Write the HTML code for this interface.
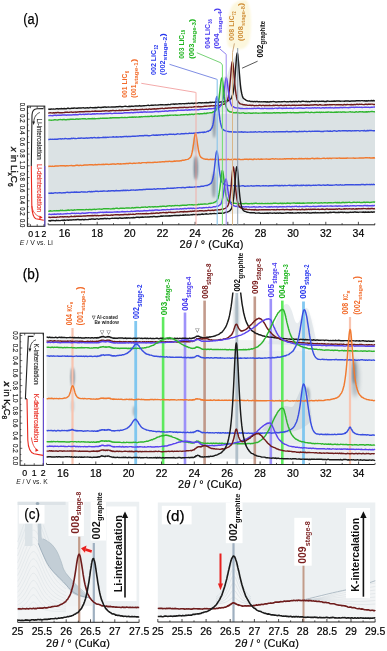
<!DOCTYPE html>
<html><head><meta charset="utf-8"><style>
html,body{margin:0;padding:0;background:#fff;width:387px;height:651px;overflow:hidden}
svg{display:block}
</style></head><body>
<svg width="387" height="651" viewBox="0 0 387 651">
<defs><filter id="bl1" x="-50%" y="-50%" width="200%" height="200%"><feGaussianBlur stdDeviation="1.2"/></filter><filter id="bl2" x="-50%" y="-50%" width="200%" height="200%"><feGaussianBlur stdDeviation="2"/></filter></defs>
<rect width="387" height="651" fill="#fff"/>
<text x="23.2" y="24.2" font-family="'Liberation Sans', Arial, sans-serif" font-size="15.5" fill="#000" stroke="#000" stroke-width="0.25" textLength="15.6" lengthAdjust="spacingAndGlyphs">(a)</text>
<polygon points="48.3,109.8 130.0,106.9 190.0,104.1 210.0,103.3 375.0,101.3 375.0,111.7 210.0,113.7 190.0,114.5 130.0,117.3 48.3,120.2" fill="#eef1f2"/>
<polygon points="48.3,120.2 130.0,117.3 190.0,114.5 210.0,113.7 375.0,111.7 375.0,202.2 210.0,204.2 190.0,205.1 130.0,208.0 48.3,211.0" fill="#dbe2e4"/>
<polygon points="48.3,211.0 130.0,208.0 190.0,205.1 210.0,204.2 375.0,202.2 375.0,212.0 210.0,214.0 190.0,214.9 130.0,217.8 48.3,220.8" fill="#eef1f2"/>
<ellipse cx="195.8" cy="168" rx="1.9" ry="12" fill="#56677a" opacity="0.85" filter="url(#bl1)"/>
<ellipse cx="195.0" cy="145" rx="1.6" ry="7" fill="#8a98a4" opacity="0.5" filter="url(#bl1)"/>
<ellipse cx="214.2" cy="124" rx="1.8" ry="14" fill="#6d7c8a" opacity="0.65" filter="url(#bl1)"/>
<ellipse cx="213.8" cy="185" rx="2.0" ry="13" fill="#6d7c8a" opacity="0.65" filter="url(#bl1)"/>
<ellipse cx="219.5" cy="188" rx="1.6" ry="9" fill="#ffffff" opacity="0.8" filter="url(#bl1)"/>
<path d="M213,112 C216,104 218,96 220,86 C222,78 224,76 227,76 C229,70 231,62 233,60 C235,56 237,53 238.5,56 C240,66 241,84 243,98 C244,104 246,106 248,108 L248,112 Z" fill="#e2e7e9" opacity="0.9"/>
<polyline points="48.3,109.0 49.3,109.3 50.3,109.3 51.3,109.0 52.3,109.1 53.3,109.0 54.3,109.1 55.3,109.1 56.3,108.7 57.3,108.6 58.3,109.0 59.3,108.8 60.3,108.9 61.3,108.5 62.3,108.7 63.3,108.8 64.3,108.5 65.3,108.8 66.3,108.8 67.3,108.3 68.3,108.2 69.3,108.5 70.3,108.6 71.3,108.3 72.3,108.2 73.3,108.3 74.3,108.0 75.3,108.1 76.3,108.2 77.3,108.2 78.3,108.0 79.3,108.0 80.3,107.9 81.3,108.0 82.3,107.9 83.3,107.7 84.3,108.1 85.3,107.9 86.3,107.9 87.3,107.7 88.3,108.0 89.3,107.9 90.3,107.5 91.3,107.6 92.3,107.7 93.3,107.7 94.3,107.8 95.3,107.5 96.3,107.7 97.3,107.5 98.3,107.3 99.3,107.4 100.3,107.5 101.3,107.5 102.3,107.3 103.3,107.3 104.3,107.0 105.3,107.0 106.3,107.3 107.3,107.1 108.3,106.9 109.3,107.1 110.3,107.1 111.3,107.0 112.3,106.9 113.3,106.9 114.3,106.9 115.3,107.0 116.3,106.8 117.3,106.7 118.3,106.7 119.3,106.4 120.3,106.4 121.3,106.7 122.3,106.8 123.3,106.6 124.3,106.4 125.3,106.3 126.3,106.4 127.3,106.6 128.3,106.5 129.3,106.3 130.3,106.5 131.3,106.1 132.3,106.2 133.3,106.4 134.3,106.1 135.3,106.0 136.3,105.9 137.3,106.0 138.3,106.1 139.3,105.6 140.3,106.0 141.3,105.9 142.3,105.9 143.3,105.8 144.3,105.8 145.3,105.6 146.3,105.6 147.3,105.4 148.3,105.2 149.3,105.6 150.3,105.4 151.3,105.1 152.3,105.2 153.3,105.2 154.3,105.1 155.3,105.0 156.3,105.1 157.3,105.1 158.3,105.0 159.3,104.9 160.3,104.6 161.3,104.7 162.3,104.6 163.3,104.8 164.3,104.9 165.3,104.8 166.3,104.7 167.3,104.7 168.3,104.4 169.3,104.6 170.3,104.5 171.3,104.1 172.3,104.1 173.3,104.0 174.3,104.3 175.3,104.0 176.3,103.9 177.3,104.1 178.3,103.9 179.3,103.7 180.3,103.7 181.3,103.9 182.3,103.6 183.3,103.6 184.3,103.8 185.3,103.6 186.3,103.5 187.3,103.6 188.3,103.3 189.3,103.4 190.3,103.4 191.3,103.2 192.3,103.1 193.3,103.5 194.3,103.2 195.3,103.0 196.3,103.2 197.3,103.2 198.3,102.8 199.3,102.8 200.3,102.8 201.3,103.0 202.3,102.7 203.3,102.9 204.3,102.8 205.3,102.7 206.3,102.5 207.3,102.8 208.3,102.7 209.3,102.5 210.3,102.3 211.3,102.5 212.3,102.3 213.3,102.4 214.3,102.2 215.3,102.3 216.3,102.0 217.3,102.0 218.3,102.3 219.3,102.2 220.3,101.9 221.3,102.1 222.3,101.7 223.3,101.9 224.3,101.6 225.3,101.3 226.3,101.0 227.3,100.6 228.3,100.7 229.3,99.8 230.3,99.4 231.3,98.3 231.8,97.2 232.3,95.7 232.8,94.3 233.3,91.9 233.8,88.5 234.3,84.2 234.8,78.9 235.3,72.7 235.8,66.0 236.3,59.9 236.8,55.0 237.3,53.0 237.8,54.8 238.3,59.9 238.8,66.0 239.3,72.8 239.8,78.8 240.3,84.3 240.8,88.6 241.3,91.4 241.8,93.9 242.3,95.7 242.8,97.3 243.3,98.1 244.3,99.0 245.3,99.7 246.3,100.4 247.3,100.8 248.3,101.1 249.3,101.0 250.3,101.4 251.3,101.4 252.3,101.4 253.3,101.7 254.3,101.4 255.3,101.7 256.3,101.4 257.3,101.5 258.3,101.9 259.3,101.6 260.3,101.9 261.3,101.8 262.3,101.9 263.3,101.7 264.3,101.7 265.3,101.7 266.3,102.0 267.3,101.8 268.3,102.0 269.3,102.0 270.3,101.6 271.3,101.8 272.3,101.6 273.3,101.5 274.3,101.6 275.3,101.9 276.3,101.9 277.3,101.9 278.3,101.7 279.3,101.8 280.3,101.9 281.3,101.7 282.3,101.8 283.3,101.6 284.3,101.5 285.3,101.6 286.3,101.9 287.3,101.7 288.3,101.9 289.3,101.6 290.3,101.5 291.3,101.8 292.3,101.8 293.3,101.4 294.3,101.7 295.3,101.4 296.3,101.4 297.3,101.8 298.3,101.3 299.3,101.4 300.3,101.8 301.3,101.5 302.3,101.3 303.3,101.3 304.3,101.4 305.3,101.6 306.3,101.3 307.3,101.7 308.3,101.4 309.3,101.7 310.3,101.6 311.3,101.3 312.3,101.3 313.3,101.4 314.3,101.2 315.3,101.5 316.3,101.1 317.3,101.1 318.3,101.6 319.3,101.2 320.3,101.4 321.3,101.3 322.3,101.2 323.3,101.1 324.3,101.5 325.3,101.5 326.3,101.5 327.3,101.0 328.3,101.1 329.3,101.3 330.3,101.4 331.3,101.2 332.3,101.3 333.3,101.3 334.3,101.0 335.3,101.2 336.3,101.0 337.3,101.0 338.3,100.9 339.3,101.0 340.3,101.3 341.3,101.1 342.3,101.1 343.3,101.1 344.3,101.3 345.3,101.0 346.3,100.9 347.3,100.9 348.3,100.9 349.3,101.2 350.3,101.2 351.3,100.9 352.3,100.9 353.3,101.0 354.3,101.0 355.3,101.0 356.3,100.8 357.3,100.7 358.3,100.8 359.3,100.7 360.3,100.9 361.3,100.6 362.3,100.6 363.3,100.9 364.3,100.7 365.3,101.0 366.3,100.8 367.3,101.0 368.3,100.6 369.3,100.8 370.3,100.9 371.3,100.5 372.3,100.9 373.3,100.5 374.3,100.8 375.0,100.9" fill="none" stroke="#1a1a1a" stroke-width="1.45" stroke-linejoin="round" />
<polyline points="48.3,113.2 49.3,112.9 50.3,112.7 51.3,112.9 52.3,113.1 53.3,112.7 54.3,113.0 55.3,112.6 56.3,112.9 57.3,112.4 58.3,112.5 59.3,112.8 60.3,112.7 61.3,112.7 62.3,112.7 63.3,112.6 64.3,112.5 65.3,112.2 66.3,112.3 67.3,112.1 68.3,112.4 69.3,112.3 70.3,112.1 71.3,111.9 72.3,112.4 73.3,112.2 74.3,112.1 75.3,112.0 76.3,112.2 77.3,111.9 78.3,111.9 79.3,111.8 80.3,111.7 81.3,111.6 82.3,111.8 83.3,111.7 84.3,111.7 85.3,111.4 86.3,111.5 87.3,111.4 88.3,111.4 89.3,111.4 90.3,111.6 91.3,111.4 92.3,111.3 93.3,111.4 94.3,111.2 95.3,111.0 96.3,111.3 97.3,111.2 98.3,111.3 99.3,111.1 100.3,111.2 101.3,111.2 102.3,110.9 103.3,111.0 104.3,111.0 105.3,110.8 106.3,110.8 107.3,110.9 108.3,111.0 109.3,111.0 110.3,110.6 111.3,110.8 112.3,110.4 113.3,110.4 114.3,110.6 115.3,110.8 116.3,110.4 117.3,110.6 118.3,110.6 119.3,110.3 120.3,110.5 121.3,110.5 122.3,110.2 123.3,110.4 124.3,110.4 125.3,110.2 126.3,110.3 127.3,110.3 128.3,110.3 129.3,110.1 130.3,109.9 131.3,109.8 132.3,109.8 133.3,109.9 134.3,109.9 135.3,109.5 136.3,109.8 137.3,109.8 138.3,109.6 139.3,109.6 140.3,109.4 141.3,109.6 142.3,109.2 143.3,109.6 144.3,109.5 145.3,109.4 146.3,109.1 147.3,109.4 148.3,109.4 149.3,108.9 150.3,109.2 151.3,109.2 152.3,109.0 153.3,109.0 154.3,108.8 155.3,109.0 156.3,109.0 157.3,108.6 158.3,108.8 159.3,108.6 160.3,108.4 161.3,108.4 162.3,108.3 163.3,108.6 164.3,108.6 165.3,108.1 166.3,108.3 167.3,108.2 168.3,108.0 169.3,108.0 170.3,107.9 171.3,108.1 172.3,107.7 173.3,107.8 174.3,107.8 175.3,107.6 176.3,107.8 177.3,107.8 178.3,107.8 179.3,107.5 180.3,107.5 181.3,107.5 182.3,107.4 183.3,107.5 184.3,107.3 185.3,107.4 186.3,107.4 187.3,107.4 188.3,107.4 189.3,107.1 190.3,107.1 191.3,107.2 192.3,107.1 193.3,107.0 194.3,106.8 195.3,106.7 196.3,106.6 197.3,106.9 198.3,106.5 199.3,106.8 200.3,106.6 201.3,106.8 202.3,106.6 203.3,106.6 204.3,106.2 205.3,106.3 206.3,106.3 207.3,106.1 208.3,106.1 209.3,106.0 210.3,106.0 211.3,105.7 212.3,105.9 213.3,105.8 214.3,105.7 215.3,105.7 216.3,105.8 217.3,105.6 218.3,105.4 219.3,105.4 220.3,105.1 221.3,104.8 222.3,104.5 223.3,104.3 224.3,104.0 225.3,103.5 226.3,102.5 226.4,102.2 226.9,101.6 227.3,100.5 227.4,100.4 227.9,98.6 228.3,97.0 228.4,96.7 228.9,93.4 229.3,90.3 229.4,89.7 229.9,84.9 230.3,80.4 230.4,79.1 230.9,73.3 231.3,68.6 231.4,67.5 231.9,63.4 232.3,61.7 232.4,61.7 232.9,63.4 233.3,66.7 233.4,67.5 233.9,73.4 234.3,78.2 234.4,79.4 234.9,84.9 235.3,88.7 235.4,89.6 235.9,93.5 236.3,96.0 236.4,96.5 236.9,98.7 237.3,100.0 237.4,100.3 237.9,101.3 238.3,101.8 238.4,101.9 239.3,103.1 240.3,103.9 241.3,104.1 242.3,104.3 243.3,104.8 244.3,104.8 245.3,105.0 246.3,104.9 247.3,105.2 248.3,105.4 249.3,105.3 250.3,105.3 251.3,105.5 252.3,105.2 253.3,105.4 254.3,105.7 255.3,105.6 256.3,105.4 257.3,105.6 258.3,105.5 259.3,105.3 260.3,105.3 261.3,105.7 262.3,105.4 263.3,105.3 264.3,105.7 265.3,105.5 266.3,105.4 267.3,105.5 268.3,105.6 269.3,105.3 270.3,105.5 271.3,105.6 272.3,105.6 273.3,105.3 274.3,105.5 275.3,105.3 276.3,105.4 277.3,105.2 278.3,105.5 279.3,105.6 280.3,105.3 281.3,105.2 282.3,105.6 283.3,105.5 284.3,105.5 285.3,105.1 286.3,105.5 287.3,105.4 288.3,105.2 289.3,105.3 290.3,105.4 291.3,105.4 292.3,105.1 293.3,105.3 294.3,105.1 295.3,105.5 296.3,105.2 297.3,105.4 298.3,105.3 299.3,105.2 300.3,105.1 301.3,105.2 302.3,105.0 303.3,105.0 304.3,105.2 305.3,105.0 306.3,105.2 307.3,105.0 308.3,105.2 309.3,105.2 310.3,105.0 311.3,104.9 312.3,105.0 313.3,105.0 314.3,104.8 315.3,104.8 316.3,104.8 317.3,105.0 318.3,105.2 319.3,104.8 320.3,104.7 321.3,105.0 322.3,105.1 323.3,105.1 324.3,105.0 325.3,104.8 326.3,105.0 327.3,104.7 328.3,104.9 329.3,104.6 330.3,104.8 331.3,104.8 332.3,104.7 333.3,104.6 334.3,104.6 335.3,104.9 336.3,104.7 337.3,104.8 338.3,104.6 339.3,104.8 340.3,104.6 341.3,104.7 342.3,104.9 343.3,104.9 344.3,104.4 345.3,104.8 346.3,104.8 347.3,104.5 348.3,104.6 349.3,104.6 350.3,104.8 351.3,104.5 352.3,104.8 353.3,104.7 354.3,104.4 355.3,104.7 356.3,104.3 357.3,104.3 358.3,104.6 359.3,104.3 360.3,104.4 361.3,104.3 362.3,104.4 363.3,104.6 364.3,104.6 365.3,104.2 366.3,104.2 367.3,104.6 368.3,104.1 369.3,104.2 370.3,104.2 371.3,104.1 372.3,104.1 373.3,104.4 374.3,104.4 375.0,104.4" fill="none" stroke="#6e1c1c" stroke-width="1.45" stroke-linejoin="round" />
<polyline points="48.3,115.8 49.3,115.6 50.3,115.5 51.3,115.6 52.3,115.7 53.3,115.5 54.3,115.3 55.3,115.1 56.3,115.5 57.3,115.3 58.3,115.2 59.3,115.3 60.3,115.2 61.3,115.2 62.3,114.9 63.3,115.0 64.3,115.0 65.3,114.9 66.3,115.2 67.3,114.9 68.3,115.0 69.3,115.0 70.3,114.9 71.3,114.9 72.3,114.9 73.3,114.6 74.3,114.9 75.3,114.5 76.3,114.8 77.3,114.8 78.3,114.7 79.3,114.3 80.3,114.3 81.3,114.6 82.3,114.4 83.3,114.3 84.3,114.6 85.3,114.1 86.3,114.3 87.3,114.2 88.3,114.0 89.3,114.1 90.3,114.2 91.3,114.3 92.3,113.8 93.3,114.0 94.3,113.8 95.3,114.1 96.3,113.7 97.3,113.6 98.3,113.8 99.3,113.9 100.3,113.7 101.3,113.6 102.3,113.9 103.3,113.8 104.3,113.8 105.3,113.5 106.3,113.5 107.3,113.4 108.3,113.5 109.3,113.4 110.3,113.3 111.3,113.5 112.3,113.6 113.3,113.4 114.3,113.1 115.3,113.3 116.3,113.2 117.3,113.4 118.3,113.3 119.3,113.3 120.3,113.2 121.3,113.1 122.3,113.2 123.3,113.1 124.3,112.8 125.3,112.7 126.3,112.8 127.3,112.8 128.3,112.6 129.3,112.7 130.3,112.8 131.3,112.4 132.3,112.8 133.3,112.7 134.3,112.4 135.3,112.4 136.3,112.4 137.3,112.3 138.3,112.5 139.3,112.3 140.3,112.3 141.3,112.0 142.3,112.4 143.3,112.0 144.3,112.0 145.3,111.8 146.3,112.2 147.3,111.9 148.3,112.1 149.3,112.0 150.3,112.0 151.3,111.9 152.3,111.9 153.3,111.9 154.3,111.8 155.3,111.4 156.3,111.5 157.3,111.5 158.3,111.7 159.3,111.5 160.3,111.4 161.3,111.4 162.3,111.2 163.3,111.4 164.3,111.2 165.3,111.0 166.3,111.0 167.3,111.2 168.3,111.0 169.3,110.7 170.3,110.7 171.3,110.9 172.3,110.8 173.3,110.9 174.3,110.5 175.3,110.6 176.3,110.7 177.3,110.3 178.3,110.3 179.3,110.4 180.3,110.3 181.3,110.1 182.3,110.2 183.3,110.3 184.3,110.2 185.3,109.9 186.3,109.9 187.3,110.2 188.3,110.0 189.3,109.8 190.3,110.1 191.3,109.6 192.3,109.7 193.3,109.9 194.3,109.8 195.3,109.5 196.3,109.8 197.3,109.6 198.3,109.7 199.3,109.6 200.3,109.3 201.3,109.4 202.3,109.3 203.3,109.4 204.3,109.3 205.3,109.2 206.3,109.2 207.3,109.2 208.3,108.8 209.3,108.6 210.3,108.8 211.3,108.8 212.3,108.6 213.3,108.5 214.3,108.3 215.3,108.4 216.3,108.2 217.3,107.8 218.3,107.3 219.3,107.2 220.3,106.2 220.8,105.5 221.3,104.8 221.8,103.9 222.3,102.0 222.8,100.0 223.3,97.4 223.8,94.3 224.3,90.4 224.8,86.3 225.3,82.0 225.8,79.0 226.3,77.8 226.8,79.0 227.3,82.0 227.8,86.1 228.3,90.4 228.8,94.0 229.3,97.5 229.8,100.0 230.3,102.0 230.8,103.7 231.3,104.8 231.8,105.6 232.3,106.4 233.3,106.7 234.3,107.4 235.3,107.8 236.3,107.9 237.3,108.0 238.3,108.0 239.3,108.1 240.3,108.5 241.3,108.5 242.3,108.4 243.3,108.6 244.3,108.6 245.3,108.6 246.3,108.4 247.3,108.4 248.3,108.6 249.3,108.4 250.3,108.6 251.3,108.5 252.3,108.4 253.3,108.5 254.3,108.3 255.3,108.4 256.3,108.4 257.3,108.2 258.3,108.3 259.3,108.3 260.3,108.6 261.3,108.5 262.3,108.3 263.3,108.7 264.3,108.3 265.3,108.4 266.3,108.5 267.3,108.5 268.3,108.4 269.3,108.5 270.3,108.4 271.3,108.5 272.3,108.3 273.3,108.6 274.3,108.4 275.3,108.1 276.3,108.1 277.3,108.5 278.3,108.2 279.3,108.0 280.3,108.1 281.3,108.3 282.3,108.5 283.3,108.2 284.3,108.3 285.3,108.4 286.3,108.0 287.3,108.3 288.3,108.4 289.3,108.2 290.3,108.2 291.3,108.1 292.3,108.4 293.3,108.4 294.3,107.9 295.3,108.1 296.3,108.1 297.3,108.2 298.3,107.9 299.3,107.9 300.3,107.9 301.3,108.0 302.3,108.2 303.3,108.2 304.3,108.2 305.3,108.1 306.3,107.8 307.3,107.9 308.3,108.0 309.3,107.9 310.3,107.9 311.3,108.1 312.3,107.7 313.3,108.1 314.3,107.7 315.3,107.8 316.3,108.1 317.3,107.7 318.3,107.9 319.3,107.8 320.3,108.0 321.3,108.1 322.3,107.7 323.3,107.8 324.3,108.0 325.3,107.8 326.3,107.6 327.3,107.9 328.3,107.7 329.3,107.7 330.3,107.5 331.3,107.9 332.3,107.8 333.3,107.9 334.3,107.9 335.3,107.5 336.3,107.7 337.3,107.6 338.3,107.8 339.3,107.8 340.3,107.5 341.3,107.5 342.3,107.7 343.3,107.5 344.3,107.4 345.3,107.4 346.3,107.6 347.3,107.6 348.3,107.7 349.3,107.5 350.3,107.5 351.3,107.3 352.3,107.4 353.3,107.3 354.3,107.5 355.3,107.3 356.3,107.3 357.3,107.3 358.3,107.4 359.3,107.3 360.3,107.4 361.3,107.2 362.3,107.5 363.3,107.4 364.3,107.3 365.3,107.1 366.3,107.2 367.3,107.4 368.3,107.3 369.3,107.4 370.3,107.4 371.3,107.1 372.3,107.2 373.3,107.1 374.3,107.0 375.0,107.0" fill="none" stroke="#5a44ee" stroke-width="1.45" stroke-linejoin="round" />
<polyline points="48.3,120.1 49.3,120.0 50.3,120.1 51.3,120.2 52.3,120.1 53.3,120.1 54.3,119.8 55.3,119.8 56.3,119.9 57.3,120.1 58.3,119.8 59.3,119.6 60.3,119.5 61.3,119.6 62.3,119.8 63.3,119.5 64.3,119.5 65.3,119.7 66.3,119.8 67.3,119.4 68.3,119.5 69.3,119.5 70.3,119.2 71.3,119.3 72.3,119.2 73.3,119.2 74.3,119.4 75.3,119.3 76.3,119.0 77.3,119.0 78.3,119.2 79.3,118.9 80.3,119.0 81.3,118.9 82.3,118.8 83.3,118.7 84.3,118.7 85.3,118.8 86.3,119.1 87.3,118.9 88.3,118.6 89.3,118.8 90.3,118.6 91.3,118.7 92.3,118.5 93.3,118.8 94.3,118.5 95.3,118.7 96.3,118.6 97.3,118.6 98.3,118.5 99.3,118.6 100.3,118.3 101.3,118.4 102.3,118.3 103.3,118.3 104.3,118.2 105.3,118.2 106.3,118.1 107.3,118.3 108.3,118.1 109.3,118.1 110.3,117.8 111.3,118.0 112.3,117.8 113.3,117.7 114.3,117.8 115.3,117.8 116.3,117.7 117.3,117.6 118.3,117.7 119.3,117.7 120.3,117.6 121.3,117.4 122.3,117.5 123.3,117.6 124.3,117.5 125.3,117.5 126.3,117.6 127.3,117.5 128.3,117.4 129.3,117.1 130.3,117.2 131.3,117.3 132.3,117.0 133.3,117.3 134.3,116.9 135.3,117.2 136.3,116.9 137.3,117.1 138.3,117.1 139.3,116.8 140.3,117.0 141.3,116.6 142.3,116.9 143.3,116.6 144.3,116.6 145.3,116.4 146.3,116.6 147.3,116.4 148.3,116.5 149.3,116.5 150.3,116.4 151.3,116.0 152.3,116.5 153.3,116.4 154.3,116.2 155.3,116.0 156.3,116.1 157.3,116.2 158.3,115.9 159.3,116.0 160.3,115.9 161.3,115.8 162.3,116.0 163.3,115.7 164.3,115.7 165.3,115.4 166.3,115.6 167.3,115.3 168.3,115.6 169.3,115.2 170.3,115.2 171.3,115.1 172.3,115.1 173.3,115.2 174.3,115.1 175.3,115.0 176.3,115.3 177.3,115.2 178.3,115.1 179.3,115.1 180.3,115.0 181.3,114.7 182.3,114.9 183.3,114.6 184.3,114.7 185.3,114.6 186.3,114.4 187.3,114.7 188.3,114.7 189.3,114.3 190.3,114.6 191.3,114.2 192.3,114.3 193.3,114.5 194.3,114.3 195.3,113.9 196.3,114.0 197.3,113.9 198.3,113.8 199.3,114.0 200.3,113.8 201.3,113.8 202.3,113.7 203.3,113.6 204.3,113.3 205.3,113.5 206.3,113.5 207.3,113.0 208.3,113.1 209.3,112.9 210.3,112.7 211.3,112.7 212.3,112.6 213.3,111.8 214.3,111.8 215.3,110.9 215.8,110.6 216.3,109.6 216.8,109.0 217.3,107.4 217.8,105.7 218.3,103.7 218.8,100.4 219.3,96.7 219.8,92.0 220.3,87.2 220.8,82.6 221.3,79.3 221.8,77.9 222.3,79.0 222.8,82.5 223.3,87.2 223.8,92.1 224.3,96.7 224.8,100.5 225.3,103.2 225.8,105.7 226.3,107.3 226.8,108.5 227.3,109.4 227.8,110.1 228.3,110.9 229.3,111.5 230.3,112.0 231.3,112.0 232.3,112.2 233.3,112.7 234.3,112.8 235.3,112.9 236.3,112.5 237.3,112.8 238.3,112.9 239.3,113.0 240.3,113.1 241.3,113.0 242.3,112.9 243.3,112.7 244.3,113.2 245.3,113.3 246.3,113.2 247.3,113.1 248.3,112.9 249.3,112.9 250.3,113.2 251.3,113.2 252.3,113.3 253.3,112.9 254.3,113.1 255.3,113.0 256.3,113.0 257.3,113.1 258.3,113.2 259.3,113.1 260.3,113.1 261.3,113.1 262.3,113.0 263.3,113.0 264.3,112.8 265.3,113.1 266.3,112.7 267.3,113.0 268.3,112.9 269.3,112.9 270.3,113.0 271.3,112.9 272.3,113.1 273.3,112.7 274.3,112.6 275.3,113.1 276.3,112.7 277.3,112.7 278.3,112.8 279.3,112.8 280.3,113.0 281.3,112.9 282.3,112.7 283.3,112.8 284.3,112.7 285.3,112.7 286.3,112.7 287.3,112.5 288.3,112.6 289.3,112.6 290.3,112.5 291.3,112.8 292.3,112.6 293.3,112.5 294.3,112.7 295.3,112.8 296.3,112.8 297.3,112.7 298.3,112.7 299.3,112.5 300.3,112.4 301.3,112.4 302.3,112.5 303.3,112.4 304.3,112.5 305.3,112.3 306.3,112.3 307.3,112.4 308.3,112.3 309.3,112.6 310.3,112.5 311.3,112.3 312.3,112.4 313.3,112.6 314.3,112.4 315.3,112.4 316.3,112.3 317.3,112.2 318.3,112.4 319.3,112.1 320.3,112.5 321.3,112.1 322.3,112.4 323.3,112.2 324.3,112.4 325.3,112.3 326.3,112.1 327.3,112.3 328.3,112.0 329.3,112.1 330.3,112.2 331.3,112.1 332.3,112.3 333.3,112.4 334.3,112.1 335.3,112.3 336.3,112.0 337.3,112.2 338.3,112.0 339.3,112.1 340.3,111.9 341.3,112.3 342.3,111.9 343.3,112.0 344.3,112.0 345.3,112.2 346.3,112.1 347.3,112.1 348.3,112.1 349.3,111.9 350.3,111.8 351.3,112.1 352.3,111.9 353.3,112.1 354.3,112.2 355.3,112.0 356.3,111.7 357.3,112.1 358.3,112.0 359.3,111.8 360.3,111.7 361.3,111.9 362.3,111.7 363.3,112.0 364.3,111.9 365.3,112.0 366.3,111.7 367.3,112.0 368.3,111.6 369.3,111.9 370.3,111.6 371.3,111.5 372.3,111.5 373.3,111.6 374.3,111.8 375.0,111.6" fill="none" stroke="#2fb52f" stroke-width="1.45" stroke-linejoin="round" />
<polyline points="48.3,139.4 49.3,139.4 50.3,139.2 51.3,139.4 52.3,139.3 53.3,139.4 54.3,139.2 55.3,139.3 56.3,139.3 57.3,139.2 58.3,139.0 59.3,138.9 60.3,138.8 61.3,139.1 62.3,138.7 63.3,138.9 64.3,138.8 65.3,138.5 66.3,138.6 67.3,138.9 68.3,138.7 69.3,138.8 70.3,138.8 71.3,138.3 72.3,138.6 73.3,138.2 74.3,138.4 75.3,138.4 76.3,138.6 77.3,138.4 78.3,138.1 79.3,138.3 80.3,138.2 81.3,138.0 82.3,138.1 83.3,138.3 84.3,138.3 85.3,138.2 86.3,137.8 87.3,138.2 88.3,137.9 89.3,138.1 90.3,137.7 91.3,137.6 92.3,138.0 93.3,137.6 94.3,137.5 95.3,137.7 96.3,137.9 97.3,137.8 98.3,137.5 99.3,137.8 100.3,137.6 101.3,137.6 102.3,137.5 103.3,137.3 104.3,137.5 105.3,137.3 106.3,137.5 107.3,137.3 108.3,137.4 109.3,137.1 110.3,137.1 111.3,137.1 112.3,137.0 113.3,136.8 114.3,137.0 115.3,137.1 116.3,136.8 117.3,137.0 118.3,137.0 119.3,136.9 120.3,136.7 121.3,137.0 122.3,136.8 123.3,136.7 124.3,136.4 125.3,136.6 126.3,136.3 127.3,136.7 128.3,136.4 129.3,136.4 130.3,136.4 131.3,136.4 132.3,136.3 133.3,136.2 134.3,136.2 135.3,136.3 136.3,136.1 137.3,136.0 138.3,136.1 139.3,135.7 140.3,135.7 141.3,135.8 142.3,135.6 143.3,135.9 144.3,135.5 145.3,135.4 146.3,135.5 147.3,135.5 148.3,135.7 149.3,135.7 150.3,135.6 151.3,135.4 152.3,135.1 153.3,135.0 154.3,135.3 155.3,135.3 156.3,135.0 157.3,135.3 158.3,135.0 159.3,135.0 160.3,135.0 161.3,134.6 162.3,134.6 163.3,135.0 164.3,134.6 165.3,134.4 166.3,134.5 167.3,134.7 168.3,134.4 169.3,134.3 170.3,134.3 171.3,134.3 172.3,134.4 173.3,134.1 174.3,134.4 175.3,134.4 176.3,134.3 177.3,133.8 178.3,133.9 179.3,134.1 180.3,134.1 181.3,133.6 182.3,133.7 183.3,133.7 184.3,133.8 185.3,133.4 186.3,133.5 187.3,133.6 188.3,133.6 189.3,133.1 190.3,133.4 191.3,133.3 192.3,133.4 193.3,133.1 194.3,133.3 195.3,132.9 196.3,132.7 197.3,132.7 198.3,132.8 199.3,132.5 200.3,132.5 201.3,132.4 202.3,132.2 203.3,132.5 204.3,132.0 205.3,132.2 206.3,131.8 207.3,131.3 208.3,131.4 209.3,130.4 210.3,130.3 210.9,129.2 211.3,128.8 211.4,128.8 211.9,127.6 212.3,127.0 212.4,126.3 212.9,124.9 213.3,122.7 213.4,122.4 213.9,119.1 214.3,116.1 214.4,115.4 214.9,110.8 215.3,106.9 215.4,106.1 215.9,101.2 216.3,98.2 216.4,97.9 216.9,96.4 217.3,97.6 217.4,97.8 217.9,101.3 218.3,104.8 218.4,105.7 218.9,110.6 219.3,114.6 219.4,115.4 219.9,119.4 220.3,121.7 220.4,122.4 220.9,124.6 221.3,125.9 221.4,126.4 221.9,127.8 222.3,128.6 222.4,128.9 222.9,129.5 223.3,129.7 224.3,130.4 225.3,130.8 226.3,131.1 227.3,131.4 228.3,131.5 229.3,131.8 230.3,131.7 231.3,131.8 232.3,132.0 233.3,132.0 234.3,131.9 235.3,132.0 236.3,132.1 237.3,132.0 238.3,131.9 239.3,131.9 240.3,132.1 241.3,131.8 242.3,132.0 243.3,132.2 244.3,131.9 245.3,132.0 246.3,132.1 247.3,132.2 248.3,132.1 249.3,132.1 250.3,132.0 251.3,132.0 252.3,132.1 253.3,131.9 254.3,132.1 255.3,131.7 256.3,132.1 257.3,132.1 258.3,131.9 259.3,131.7 260.3,131.9 261.3,132.0 262.3,132.1 263.3,132.1 264.3,131.8 265.3,131.7 266.3,131.7 267.3,132.1 268.3,131.9 269.3,131.7 270.3,131.9 271.3,132.1 272.3,131.9 273.3,131.7 274.3,132.0 275.3,131.9 276.3,131.6 277.3,131.9 278.3,131.8 279.3,131.8 280.3,131.7 281.3,131.6 282.3,131.7 283.3,131.7 284.3,131.7 285.3,131.9 286.3,131.4 287.3,131.5 288.3,131.9 289.3,131.7 290.3,131.7 291.3,131.7 292.3,131.5 293.3,131.5 294.3,131.4 295.3,131.4 296.3,131.8 297.3,131.7 298.3,131.7 299.3,131.3 300.3,131.6 301.3,131.4 302.3,131.5 303.3,131.6 304.3,131.2 305.3,131.4 306.3,131.5 307.3,131.6 308.3,131.4 309.3,131.3 310.3,131.4 311.3,131.4 312.3,131.3 313.3,131.4 314.3,131.2 315.3,131.1 316.3,131.2 317.3,131.1 318.3,131.3 319.3,131.3 320.3,131.4 321.3,131.4 322.3,131.4 323.3,131.5 324.3,131.1 325.3,131.1 326.3,131.1 327.3,131.0 328.3,131.2 329.3,131.2 330.3,131.0 331.3,131.3 332.3,131.4 333.3,130.9 334.3,130.8 335.3,130.9 336.3,131.2 337.3,131.2 338.3,130.8 339.3,130.8 340.3,131.0 341.3,130.9 342.3,130.8 343.3,130.7 344.3,130.8 345.3,130.8 346.3,130.8 347.3,131.0 348.3,130.8 349.3,130.8 350.3,130.8 351.3,131.1 352.3,130.7 353.3,130.9 354.3,130.8 355.3,130.8 356.3,130.8 357.3,130.6 358.3,130.6 359.3,130.9 360.3,130.9 361.3,130.6 362.3,130.6 363.3,130.9 364.3,130.5 365.3,130.9 366.3,130.9 367.3,130.5 368.3,130.8 369.3,130.5 370.3,130.4 371.3,130.5 372.3,130.6 373.3,130.7 374.3,130.6 375.0,130.7" fill="none" stroke="#3a4fe0" stroke-width="1.45" stroke-linejoin="round" />
<polyline points="48.3,166.5 49.3,166.2 50.3,166.2 51.3,166.4 52.3,166.1 53.3,166.4 54.3,166.3 55.3,166.0 56.3,166.0 57.3,165.9 58.3,166.0 59.3,165.9 60.3,165.7 61.3,165.8 62.3,165.7 63.3,165.8 64.3,165.8 65.3,166.0 66.3,165.8 67.3,165.8 68.3,165.9 69.3,165.6 70.3,165.6 71.3,165.4 72.3,165.7 73.3,165.7 74.3,165.7 75.3,165.5 76.3,165.2 77.3,165.1 78.3,165.5 79.3,165.5 80.3,165.3 81.3,165.4 82.3,165.4 83.3,165.3 84.3,165.0 85.3,165.0 86.3,165.0 87.3,164.9 88.3,164.9 89.3,164.7 90.3,164.7 91.3,164.7 92.3,164.8 93.3,165.0 94.3,164.9 95.3,164.5 96.3,164.7 97.3,164.7 98.3,164.4 99.3,164.4 100.3,164.6 101.3,164.4 102.3,164.5 103.3,164.3 104.3,164.6 105.3,164.3 106.3,164.3 107.3,164.3 108.3,164.4 109.3,164.4 110.3,164.3 111.3,164.2 112.3,163.9 113.3,163.9 114.3,164.0 115.3,164.2 116.3,164.1 117.3,163.8 118.3,163.8 119.3,164.1 120.3,163.8 121.3,164.0 122.3,163.9 123.3,163.8 124.3,163.7 125.3,163.7 126.3,163.5 127.3,163.4 128.3,163.7 129.3,163.2 130.3,163.3 131.3,163.4 132.3,163.6 133.3,163.2 134.3,163.1 135.3,163.4 136.3,163.1 137.3,163.1 138.3,163.0 139.3,162.8 140.3,163.2 141.3,163.0 142.3,162.6 143.3,162.6 144.3,162.6 145.3,162.6 146.3,162.9 147.3,162.4 148.3,162.4 149.3,162.4 150.3,162.5 151.3,162.6 152.3,162.4 153.3,162.5 154.3,162.3 155.3,162.2 156.3,162.4 157.3,162.2 158.3,162.1 159.3,162.0 160.3,161.9 161.3,161.9 162.3,161.7 163.3,161.7 164.3,161.9 165.3,161.5 166.3,161.5 167.3,161.4 168.3,161.5 169.3,161.3 170.3,161.4 171.3,161.4 172.3,161.4 173.3,161.4 174.3,161.0 175.3,161.2 176.3,160.9 177.3,160.9 178.3,160.9 179.3,161.0 180.3,160.8 181.3,160.8 182.3,160.2 183.3,160.3 184.3,160.2 185.3,159.8 186.3,159.6 187.3,159.4 188.3,159.1 189.3,158.3 189.5,158.1 190.0,157.7 190.3,157.5 190.5,157.1 191.0,156.3 191.3,155.4 191.5,154.9 192.0,152.9 192.3,151.5 192.5,150.5 193.0,147.4 193.3,145.4 193.5,144.3 194.0,140.8 194.3,138.2 194.5,136.9 195.0,134.3 195.3,133.5 195.5,133.6 196.0,134.2 196.3,135.7 196.5,137.0 197.0,140.7 197.3,142.5 197.5,144.1 198.0,147.2 198.3,149.2 198.5,150.5 199.0,152.5 199.3,153.6 199.5,154.4 200.0,155.7 200.3,156.3 200.5,156.7 201.0,157.4 201.3,157.5 201.5,157.7 202.3,158.2 203.3,158.7 204.3,158.9 205.3,159.3 206.3,159.1 207.3,159.2 208.3,159.5 209.3,159.6 210.3,159.2 211.3,159.5 212.3,159.3 213.3,159.6 214.3,159.2 215.3,159.5 216.3,159.5 217.3,159.6 218.3,159.7 219.3,159.7 220.3,159.5 221.3,159.5 222.3,159.3 223.3,159.5 224.3,159.5 225.3,159.6 226.3,159.3 227.3,159.5 228.3,159.2 229.3,159.6 230.3,159.6 231.3,159.4 232.3,159.5 233.3,159.5 234.3,159.3 235.3,159.2 236.3,159.5 237.3,159.3 238.3,159.2 239.3,159.3 240.3,159.5 241.3,159.6 242.3,159.4 243.3,159.6 244.3,159.2 245.3,159.3 246.3,159.1 247.3,159.2 248.3,159.5 249.3,159.1 250.3,159.3 251.3,159.3 252.3,159.5 253.3,159.5 254.3,159.0 255.3,159.1 256.3,159.4 257.3,159.1 258.3,159.0 259.3,159.4 260.3,159.2 261.3,159.0 262.3,159.2 263.3,159.1 264.3,159.1 265.3,159.1 266.3,158.9 267.3,159.1 268.3,159.3 269.3,159.1 270.3,159.2 271.3,158.9 272.3,158.8 273.3,158.8 274.3,159.2 275.3,158.8 276.3,158.9 277.3,159.0 278.3,159.1 279.3,159.0 280.3,158.9 281.3,159.1 282.3,158.9 283.3,159.1 284.3,158.7 285.3,159.0 286.3,158.7 287.3,158.8 288.3,158.8 289.3,158.7 290.3,158.8 291.3,159.0 292.3,158.5 293.3,158.6 294.3,159.0 295.3,158.7 296.3,158.7 297.3,158.9 298.3,158.8 299.3,158.5 300.3,158.7 301.3,158.5 302.3,158.8 303.3,158.7 304.3,158.8 305.3,158.4 306.3,158.8 307.3,158.5 308.3,158.8 309.3,158.6 310.3,158.8 311.3,158.4 312.3,158.3 313.3,158.5 314.3,158.7 315.3,158.5 316.3,158.5 317.3,158.3 318.3,158.5 319.3,158.4 320.3,158.6 321.3,158.6 322.3,158.4 323.3,158.2 324.3,158.2 325.3,158.6 326.3,158.4 327.3,158.2 328.3,158.5 329.3,158.2 330.3,158.3 331.3,158.5 332.3,158.1 333.3,158.1 334.3,158.1 335.3,158.1 336.3,158.2 337.3,158.2 338.3,158.1 339.3,158.0 340.3,158.2 341.3,158.2 342.3,158.3 343.3,158.1 344.3,158.2 345.3,158.1 346.3,158.3 347.3,158.0 348.3,158.1 349.3,158.1 350.3,158.1 351.3,158.1 352.3,158.1 353.3,158.0 354.3,158.2 355.3,158.3 356.3,158.1 357.3,158.1 358.3,158.1 359.3,157.9 360.3,158.0 361.3,157.9 362.3,157.9 363.3,157.9 364.3,157.9 365.3,157.8 366.3,157.8 367.3,157.7 368.3,157.9 369.3,157.7 370.3,158.0 371.3,158.0 372.3,158.0 373.3,157.7 374.3,158.0 375.0,157.7" fill="none" stroke="#f07a30" stroke-width="1.45" stroke-linejoin="round" />
<polyline points="48.3,193.1 49.3,193.2 50.3,193.2 51.3,193.0 52.3,193.2 53.3,193.2 54.3,192.9 55.3,192.8 56.3,192.9 57.3,193.0 58.3,192.9 59.3,192.6 60.3,192.7 61.3,192.9 62.3,192.9 63.3,192.7 64.3,192.8 65.3,192.7 66.3,192.4 67.3,192.3 68.3,192.5 69.3,192.4 70.3,192.5 71.3,192.3 72.3,192.3 73.3,192.4 74.3,192.0 75.3,192.2 76.3,192.0 77.3,192.2 78.3,192.2 79.3,192.3 80.3,192.2 81.3,191.8 82.3,191.9 83.3,191.9 84.3,192.0 85.3,192.0 86.3,192.1 87.3,192.0 88.3,191.6 89.3,191.5 90.3,191.9 91.3,191.5 92.3,191.8 93.3,191.4 94.3,191.6 95.3,191.3 96.3,191.3 97.3,191.3 98.3,191.5 99.3,191.4 100.3,191.2 101.3,191.1 102.3,191.2 103.3,191.0 104.3,191.0 105.3,191.1 106.3,191.1 107.3,191.3 108.3,190.8 109.3,191.0 110.3,191.0 111.3,190.7 112.3,190.8 113.3,190.7 114.3,191.0 115.3,190.7 116.3,190.5 117.3,190.7 118.3,190.7 119.3,190.8 120.3,190.7 121.3,190.4 122.3,190.7 123.3,190.2 124.3,190.5 125.3,190.2 126.3,190.5 127.3,190.2 128.3,190.4 129.3,190.4 130.3,190.3 131.3,190.0 132.3,190.1 133.3,189.9 134.3,190.1 135.3,190.2 136.3,189.9 137.3,189.9 138.3,189.9 139.3,189.6 140.3,189.7 141.3,189.6 142.3,189.8 143.3,189.5 144.3,189.5 145.3,189.5 146.3,189.3 147.3,189.2 148.3,189.2 149.3,189.1 150.3,189.3 151.3,189.2 152.3,189.2 153.3,189.1 154.3,188.8 155.3,189.2 156.3,189.1 157.3,188.7 158.3,188.8 159.3,188.9 160.3,188.7 161.3,188.9 162.3,188.8 163.3,188.7 164.3,188.8 165.3,188.6 166.3,188.5 167.3,188.2 168.3,188.3 169.3,188.4 170.3,188.3 171.3,188.2 172.3,188.1 173.3,188.3 174.3,187.9 175.3,188.1 176.3,187.9 177.3,187.7 178.3,187.6 179.3,187.6 180.3,187.6 181.3,187.7 182.3,187.4 183.3,187.4 184.3,187.7 185.3,187.7 186.3,187.4 187.3,187.3 188.3,187.4 189.3,187.0 190.3,187.2 191.3,187.2 192.3,187.3 193.3,187.1 194.3,187.0 195.3,186.8 196.3,187.0 197.3,186.7 198.3,186.6 199.3,186.7 200.3,186.5 201.3,186.2 202.3,186.3 203.3,186.3 204.3,185.9 205.3,185.6 206.3,185.4 207.3,185.5 208.3,184.8 209.3,184.6 210.3,183.7 210.8,183.4 211.3,182.9 211.8,181.7 212.3,180.4 212.8,178.8 213.3,176.5 213.8,173.4 214.3,169.5 214.8,164.9 215.3,160.4 215.8,155.7 216.3,152.4 216.8,151.0 217.3,152.2 217.8,156.0 218.3,160.2 218.8,165.3 219.3,169.5 219.8,173.3 220.3,176.2 220.8,178.5 221.3,180.5 221.8,181.7 222.3,182.6 222.8,183.1 223.3,183.7 224.3,184.4 225.3,184.9 226.3,185.1 227.3,185.2 228.3,185.5 229.3,185.6 230.3,185.6 231.3,185.7 232.3,185.6 233.3,185.6 234.3,185.6 235.3,186.1 236.3,186.1 237.3,186.0 238.3,185.8 239.3,186.1 240.3,186.1 241.3,185.9 242.3,185.8 243.3,185.7 244.3,186.2 245.3,186.2 246.3,186.1 247.3,185.9 248.3,186.0 249.3,186.1 250.3,185.9 251.3,185.7 252.3,186.1 253.3,185.9 254.3,186.0 255.3,185.9 256.3,185.6 257.3,185.8 258.3,185.6 259.3,185.7 260.3,186.1 261.3,185.9 262.3,185.8 263.3,185.6 264.3,185.9 265.3,185.8 266.3,185.8 267.3,185.9 268.3,186.0 269.3,185.7 270.3,185.8 271.3,185.7 272.3,185.8 273.3,185.8 274.3,185.5 275.3,185.5 276.3,185.5 277.3,185.4 278.3,185.7 279.3,185.5 280.3,185.8 281.3,185.4 282.3,185.4 283.3,185.8 284.3,185.4 285.3,185.5 286.3,185.6 287.3,185.6 288.3,185.4 289.3,185.3 290.3,185.5 291.3,185.4 292.3,185.7 293.3,185.4 294.3,185.7 295.3,185.2 296.3,185.5 297.3,185.3 298.3,185.4 299.3,185.4 300.3,185.5 301.3,185.2 302.3,185.5 303.3,185.1 304.3,185.4 305.3,185.5 306.3,185.3 307.3,185.5 308.3,185.2 309.3,185.2 310.3,185.5 311.3,185.5 312.3,185.4 313.3,185.1 314.3,185.4 315.3,185.1 316.3,185.4 317.3,185.1 318.3,185.0 319.3,185.0 320.3,185.2 321.3,185.4 322.3,185.1 323.3,184.9 324.3,185.2 325.3,185.3 326.3,185.2 327.3,184.8 328.3,185.0 329.3,185.2 330.3,185.1 331.3,185.3 332.3,185.2 333.3,185.1 334.3,185.1 335.3,184.9 336.3,184.7 337.3,185.1 338.3,184.9 339.3,185.1 340.3,184.7 341.3,185.1 342.3,185.0 343.3,185.1 344.3,185.0 345.3,184.8 346.3,184.8 347.3,184.6 348.3,184.7 349.3,184.8 350.3,184.6 351.3,184.7 352.3,184.8 353.3,184.8 354.3,184.9 355.3,184.7 356.3,184.7 357.3,184.7 358.3,184.8 359.3,184.7 360.3,184.9 361.3,184.5 362.3,184.5 363.3,184.5 364.3,184.7 365.3,184.7 366.3,184.5 367.3,184.5 368.3,184.6 369.3,184.4 370.3,184.7 371.3,184.3 372.3,184.7 373.3,184.3 374.3,184.6 375.0,184.6" fill="none" stroke="#3a4fe0" stroke-width="1.45" stroke-linejoin="round" />
<polyline points="48.3,211.2 49.3,211.2 50.3,210.7 51.3,211.0 52.3,211.1 53.3,210.9 54.3,210.8 55.3,210.9 56.3,210.6 57.3,210.8 58.3,210.6 59.3,210.8 60.3,210.3 61.3,210.6 62.3,210.3 63.3,210.6 64.3,210.6 65.3,210.4 66.3,210.5 67.3,210.2 68.3,210.0 69.3,210.4 70.3,210.1 71.3,209.9 72.3,210.2 73.3,210.3 74.3,209.8 75.3,210.1 76.3,209.9 77.3,209.7 78.3,209.7 79.3,209.6 80.3,209.7 81.3,209.7 82.3,209.8 83.3,209.8 84.3,209.9 85.3,209.8 86.3,209.4 87.3,209.6 88.3,209.7 89.3,209.4 90.3,209.5 91.3,209.7 92.3,209.4 93.3,209.4 94.3,209.2 95.3,209.5 96.3,209.4 97.3,209.1 98.3,209.1 99.3,208.9 100.3,209.1 101.3,209.2 102.3,209.2 103.3,208.8 104.3,208.8 105.3,208.7 106.3,208.7 107.3,208.7 108.3,208.6 109.3,208.8 110.3,208.9 111.3,208.9 112.3,208.7 113.3,208.5 114.3,208.8 115.3,208.4 116.3,208.3 117.3,208.3 118.3,208.6 119.3,208.5 120.3,208.3 121.3,208.2 122.3,208.3 123.3,208.2 124.3,208.4 125.3,208.1 126.3,207.9 127.3,207.9 128.3,207.9 129.3,208.0 130.3,208.1 131.3,208.0 132.3,207.6 133.3,208.1 134.3,207.8 135.3,207.8 136.3,207.5 137.3,207.5 138.3,207.4 139.3,207.6 140.3,207.7 141.3,207.3 142.3,207.3 143.3,207.2 144.3,207.1 145.3,207.0 146.3,207.3 147.3,207.4 148.3,206.9 149.3,206.8 150.3,207.0 151.3,206.9 152.3,206.8 153.3,207.0 154.3,206.7 155.3,206.6 156.3,206.9 157.3,206.7 158.3,206.7 159.3,206.6 160.3,206.3 161.3,206.7 162.3,206.2 163.3,206.2 164.3,206.3 165.3,206.4 166.3,206.4 167.3,205.9 168.3,205.9 169.3,205.8 170.3,205.8 171.3,206.2 172.3,205.7 173.3,205.9 174.3,205.7 175.3,205.5 176.3,205.6 177.3,205.5 178.3,205.6 179.3,205.7 180.3,205.5 181.3,205.5 182.3,205.3 183.3,205.2 184.3,205.3 185.3,205.2 186.3,205.4 187.3,205.0 188.3,204.9 189.3,204.8 190.3,204.9 191.3,204.8 192.3,204.8 193.3,205.0 194.3,204.9 195.3,204.8 196.3,204.8 197.3,204.8 198.3,204.3 199.3,204.6 200.3,204.2 201.3,204.3 202.3,204.2 203.3,204.1 204.3,203.9 205.3,203.9 206.3,204.1 207.3,204.1 208.3,203.9 209.3,203.4 210.3,203.5 211.3,203.2 212.3,203.1 213.3,202.9 214.3,202.4 215.3,201.9 216.3,201.3 216.4,201.0 216.9,200.7 217.3,200.1 217.4,199.5 217.9,198.7 218.3,197.4 218.4,196.6 218.9,194.7 219.3,192.4 219.4,191.6 219.9,188.3 220.3,184.9 220.4,184.1 220.9,179.7 221.3,176.1 221.4,175.2 221.9,172.0 222.3,170.4 222.4,170.5 222.9,171.8 223.3,174.3 223.4,175.0 223.9,179.6 224.3,183.1 224.4,184.1 224.9,188.1 225.3,191.2 225.4,191.6 225.9,194.8 226.3,196.4 226.4,196.7 226.9,198.5 227.3,199.2 227.4,199.7 227.9,200.5 228.3,201.1 228.4,200.8 229.3,201.7 230.3,202.3 231.3,202.4 232.3,203.0 233.3,203.2 234.3,203.2 235.3,203.4 236.3,203.5 237.3,203.4 238.3,203.4 239.3,203.7 240.3,203.6 241.3,203.4 242.3,203.6 243.3,203.7 244.3,203.7 245.3,203.4 246.3,203.4 247.3,203.7 248.3,203.7 249.3,203.7 250.3,203.6 251.3,203.5 252.3,203.8 253.3,203.4 254.3,203.5 255.3,203.3 256.3,203.3 257.3,203.6 258.3,203.6 259.3,203.4 260.3,203.6 261.3,203.4 262.3,203.4 263.3,203.6 264.3,203.6 265.3,203.5 266.3,203.6 267.3,203.4 268.3,203.5 269.3,203.6 270.3,203.5 271.3,203.5 272.3,203.6 273.3,203.2 274.3,203.2 275.3,203.1 276.3,203.3 277.3,203.4 278.3,203.4 279.3,203.4 280.3,203.1 281.3,203.5 282.3,203.2 283.3,203.5 284.3,203.2 285.3,203.4 286.3,203.4 287.3,203.0 288.3,203.2 289.3,203.2 290.3,203.5 291.3,203.1 292.3,203.1 293.3,203.0 294.3,202.9 295.3,203.2 296.3,203.2 297.3,203.0 298.3,203.3 299.3,203.0 300.3,203.3 301.3,203.2 302.3,203.3 303.3,203.0 304.3,203.2 305.3,203.1 306.3,203.1 307.3,203.0 308.3,203.0 309.3,202.9 310.3,202.9 311.3,203.2 312.3,202.7 313.3,203.1 314.3,203.1 315.3,202.7 316.3,202.9 317.3,203.1 318.3,202.9 319.3,202.9 320.3,202.9 321.3,202.7 322.3,203.1 323.3,202.9 324.3,202.7 325.3,202.7 326.3,202.9 327.3,203.0 328.3,202.8 329.3,202.6 330.3,202.7 331.3,202.7 332.3,202.9 333.3,202.8 334.3,202.6 335.3,202.4 336.3,202.7 337.3,202.5 338.3,202.8 339.3,202.5 340.3,202.9 341.3,202.8 342.3,202.5 343.3,202.3 344.3,202.7 345.3,202.4 346.3,202.4 347.3,202.5 348.3,202.4 349.3,202.3 350.3,202.5 351.3,202.6 352.3,202.6 353.3,202.2 354.3,202.2 355.3,202.4 356.3,202.5 357.3,202.3 358.3,202.4 359.3,202.2 360.3,202.6 361.3,202.5 362.3,202.6 363.3,202.3 364.3,202.1 365.3,202.5 366.3,202.3 367.3,202.2 368.3,202.2 369.3,202.4 370.3,202.4 371.3,202.2 372.3,202.1 373.3,202.0 374.3,202.0 375.0,202.4" fill="none" stroke="#2fb52f" stroke-width="1.45" stroke-linejoin="round" />
<polyline points="48.3,214.6 49.3,214.1 50.3,214.4 51.3,214.5 52.3,214.3 53.3,214.4 54.3,214.0 55.3,214.2 56.3,214.3 57.3,213.9 58.3,213.9 59.3,214.2 60.3,213.8 61.3,214.0 62.3,214.1 63.3,214.0 64.3,213.9 65.3,213.7 66.3,213.9 67.3,213.5 68.3,213.6 69.3,213.6 70.3,213.7 71.3,213.3 72.3,213.3 73.3,213.4 74.3,213.3 75.3,213.6 76.3,213.3 77.3,213.4 78.3,213.3 79.3,213.4 80.3,213.4 81.3,213.4 82.3,212.9 83.3,213.2 84.3,213.2 85.3,213.2 86.3,213.0 87.3,213.0 88.3,212.8 89.3,212.6 90.3,212.6 91.3,212.7 92.3,212.9 93.3,212.7 94.3,212.7 95.3,212.6 96.3,212.9 97.3,212.8 98.3,212.4 99.3,212.5 100.3,212.3 101.3,212.4 102.3,212.3 103.3,212.5 104.3,212.2 105.3,212.4 106.3,212.0 107.3,212.3 108.3,212.3 109.3,212.1 110.3,212.3 111.3,212.3 112.3,212.3 113.3,212.1 114.3,211.9 115.3,212.0 116.3,212.0 117.3,211.8 118.3,212.0 119.3,211.9 120.3,211.9 121.3,211.8 122.3,211.5 123.3,211.8 124.3,211.6 125.3,211.7 126.3,211.6 127.3,211.5 128.3,211.6 129.3,211.6 130.3,211.6 131.3,211.1 132.3,211.5 133.3,211.4 134.3,211.2 135.3,211.3 136.3,211.0 137.3,211.0 138.3,210.8 139.3,211.2 140.3,211.0 141.3,210.9 142.3,210.9 143.3,210.9 144.3,210.5 145.3,210.7 146.3,210.7 147.3,210.6 148.3,210.7 149.3,210.3 150.3,210.5 151.3,210.5 152.3,210.3 153.3,210.5 154.3,210.2 155.3,210.0 156.3,209.9 157.3,210.0 158.3,210.3 159.3,210.2 160.3,210.1 161.3,210.0 162.3,209.8 163.3,209.8 164.3,209.8 165.3,209.9 166.3,209.6 167.3,209.5 168.3,209.6 169.3,209.6 170.3,209.5 171.3,209.2 172.3,209.4 173.3,209.2 174.3,209.1 175.3,209.1 176.3,208.9 177.3,208.9 178.3,209.1 179.3,209.1 180.3,208.7 181.3,209.1 182.3,208.8 183.3,208.9 184.3,208.5 185.3,208.5 186.3,208.8 187.3,208.4 188.3,208.3 189.3,208.5 190.3,208.2 191.3,208.3 192.3,208.5 193.3,208.1 194.3,208.4 195.3,208.4 196.3,208.4 197.3,208.1 198.3,208.2 199.3,207.8 200.3,207.9 201.3,208.0 202.3,208.0 203.3,207.6 204.3,207.8 205.3,207.6 206.3,207.5 207.3,207.6 208.3,207.5 209.3,207.2 210.3,207.4 211.3,207.4 212.3,207.2 213.3,206.8 214.3,206.6 215.3,206.8 216.3,206.3 217.3,206.1 218.3,206.1 219.3,205.2 219.9,204.9 220.3,204.5 220.4,204.7 220.9,203.9 221.3,203.1 221.4,202.7 221.9,201.1 222.3,200.0 222.4,199.2 222.9,197.0 223.3,194.7 223.4,193.9 223.9,190.5 224.3,187.4 224.4,186.4 224.9,182.8 225.3,180.2 225.4,179.9 225.9,179.0 226.3,179.5 226.4,179.9 226.9,182.8 227.3,185.5 227.4,186.6 227.9,190.1 228.3,193.0 228.4,193.9 228.9,196.7 229.3,199.0 229.4,199.2 229.9,201.0 230.3,202.4 230.4,202.5 230.9,203.7 231.3,204.0 231.4,204.1 231.9,204.7 232.3,205.2 233.3,205.5 234.3,205.9 235.3,206.4 236.3,206.3 237.3,206.5 238.3,206.8 239.3,207.0 240.3,206.9 241.3,206.7 242.3,207.0 243.3,206.7 244.3,207.1 245.3,206.8 246.3,206.8 247.3,206.9 248.3,206.8 249.3,207.0 250.3,207.1 251.3,207.0 252.3,207.1 253.3,206.8 254.3,206.8 255.3,207.1 256.3,206.9 257.3,207.1 258.3,207.0 259.3,206.8 260.3,206.8 261.3,207.1 262.3,207.1 263.3,206.9 264.3,206.6 265.3,206.6 266.3,207.1 267.3,207.0 268.3,207.0 269.3,206.7 270.3,207.0 271.3,206.6 272.3,206.9 273.3,206.9 274.3,206.7 275.3,206.9 276.3,206.6 277.3,207.0 278.3,207.0 279.3,206.7 280.3,206.6 281.3,206.9 282.3,206.6 283.3,206.7 284.3,206.8 285.3,206.9 286.3,206.8 287.3,206.5 288.3,206.6 289.3,206.4 290.3,206.8 291.3,206.8 292.3,206.5 293.3,206.6 294.3,206.5 295.3,206.4 296.3,206.3 297.3,206.6 298.3,206.7 299.3,206.3 300.3,206.6 301.3,206.6 302.3,206.5 303.3,206.6 304.3,206.4 305.3,206.5 306.3,206.2 307.3,206.2 308.3,206.4 309.3,206.6 310.3,206.4 311.3,206.6 312.3,206.4 313.3,206.3 314.3,206.5 315.3,206.5 316.3,206.5 317.3,206.4 318.3,206.1 319.3,206.2 320.3,206.3 321.3,206.0 322.3,206.1 323.3,206.4 324.3,206.1 325.3,206.3 326.3,206.1 327.3,206.0 328.3,206.1 329.3,206.1 330.3,206.0 331.3,206.0 332.3,206.3 333.3,206.1 334.3,206.1 335.3,206.0 336.3,206.0 337.3,206.2 338.3,206.0 339.3,205.9 340.3,206.0 341.3,206.1 342.3,206.2 343.3,206.1 344.3,206.0 345.3,205.8 346.3,206.1 347.3,205.7 348.3,206.0 349.3,206.1 350.3,205.8 351.3,205.9 352.3,205.8 353.3,205.8 354.3,205.7 355.3,205.9 356.3,205.9 357.3,205.6 358.3,205.6 359.3,205.7 360.3,205.7 361.3,205.7 362.3,205.9 363.3,205.7 364.3,205.5 365.3,205.5 366.3,205.7 367.3,205.5 368.3,205.8 369.3,205.8 370.3,205.8 371.3,205.7 372.3,205.5 373.3,205.8 374.3,205.5 375.0,205.4" fill="none" stroke="#5a44ee" stroke-width="1.45" stroke-linejoin="round" />
<polyline points="48.3,217.2 49.3,217.3 50.3,217.5 51.3,217.4 52.3,217.3 53.3,217.2 54.3,217.1 55.3,217.3 56.3,217.4 57.3,217.0 58.3,217.1 59.3,217.0 60.3,216.8 61.3,216.9 62.3,216.7 63.3,217.0 64.3,216.8 65.3,216.8 66.3,216.9 67.3,216.6 68.3,216.9 69.3,216.9 70.3,216.6 71.3,216.3 72.3,216.6 73.3,216.6 74.3,216.3 75.3,216.5 76.3,216.3 77.3,216.2 78.3,216.1 79.3,216.3 80.3,216.3 81.3,216.3 82.3,216.1 83.3,216.0 84.3,215.9 85.3,215.9 86.3,215.9 87.3,215.8 88.3,215.7 89.3,215.8 90.3,215.6 91.3,215.8 92.3,215.5 93.3,215.7 94.3,215.5 95.3,215.5 96.3,215.7 97.3,215.4 98.3,215.7 99.3,215.6 100.3,215.6 101.3,215.5 102.3,215.5 103.3,215.2 104.3,215.3 105.3,215.1 106.3,215.0 107.3,215.2 108.3,215.3 109.3,215.4 110.3,215.3 111.3,214.9 112.3,215.3 113.3,215.0 114.3,214.9 115.3,214.8 116.3,214.7 117.3,214.8 118.3,214.8 119.3,215.0 120.3,214.8 121.3,214.6 122.3,214.7 123.3,214.8 124.3,214.5 125.3,214.5 126.3,214.4 127.3,214.7 128.3,214.3 129.3,214.5 130.3,214.3 131.3,214.4 132.3,214.3 133.3,214.1 134.3,214.4 135.3,214.2 136.3,213.8 137.3,213.9 138.3,213.8 139.3,213.9 140.3,213.7 141.3,213.9 142.3,213.8 143.3,213.7 144.3,213.6 145.3,213.7 146.3,213.5 147.3,213.7 148.3,213.7 149.3,213.6 150.3,213.6 151.3,213.3 152.3,213.5 153.3,213.2 154.3,213.4 155.3,213.2 156.3,213.0 157.3,213.0 158.3,213.2 159.3,213.0 160.3,212.7 161.3,212.9 162.3,212.6 163.3,212.5 164.3,212.6 165.3,212.8 166.3,212.5 167.3,212.8 168.3,212.3 169.3,212.4 170.3,212.2 171.3,212.5 172.3,212.4 173.3,212.4 174.3,212.4 175.3,212.4 176.3,212.1 177.3,212.0 178.3,212.1 179.3,212.0 180.3,211.8 181.3,211.8 182.3,211.8 183.3,212.0 184.3,211.5 185.3,211.8 186.3,211.7 187.3,211.8 188.3,211.5 189.3,211.6 190.3,211.2 191.3,211.5 192.3,211.1 193.3,211.3 194.3,211.0 195.3,211.0 196.3,211.2 197.3,211.0 198.3,211.1 199.3,210.8 200.3,210.7 201.3,210.8 202.3,210.8 203.3,210.9 204.3,210.9 205.3,210.6 206.3,210.8 207.3,210.6 208.3,210.3 209.3,210.4 210.3,210.4 211.3,210.4 212.3,210.1 213.3,210.5 214.3,210.2 215.3,209.9 216.3,209.9 217.3,210.1 218.3,209.7 219.3,209.7 220.3,209.7 221.3,209.3 222.3,209.4 223.3,209.1 224.3,208.6 225.3,208.4 226.3,207.4 227.3,206.5 227.8,205.9 228.3,204.7 228.8,203.0 229.3,200.9 229.8,198.3 230.3,194.2 230.8,189.6 231.3,184.4 231.8,178.4 232.3,173.0 232.8,168.6 233.3,166.9 233.8,168.7 234.3,173.1 234.8,178.5 235.3,184.5 235.8,190.0 236.3,194.4 236.8,198.1 237.3,200.8 237.8,202.8 238.3,204.6 238.8,205.5 239.3,206.5 240.3,207.4 241.3,208.1 242.3,208.5 243.3,208.8 244.3,209.2 245.3,209.2 246.3,209.1 247.3,209.6 248.3,209.6 249.3,209.5 250.3,209.6 251.3,209.7 252.3,209.6 253.3,209.8 254.3,210.0 255.3,209.5 256.3,210.0 257.3,210.0 258.3,210.0 259.3,209.8 260.3,209.9 261.3,209.8 262.3,209.7 263.3,209.6 264.3,209.7 265.3,209.8 266.3,209.7 267.3,209.6 268.3,209.8 269.3,209.7 270.3,209.9 271.3,209.6 272.3,209.6 273.3,209.7 274.3,209.6 275.3,209.9 276.3,209.7 277.3,209.5 278.3,209.6 279.3,209.8 280.3,209.6 281.3,209.6 282.3,209.5 283.3,209.4 284.3,209.8 285.3,209.6 286.3,209.5 287.3,209.4 288.3,209.6 289.3,209.7 290.3,209.8 291.3,209.8 292.3,209.3 293.3,209.6 294.3,209.5 295.3,209.6 296.3,209.5 297.3,209.7 298.3,209.6 299.3,209.5 300.3,209.7 301.3,209.5 302.3,209.2 303.3,209.5 304.3,209.7 305.3,209.5 306.3,209.3 307.3,209.6 308.3,209.2 309.3,209.6 310.3,209.2 311.3,209.5 312.3,209.2 313.3,209.2 314.3,209.2 315.3,209.3 316.3,209.4 317.3,209.3 318.3,209.1 319.3,209.5 320.3,209.4 321.3,209.2 322.3,209.0 323.3,209.2 324.3,209.4 325.3,209.4 326.3,209.0 327.3,209.0 328.3,209.4 329.3,209.1 330.3,209.2 331.3,209.3 332.3,209.3 333.3,209.2 334.3,209.1 335.3,209.2 336.3,208.9 337.3,209.3 338.3,208.9 339.3,208.8 340.3,209.1 341.3,209.2 342.3,209.1 343.3,209.0 344.3,208.8 345.3,209.0 346.3,208.8 347.3,208.9 348.3,208.9 349.3,208.7 350.3,208.9 351.3,209.0 352.3,209.0 353.3,208.7 354.3,209.1 355.3,209.0 356.3,208.7 357.3,209.0 358.3,208.6 359.3,208.7 360.3,208.9 361.3,208.6 362.3,208.7 363.3,208.5 364.3,208.6 365.3,208.6 366.3,208.9 367.3,208.7 368.3,208.5 369.3,208.8 370.3,208.8 371.3,208.5 372.3,208.5 373.3,208.7 374.3,208.8 375.0,208.5" fill="none" stroke="#6e1c1c" stroke-width="1.45" stroke-linejoin="round" />
<polyline points="48.3,220.7 49.3,220.7 50.3,221.0 51.3,220.5 52.3,220.4 53.3,220.5 54.3,220.6 55.3,220.8 56.3,220.3 57.3,220.6 58.3,220.4 59.3,220.6 60.3,220.6 61.3,220.4 62.3,220.2 63.3,220.5 64.3,220.0 65.3,220.4 66.3,220.1 67.3,220.0 68.3,220.3 69.3,220.0 70.3,219.9 71.3,219.9 72.3,219.9 73.3,219.8 74.3,219.9 75.3,219.8 76.3,219.7 77.3,219.5 78.3,219.5 79.3,219.8 80.3,219.7 81.3,219.8 82.3,219.4 83.3,219.7 84.3,219.7 85.3,219.4 86.3,219.6 87.3,219.6 88.3,219.5 89.3,219.3 90.3,219.4 91.3,219.0 92.3,219.0 93.3,219.0 94.3,219.2 95.3,219.3 96.3,218.9 97.3,218.8 98.3,219.2 99.3,219.1 100.3,218.7 101.3,218.6 102.3,218.7 103.3,218.7 104.3,218.5 105.3,218.5 106.3,218.8 107.3,218.4 108.3,218.6 109.3,218.7 110.3,218.6 111.3,218.4 112.3,218.3 113.3,218.4 114.3,218.3 115.3,218.3 116.3,218.2 117.3,218.2 118.3,218.5 119.3,217.9 120.3,218.0 121.3,218.3 122.3,218.1 123.3,218.2 124.3,217.8 125.3,218.2 126.3,217.7 127.3,218.0 128.3,217.7 129.3,217.9 130.3,217.9 131.3,217.8 132.3,217.9 133.3,217.5 134.3,217.8 135.3,217.6 136.3,217.3 137.3,217.3 138.3,217.2 139.3,217.5 140.3,217.2 141.3,217.2 142.3,217.0 143.3,217.3 144.3,217.1 145.3,216.9 146.3,217.1 147.3,217.0 148.3,217.0 149.3,217.0 150.3,216.8 151.3,216.7 152.3,216.9 153.3,216.5 154.3,216.4 155.3,216.7 156.3,216.6 157.3,216.7 158.3,216.5 159.3,216.6 160.3,216.3 161.3,216.0 162.3,216.3 163.3,216.0 164.3,216.1 165.3,216.0 166.3,215.9 167.3,216.0 168.3,216.0 169.3,215.7 170.3,216.0 171.3,215.7 172.3,215.8 173.3,215.6 174.3,215.4 175.3,215.5 176.3,215.4 177.3,215.4 178.3,215.5 179.3,215.5 180.3,215.2 181.3,215.4 182.3,215.3 183.3,215.0 184.3,215.2 185.3,214.8 186.3,215.1 187.3,214.9 188.3,215.0 189.3,215.1 190.3,214.9 191.3,214.8 192.3,214.8 193.3,214.5 194.3,214.6 195.3,214.4 196.3,214.5 197.3,214.7 198.3,214.4 199.3,214.5 200.3,214.5 201.3,214.3 202.3,214.0 203.3,214.4 204.3,214.1 205.3,214.0 206.3,213.8 207.3,214.1 208.3,214.1 209.3,213.9 210.3,213.6 211.3,213.9 212.3,213.6 213.3,213.6 214.3,213.5 215.3,213.6 216.3,213.6 217.3,213.5 218.3,213.3 219.3,213.3 220.3,213.2 221.3,213.2 222.3,213.3 223.3,213.1 224.3,213.0 225.3,212.4 226.3,212.2 227.3,212.1 228.3,211.6 229.3,211.1 230.3,210.4 230.8,209.4 231.3,208.9 231.8,207.5 232.3,205.9 232.8,203.3 233.3,200.1 233.8,196.4 234.3,191.0 234.8,185.4 235.3,178.9 235.8,172.7 236.3,168.5 236.8,166.7 237.3,168.1 237.8,172.8 238.3,178.8 238.8,185.1 239.3,191.4 239.8,196.3 240.3,200.4 240.8,203.4 241.3,205.6 241.8,207.5 242.3,208.5 242.8,209.7 243.3,210.3 244.3,211.2 245.3,211.4 246.3,211.8 247.3,212.3 248.3,212.4 249.3,212.6 250.3,212.8 251.3,212.6 252.3,212.8 253.3,212.7 254.3,212.7 255.3,213.2 256.3,213.1 257.3,213.1 258.3,212.9 259.3,213.0 260.3,213.3 261.3,213.4 262.3,213.2 263.3,213.4 264.3,213.1 265.3,213.3 266.3,213.3 267.3,213.0 268.3,213.4 269.3,212.9 270.3,213.0 271.3,213.1 272.3,213.3 273.3,213.1 274.3,212.9 275.3,213.2 276.3,213.2 277.3,212.9 278.3,213.2 279.3,213.0 280.3,213.0 281.3,213.3 282.3,213.2 283.3,213.3 284.3,213.1 285.3,213.0 286.3,213.0 287.3,212.8 288.3,212.8 289.3,213.0 290.3,212.8 291.3,213.0 292.3,212.8 293.3,213.0 294.3,213.1 295.3,212.9 296.3,213.1 297.3,212.8 298.3,212.7 299.3,213.0 300.3,212.8 301.3,212.9 302.3,212.9 303.3,212.8 304.3,212.8 305.3,212.7 306.3,213.1 307.3,212.6 308.3,212.8 309.3,213.0 310.3,212.9 311.3,213.0 312.3,212.8 313.3,212.6 314.3,212.9 315.3,212.5 316.3,212.9 317.3,212.7 318.3,212.8 319.3,212.9 320.3,212.7 321.3,212.8 322.3,212.8 323.3,212.6 324.3,212.8 325.3,212.5 326.3,212.4 327.3,212.7 328.3,212.7 329.3,212.5 330.3,212.3 331.3,212.5 332.3,212.4 333.3,212.3 334.3,212.3 335.3,212.5 336.3,212.4 337.3,212.6 338.3,212.3 339.3,212.5 340.3,212.3 341.3,212.3 342.3,212.2 343.3,212.5 344.3,212.3 345.3,212.4 346.3,212.4 347.3,212.4 348.3,212.4 349.3,212.4 350.3,212.1 351.3,212.4 352.3,212.3 353.3,212.4 354.3,212.0 355.3,212.0 356.3,212.3 357.3,212.1 358.3,212.4 359.3,212.1 360.3,212.1 361.3,212.1 362.3,212.2 363.3,212.0 364.3,212.4 365.3,212.0 366.3,212.3 367.3,212.3 368.3,212.0 369.3,212.2 370.3,212.2 371.3,211.8 372.3,212.3 373.3,212.0 374.3,211.9 375.0,212.1" fill="none" stroke="#1a1a1a" stroke-width="1.45" stroke-linejoin="round" />
<line x1="48.3" y1="224.8" x2="375" y2="224.8" stroke="#222" stroke-width="1" />
<line x1="48.2" y1="224.8" x2="48.2" y2="223.20000000000002" stroke="#222" stroke-width="0.8" />
<line x1="64.5" y1="224.8" x2="64.5" y2="221.8" stroke="#222" stroke-width="0.8" />
<text x="64.5" y="236.5" font-family="'Liberation Sans', Arial, sans-serif" font-size="10.5" fill="#000" stroke="#000" stroke-width="0.18" font-weight="normal" text-anchor="middle" style="">16</text>
<line x1="80.8" y1="224.8" x2="80.8" y2="223.20000000000002" stroke="#222" stroke-width="0.8" />
<line x1="97.2" y1="224.8" x2="97.2" y2="221.8" stroke="#222" stroke-width="0.8" />
<text x="97.2" y="236.5" font-family="'Liberation Sans', Arial, sans-serif" font-size="10.5" fill="#000" stroke="#000" stroke-width="0.18" font-weight="normal" text-anchor="middle" style="">18</text>
<line x1="113.5" y1="224.8" x2="113.5" y2="223.20000000000002" stroke="#222" stroke-width="0.8" />
<line x1="129.8" y1="224.8" x2="129.8" y2="221.8" stroke="#222" stroke-width="0.8" />
<text x="129.8" y="236.5" font-family="'Liberation Sans', Arial, sans-serif" font-size="10.5" fill="#000" stroke="#000" stroke-width="0.18" font-weight="normal" text-anchor="middle" style="">20</text>
<line x1="146.1" y1="224.8" x2="146.1" y2="223.20000000000002" stroke="#222" stroke-width="0.8" />
<line x1="162.5" y1="224.8" x2="162.5" y2="221.8" stroke="#222" stroke-width="0.8" />
<text x="162.5" y="236.5" font-family="'Liberation Sans', Arial, sans-serif" font-size="10.5" fill="#000" stroke="#000" stroke-width="0.18" font-weight="normal" text-anchor="middle" style="">22</text>
<line x1="178.8" y1="224.8" x2="178.8" y2="223.20000000000002" stroke="#222" stroke-width="0.8" />
<line x1="195.1" y1="224.8" x2="195.1" y2="221.8" stroke="#222" stroke-width="0.8" />
<text x="195.1" y="236.5" font-family="'Liberation Sans', Arial, sans-serif" font-size="10.5" fill="#000" stroke="#000" stroke-width="0.18" font-weight="normal" text-anchor="middle" style="">24</text>
<line x1="211.5" y1="224.8" x2="211.5" y2="223.20000000000002" stroke="#222" stroke-width="0.8" />
<line x1="227.8" y1="224.8" x2="227.8" y2="221.8" stroke="#222" stroke-width="0.8" />
<text x="227.8" y="236.5" font-family="'Liberation Sans', Arial, sans-serif" font-size="10.5" fill="#000" stroke="#000" stroke-width="0.18" font-weight="normal" text-anchor="middle" style="">26</text>
<line x1="244.1" y1="224.8" x2="244.1" y2="223.20000000000002" stroke="#222" stroke-width="0.8" />
<line x1="260.5" y1="224.8" x2="260.5" y2="221.8" stroke="#222" stroke-width="0.8" />
<text x="260.5" y="236.5" font-family="'Liberation Sans', Arial, sans-serif" font-size="10.5" fill="#000" stroke="#000" stroke-width="0.18" font-weight="normal" text-anchor="middle" style="">28</text>
<line x1="276.8" y1="224.8" x2="276.8" y2="223.20000000000002" stroke="#222" stroke-width="0.8" />
<line x1="293.1" y1="224.8" x2="293.1" y2="221.8" stroke="#222" stroke-width="0.8" />
<text x="293.1" y="236.5" font-family="'Liberation Sans', Arial, sans-serif" font-size="10.5" fill="#000" stroke="#000" stroke-width="0.18" font-weight="normal" text-anchor="middle" style="">30</text>
<line x1="309.4" y1="224.8" x2="309.4" y2="223.20000000000002" stroke="#222" stroke-width="0.8" />
<line x1="325.8" y1="224.8" x2="325.8" y2="221.8" stroke="#222" stroke-width="0.8" />
<text x="325.8" y="236.5" font-family="'Liberation Sans', Arial, sans-serif" font-size="10.5" fill="#000" stroke="#000" stroke-width="0.18" font-weight="normal" text-anchor="middle" style="">32</text>
<line x1="342.1" y1="224.8" x2="342.1" y2="223.20000000000002" stroke="#222" stroke-width="0.8" />
<line x1="358.4" y1="224.8" x2="358.4" y2="221.8" stroke="#222" stroke-width="0.8" />
<text x="358.4" y="236.5" font-family="'Liberation Sans', Arial, sans-serif" font-size="10.5" fill="#000" stroke="#000" stroke-width="0.18" font-weight="normal" text-anchor="middle" style="">34</text>
<line x1="374.8" y1="224.8" x2="374.8" y2="223.20000000000002" stroke="#222" stroke-width="0.8" />
<text x="211.5" y="248" font-family="'Liberation Sans', Arial, sans-serif" font-size="11" stroke="#000" stroke-width="0.15" text-anchor="middle">2<tspan font-style="italic">θ</tspan> / ° (CuKα)</text>
<path d="M228,46 C226,34 227,14 232,6 C236,1 240,0 246,0 C251,4 252,24 250,38 C249,46 244,50 238,49 C234,48 230,48 228,46 Z" fill="#fcf7dd" filter="url(#bl1)"/>
<polyline points="141.3,83.3 195.8,92.4" fill="none" stroke="#f2a0a0" stroke-width="0.9" />
<polyline points="169.5,64.3 216.9,79.3" fill="none" stroke="#7080e0" stroke-width="0.9" />
<polyline points="196.8,52.7 220.8,62.8 222.4,65" fill="none" stroke="#66cc66" stroke-width="0.9" />
<polyline points="219.7,48.8 226.2,54.3" fill="none" stroke="#8070ee" stroke-width="0.9" />
<polyline points="234.4,43.4 232.5,52.7" fill="none" stroke="#c8a070" stroke-width="0.9" />
<polyline points="257.6,61.2 242.1,68.2" fill="none" stroke="#444" stroke-width="0.9" />
<line x1="196.0" y1="92.4" x2="196.0" y2="224.8" stroke="#f4a8a0" stroke-width="0.9" />
<line x1="217.2" y1="79.3" x2="217.2" y2="224.8" stroke="#88c4ea" stroke-width="1.1" />
<line x1="222.4" y1="65" x2="222.4" y2="224.8" stroke="#70dd70" stroke-width="1.0" />
<line x1="226.2" y1="54.3" x2="226.2" y2="224.8" stroke="#9f8cf0" stroke-width="1.0" />
<line x1="232.5" y1="52.7" x2="232.5" y2="224.8" stroke="#d8b688" stroke-width="1.0" />
<line x1="237.7" y1="48" x2="237.7" y2="224.8" stroke="#8c9aaa" stroke-width="1.0" />
<text transform="translate(127.0 97.7) rotate(-90)" font-family="'Liberation Sans', Arial, sans-serif" font-size="7.6" fill="#f26b2a" font-weight="bold" textLength="24.0" lengthAdjust="spacingAndGlyphs" style="">001 LiC</text>
<text transform="translate(128.8 73.3) rotate(-90)" font-family="'Liberation Sans', Arial, sans-serif" font-size="5" fill="#f26b2a" font-weight="bold" textLength="2.5" lengthAdjust="spacingAndGlyphs" style="">6</text>
<text transform="translate(136.0 97.7) rotate(-90)" font-family="'Liberation Sans', Arial, sans-serif" font-size="7.6" fill="#f26b2a" font-weight="bold" textLength="13.1" lengthAdjust="spacingAndGlyphs" style="">(001</text>
<text transform="translate(138.4 84.4) rotate(-90)" font-family="'Liberation Sans', Arial, sans-serif" font-size="6.2" fill="#f26b2a" font-weight="bold" textLength="22.3" lengthAdjust="spacingAndGlyphs" style="">stage-1</text>
<text transform="translate(136.0 62.0) rotate(-90)" font-family="'Liberation Sans', Arial, sans-serif" font-size="7.6" fill="#f26b2a" font-weight="bold" textLength="3.2" lengthAdjust="spacingAndGlyphs" style="">)</text>
<text transform="translate(156.0 75.0) rotate(-90)" font-family="'Liberation Sans', Arial, sans-serif" font-size="7.6" fill="#2838ee" font-weight="bold" textLength="25.2" lengthAdjust="spacingAndGlyphs" style="">002 LiC</text>
<text transform="translate(158.0 49.6) rotate(-90)" font-family="'Liberation Sans', Arial, sans-serif" font-size="5" fill="#2838ee" font-weight="bold" textLength="4.9" lengthAdjust="spacingAndGlyphs" style="">12</text>
<text transform="translate(164.5 75.0) rotate(-90)" font-family="'Liberation Sans', Arial, sans-serif" font-size="7.6" fill="#2838ee" font-weight="bold" textLength="14.4" lengthAdjust="spacingAndGlyphs" style="">(002</text>
<text transform="translate(167.2 60.4) rotate(-90)" font-family="'Liberation Sans', Arial, sans-serif" font-size="6.2" fill="#2838ee" font-weight="bold" textLength="23.8" lengthAdjust="spacingAndGlyphs" style="">stage-2</text>
<text transform="translate(164.5 36.6) rotate(-90)" font-family="'Liberation Sans', Arial, sans-serif" font-size="7.6" fill="#2838ee" font-weight="bold" textLength="3.2" lengthAdjust="spacingAndGlyphs" style="">)</text>
<text transform="translate(183.6 58.7) rotate(-90)" font-family="'Liberation Sans', Arial, sans-serif" font-size="7.6" fill="#1fb51f" font-weight="bold" textLength="23.9" lengthAdjust="spacingAndGlyphs" style="">003 LiC</text>
<text transform="translate(185.4 34.6) rotate(-90)" font-family="'Liberation Sans', Arial, sans-serif" font-size="5" fill="#1fb51f" font-weight="bold" textLength="4.6" lengthAdjust="spacingAndGlyphs" style="">18</text>
<text transform="translate(193.6 58.7) rotate(-90)" font-family="'Liberation Sans', Arial, sans-serif" font-size="7.6" fill="#1fb51f" font-weight="bold" textLength="15.2" lengthAdjust="spacingAndGlyphs" style="">(003</text>
<text transform="translate(196.0 43.3) rotate(-90)" font-family="'Liberation Sans', Arial, sans-serif" font-size="6.2" fill="#1fb51f" font-weight="bold" textLength="21.3" lengthAdjust="spacingAndGlyphs" style="">stage-3</text>
<text transform="translate(193.6 22.0) rotate(-90)" font-family="'Liberation Sans', Arial, sans-serif" font-size="7.6" fill="#1fb51f" font-weight="bold" textLength="3.2" lengthAdjust="spacingAndGlyphs" style="">)</text>
<text transform="translate(210.0 48.7) rotate(-90)" font-family="'Liberation Sans', Arial, sans-serif" font-size="7.6" fill="#4a3cf0" font-weight="bold" textLength="24.7" lengthAdjust="spacingAndGlyphs" style="">004 LiC</text>
<text transform="translate(212.0 23.8) rotate(-90)" font-family="'Liberation Sans', Arial, sans-serif" font-size="5" fill="#4a3cf0" font-weight="bold" textLength="4.6" lengthAdjust="spacingAndGlyphs" style="">36</text>
<text transform="translate(219.2 48.7) rotate(-90)" font-family="'Liberation Sans', Arial, sans-serif" font-size="7.6" fill="#4a3cf0" font-weight="bold" textLength="15.2" lengthAdjust="spacingAndGlyphs" style="">(004</text>
<text transform="translate(221.6 33.3) rotate(-90)" font-family="'Liberation Sans', Arial, sans-serif" font-size="6.2" fill="#4a3cf0" font-weight="bold" textLength="22.1" lengthAdjust="spacingAndGlyphs" style="">stage-4</text>
<text transform="translate(219.2 11.2) rotate(-90)" font-family="'Liberation Sans', Arial, sans-serif" font-size="7.6" fill="#4a3cf0" font-weight="bold" textLength="3.2" lengthAdjust="spacingAndGlyphs" style="">)</text>
<text transform="translate(234.0 40.7) rotate(-90)" font-family="'Liberation Sans', Arial, sans-serif" font-size="7.6" fill="#d0903a" font-weight="bold" textLength="25.3" lengthAdjust="spacingAndGlyphs" style="">008 LiC</text>
<text transform="translate(235.6 15.2) rotate(-90)" font-family="'Liberation Sans', Arial, sans-serif" font-size="5" fill="#d0903a" font-weight="bold" textLength="3.7" lengthAdjust="spacingAndGlyphs" style="">72</text>
<text transform="translate(243.0 41.1) rotate(-90)" font-family="'Liberation Sans', Arial, sans-serif" font-size="7.6" fill="#d0903a" font-weight="bold" textLength="15.0" lengthAdjust="spacingAndGlyphs" style="">(008</text>
<text transform="translate(245.4 25.9) rotate(-90)" font-family="'Liberation Sans', Arial, sans-serif" font-size="6.2" fill="#d0903a" font-weight="bold" textLength="19.8" lengthAdjust="spacingAndGlyphs" style="">stage-8</text>
<text transform="translate(243.0 6.1) rotate(-90)" font-family="'Liberation Sans', Arial, sans-serif" font-size="7.6" fill="#d0903a" font-weight="bold" textLength="3.2" lengthAdjust="spacingAndGlyphs" style="">)</text>
<text transform="translate(262.7 57.6) rotate(-90)" font-family="'Liberation Sans', Arial, sans-serif" font-size="9.0" fill="#111" font-weight="bold" textLength="13.0" lengthAdjust="spacingAndGlyphs" style="">002</text>
<text transform="translate(264.6 44.4) rotate(-90)" font-family="'Liberation Sans', Arial, sans-serif" font-size="6.8" fill="#111" font-weight="bold" textLength="23.6" lengthAdjust="spacingAndGlyphs" style="">graphite</text>
<rect x="27.4" y="106.1" width="17.4" height="120.2" fill="#fff" stroke="#222" stroke-width="1"/>
<line x1="44.8" y1="166" x2="44.8" y2="226.3" stroke="#6a50e0" stroke-width="1" />
<line x1="27.4" y1="107.5" x2="29.599999999999998" y2="107.5" stroke="#222" stroke-width="0.7" />
<line x1="27.4" y1="113.3" x2="28.599999999999998" y2="113.3" stroke="#222" stroke-width="0.7" />
<line x1="27.4" y1="119.2" x2="29.599999999999998" y2="119.2" stroke="#222" stroke-width="0.7" />
<line x1="27.4" y1="125.0" x2="28.599999999999998" y2="125.0" stroke="#222" stroke-width="0.7" />
<line x1="27.4" y1="130.8" x2="29.599999999999998" y2="130.8" stroke="#222" stroke-width="0.7" />
<line x1="27.4" y1="136.7" x2="28.599999999999998" y2="136.7" stroke="#222" stroke-width="0.7" />
<line x1="27.4" y1="142.5" x2="29.599999999999998" y2="142.5" stroke="#222" stroke-width="0.7" />
<line x1="27.4" y1="148.3" x2="28.599999999999998" y2="148.3" stroke="#222" stroke-width="0.7" />
<line x1="27.4" y1="154.1" x2="29.599999999999998" y2="154.1" stroke="#222" stroke-width="0.7" />
<line x1="27.4" y1="160.0" x2="28.599999999999998" y2="160.0" stroke="#222" stroke-width="0.7" />
<line x1="27.4" y1="165.8" x2="29.599999999999998" y2="165.8" stroke="#222" stroke-width="0.7" />
<line x1="27.4" y1="171.6" x2="28.599999999999998" y2="171.6" stroke="#222" stroke-width="0.7" />
<line x1="27.4" y1="177.5" x2="29.599999999999998" y2="177.5" stroke="#222" stroke-width="0.7" />
<line x1="27.4" y1="183.3" x2="28.599999999999998" y2="183.3" stroke="#222" stroke-width="0.7" />
<line x1="27.4" y1="189.1" x2="29.599999999999998" y2="189.1" stroke="#222" stroke-width="0.7" />
<line x1="27.4" y1="194.9" x2="28.599999999999998" y2="194.9" stroke="#222" stroke-width="0.7" />
<line x1="27.4" y1="200.8" x2="29.599999999999998" y2="200.8" stroke="#222" stroke-width="0.7" />
<line x1="27.4" y1="206.6" x2="28.599999999999998" y2="206.6" stroke="#222" stroke-width="0.7" />
<line x1="27.4" y1="212.4" x2="29.599999999999998" y2="212.4" stroke="#222" stroke-width="0.7" />
<line x1="27.4" y1="218.3" x2="28.599999999999998" y2="218.3" stroke="#222" stroke-width="0.7" />
<line x1="27.4" y1="224.1" x2="29.599999999999998" y2="224.1" stroke="#222" stroke-width="0.7" />
<line x1="30.5" y1="106.1" x2="30.5" y2="108.2" stroke="#222" stroke-width="0.7" />
<line x1="30.5" y1="226.3" x2="30.5" y2="224.2" stroke="#222" stroke-width="0.7" />
<line x1="37.2" y1="106.1" x2="37.2" y2="108.2" stroke="#222" stroke-width="0.7" />
<line x1="37.2" y1="226.3" x2="37.2" y2="224.2" stroke="#222" stroke-width="0.7" />
<line x1="43.9" y1="106.1" x2="43.9" y2="108.2" stroke="#222" stroke-width="0.7" />
<line x1="43.9" y1="226.3" x2="43.9" y2="224.2" stroke="#222" stroke-width="0.7" />
<text transform="translate(19.9 102.7) rotate(90)" font-family="'Liberation Sans', Arial, sans-serif" font-size="6.4" fill="#222" stroke="#222" stroke-width="0.15" font-weight="normal" textLength="8.4" lengthAdjust="spacingAndGlyphs" style="">0.0</text>
<text transform="translate(19.9 114.3) rotate(90)" font-family="'Liberation Sans', Arial, sans-serif" font-size="6.4" fill="#222" stroke="#222" stroke-width="0.15" font-weight="normal" textLength="8.4" lengthAdjust="spacingAndGlyphs" style="">0.2</text>
<text transform="translate(19.9 125.9) rotate(90)" font-family="'Liberation Sans', Arial, sans-serif" font-size="6.4" fill="#222" stroke="#222" stroke-width="0.15" font-weight="normal" textLength="8.4" lengthAdjust="spacingAndGlyphs" style="">0.4</text>
<text transform="translate(19.9 137.6) rotate(90)" font-family="'Liberation Sans', Arial, sans-serif" font-size="6.4" fill="#222" stroke="#222" stroke-width="0.15" font-weight="normal" textLength="8.4" lengthAdjust="spacingAndGlyphs" style="">0.6</text>
<text transform="translate(19.9 149.2) rotate(90)" font-family="'Liberation Sans', Arial, sans-serif" font-size="6.4" fill="#222" stroke="#222" stroke-width="0.15" font-weight="normal" textLength="8.4" lengthAdjust="spacingAndGlyphs" style="">0.8</text>
<text transform="translate(19.9 160.8) rotate(90)" font-family="'Liberation Sans', Arial, sans-serif" font-size="6.4" fill="#222" stroke="#222" stroke-width="0.15" font-weight="normal" textLength="8.4" lengthAdjust="spacingAndGlyphs" style="">1.0</text>
<text transform="translate(19.9 172.4) rotate(90)" font-family="'Liberation Sans', Arial, sans-serif" font-size="6.4" fill="#222" stroke="#222" stroke-width="0.15" font-weight="normal" textLength="8.4" lengthAdjust="spacingAndGlyphs" style="">0.8</text>
<text transform="translate(19.9 184.0) rotate(90)" font-family="'Liberation Sans', Arial, sans-serif" font-size="6.4" fill="#222" stroke="#222" stroke-width="0.15" font-weight="normal" textLength="8.4" lengthAdjust="spacingAndGlyphs" style="">0.6</text>
<text transform="translate(19.9 195.7) rotate(90)" font-family="'Liberation Sans', Arial, sans-serif" font-size="6.4" fill="#222" stroke="#222" stroke-width="0.15" font-weight="normal" textLength="8.4" lengthAdjust="spacingAndGlyphs" style="">0.4</text>
<text transform="translate(19.9 207.3) rotate(90)" font-family="'Liberation Sans', Arial, sans-serif" font-size="6.4" fill="#222" stroke="#222" stroke-width="0.15" font-weight="normal" textLength="8.4" lengthAdjust="spacingAndGlyphs" style="">0.2</text>
<text transform="translate(19.9 218.9) rotate(90)" font-family="'Liberation Sans', Arial, sans-serif" font-size="6.4" fill="#222" stroke="#222" stroke-width="0.15" font-weight="normal" textLength="8.4" lengthAdjust="spacingAndGlyphs" style="">0.0</text>
<path d="M43.5,108.6 L37,108.8 C33.5,109 32.2,111 32,115 L31.3,166" fill="none" stroke="#222" stroke-width="1.1"/>
<path d="M39.8,112.5 C36,114 34,117 33.6,123" fill="none" stroke="#222" stroke-width="0.8"/>
<path d="M32.2,121.5 L33.6,125 L35,121.5 Z" fill="#222"/>
<path d="M31.3,166 L31.8,205 C32,214 33,217.5 36,218.8 L43.8,220.2" fill="none" stroke="#e8281e" stroke-width="1.1"/>
<path d="M31.8,206 C32.5,212 36,216 41.5,217.4" fill="none" stroke="#e8281e" stroke-width="0.8"/>
<path d="M39.5,215.5 L42.6,217.6 L39.3,219.2 Z" fill="#e8281e"/>
<text transform="translate(37.0 118.6) rotate(90)" font-family="'Liberation Sans', Arial, sans-serif" font-size="6.8" fill="#222" stroke="#222" stroke-width="0.15" font-weight="normal" textLength="41.3" lengthAdjust="spacingAndGlyphs" style="">Li-intercalation</text>
<text transform="translate(37.0 163.9) rotate(90)" font-family="'Liberation Sans', Arial, sans-serif" font-size="6.8" fill="#e8281e" stroke="#e8281e" stroke-width="0.15" font-weight="normal" textLength="48.1" lengthAdjust="spacingAndGlyphs" style="">Li-deintercalation</text>
<text x="30.6" y="236.5" font-family="'Liberation Sans', Arial, sans-serif" font-size="8.8" fill="#000" stroke="#000" stroke-width="0.18" font-weight="normal" text-anchor="middle" style="">0</text>
<text x="37.2" y="236.5" font-family="'Liberation Sans', Arial, sans-serif" font-size="8.8" fill="#000" stroke="#000" stroke-width="0.18" font-weight="normal" text-anchor="middle" style="">1</text>
<text x="43.9" y="236.5" font-family="'Liberation Sans', Arial, sans-serif" font-size="8.8" fill="#000" stroke="#000" stroke-width="0.18" font-weight="normal" text-anchor="middle" style="">2</text>
<text x="19.8" y="244.8" font-family="'Liberation Sans', Arial, sans-serif" font-size="7.8" fill="#222" textLength="33" lengthAdjust="spacingAndGlyphs"><tspan font-style="italic">E</tspan> / V vs. Li</text>
<text transform="translate(10.6 147) rotate(90)" font-family="'Liberation Sans', Arial, sans-serif" font-size="9.8" fill="#111" stroke="#111" stroke-width="0.3"><tspan font-style="italic">x</tspan> in Li<tspan font-size="6.5" dy="2.2">x</tspan><tspan dy="-2.2">C</tspan><tspan font-size="6.5" dy="2.2">6</tspan></text>
<text x="22.7" y="278.6" font-family="'Liberation Sans', Arial, sans-serif" font-size="15.5" fill="#000" stroke="#000" stroke-width="0.25" textLength="16.6" lengthAdjust="spacingAndGlyphs">(b)</text>
<polygon points="46.6,337.8 374.8,341.8 374.8,351.4 46.6,347.3" fill="#eff2f2"/>
<polygon points="46.6,347.3 374.8,351.4 374.8,445.2 46.6,441.5" fill="#e9eded"/>
<polygon points="46.6,441.5 374.8,445.2 374.8,460.2 46.6,456.8" fill="#eceff0"/>
<ellipse cx="72.6" cy="377" rx="1.8" ry="9.5" fill="#4d5a68" opacity="0.8" filter="url(#bl1)"/>
<ellipse cx="72.6" cy="406" rx="1.6" ry="6" fill="#8a98a4" opacity="0.4" filter="url(#bl1)"/>
<ellipse cx="134.5" cy="411" rx="1.8" ry="5" fill="#6d7c8a" opacity="0.5" filter="url(#bl1)"/>
<ellipse cx="307.5" cy="396" rx="2.5" ry="9" fill="#6d7c8a" opacity="0.55" filter="url(#bl1)"/>
<ellipse cx="306" cy="330" rx="5" ry="14" fill="#b9c3ca" opacity="0.6" filter="url(#bl2)"/>
<ellipse cx="355" cy="378" rx="4" ry="19" fill="#7d8b98" opacity="0.55" filter="url(#bl2)"/>
<ellipse cx="354" cy="372" rx="2" ry="12" fill="#5d6b78" opacity="0.6" filter="url(#bl1)"/>
<ellipse cx="236.5" cy="315" rx="3" ry="18" fill="#c3ccd2" opacity="0.8" filter="url(#bl1)"/>
<path d="M268,344 C273,330 278,312 284,305 C288,302 291,306 294,318 C297,328 300,322 303,312 C305,306 308,306 310,314 C313,326 315,336 318,346 Z" fill="#d9e0e4" opacity="0.6"/>
<path d="M262,430 C268,422 276,414 282,407 C287,404 291,410 294,405 C297,398 300,390 303.5,384 C307,388 310,398 312,420 C306,428 296,432 280,434 Z" fill="#cfd7dc" opacity="0.85"/>
<rect x="71.4" y="328" width="2.2" height="136.5" fill="#f8c4b0" opacity="1"/>
<rect x="134.3" y="321" width="2.8" height="143.5" fill="#74c2ee" opacity="0.9"/>
<rect x="161.8" y="317" width="2.6" height="147.5" fill="#4ee84e" opacity="0.9"/>
<rect x="183.7" y="312.5" width="2.6" height="152.0" fill="#9486fa" opacity="0.9"/>
<rect x="203.3" y="300.6" width="2.6" height="163.9" fill="#b88a78" opacity="0.85"/>
<rect x="235.4" y="293" width="2.8" height="171.5" fill="#a6b6c2" opacity="0.85"/>
<rect x="253.5" y="296.5" width="2.6" height="168.0" fill="#b88a78" opacity="0.85"/>
<rect x="269.5" y="298.8" width="2.6" height="165.7" fill="#9486fa" opacity="0.9"/>
<rect x="281.0" y="300.6" width="2.6" height="163.9" fill="#4ee84e" opacity="0.9"/>
<rect x="302.1" y="301.5" width="2.8" height="163.0" fill="#74c2ee" opacity="0.9"/>
<rect x="348.9" y="317" width="2.2" height="147.5" fill="#f8c4b0" opacity="1"/>
<clipPath id="cpb"><rect x="0" y="292.5" width="387" height="200"/></clipPath>
<g clip-path="url(#cpb)">
<polyline points="46.6,337.2 47.6,337.1 48.6,337.6 49.6,337.1 50.6,337.5 51.6,337.4 52.6,337.4 53.6,337.6 54.6,337.6 55.6,337.2 56.6,337.5 57.6,337.7 58.6,337.4 59.6,337.3 60.6,337.5 61.6,337.3 62.6,337.5 63.6,337.5 64.6,337.4 65.6,337.6 66.6,337.7 67.6,337.6 68.6,337.6 69.6,337.5 70.6,337.4 71.6,337.6 72.6,337.5 73.6,337.7 74.6,337.5 75.6,337.7 76.6,337.7 77.6,337.8 78.6,337.5 79.6,337.9 80.6,337.6 81.6,338.0 82.6,337.9 83.6,338.0 84.6,338.0 85.6,337.6 86.6,337.7 87.6,337.9 88.6,337.7 89.6,337.9 90.6,338.0 91.6,337.7 92.6,337.8 93.6,338.1 94.6,337.8 95.6,337.7 96.5,338.0 96.6,337.8 97.0,337.9 97.5,337.6 97.6,337.9 98.0,338.0 98.5,337.7 98.6,337.6 99.0,337.7 99.5,337.5 99.6,337.4 100.0,337.1 100.5,337.2 100.6,337.3 101.0,336.7 101.5,336.7 101.6,336.9 102.0,336.5 102.5,336.8 102.6,336.5 103.0,336.5 103.5,336.7 103.6,336.6 104.0,337.0 104.5,336.9 104.6,336.9 105.0,337.1 105.5,337.2 105.6,337.1 106.0,337.1 106.5,337.1 106.6,336.9 107.0,336.8 107.5,336.6 107.6,336.9 108.0,336.7 108.5,336.9 108.6,336.6 109.0,336.9 109.5,336.9 109.6,336.7 110.0,337.0 110.5,337.3 110.6,337.4 111.0,337.3 111.5,337.5 111.6,337.5 112.0,337.8 112.5,338.0 112.6,338.1 113.0,337.9 113.5,337.9 113.6,338.2 114.0,338.1 114.5,338.2 114.6,337.9 115.6,338.3 116.6,338.1 117.6,338.2 118.6,337.9 119.6,337.9 120.6,337.9 121.6,338.0 122.6,338.0 123.6,338.4 124.6,338.2 125.6,338.0 126.6,338.5 127.6,338.2 128.6,338.3 129.6,338.3 130.6,338.2 131.6,338.4 132.6,338.5 133.6,338.2 134.6,338.2 135.6,338.3 136.6,338.5 137.6,338.3 138.6,338.1 139.6,338.1 140.6,338.4 141.6,338.2 142.6,338.5 143.6,338.4 144.6,338.2 145.6,338.2 146.6,338.5 147.6,338.2 148.6,338.6 149.6,338.4 150.6,338.3 151.6,338.6 152.6,338.5 153.6,338.5 154.6,338.6 155.6,338.4 156.6,338.2 157.6,338.3 158.6,338.7 159.6,338.5 160.6,338.2 161.6,338.3 162.6,338.3 163.6,338.4 164.6,338.6 165.6,338.7 166.6,338.5 167.6,338.5 168.6,338.7 169.6,338.3 170.6,338.7 171.6,338.6 172.6,338.4 173.6,338.6 174.6,338.3 175.6,338.5 176.6,338.5 177.6,338.3 178.6,338.7 179.6,338.3 180.6,338.4 181.6,338.5 182.6,338.3 183.6,338.2 184.6,338.3 185.6,338.3 186.6,338.5 187.6,338.4 188.6,338.6 189.6,338.1 190.6,338.5 191.5,338.5 191.6,338.5 192.0,338.1 192.5,338.0 192.6,338.3 193.0,338.1 193.5,338.1 193.6,337.8 194.0,338.1 194.5,337.6 194.6,337.8 195.0,337.1 195.5,336.9 195.6,336.9 196.0,336.6 196.5,336.2 196.6,336.6 197.0,336.2 197.5,336.3 197.6,336.1 198.0,336.2 198.5,336.3 198.6,336.1 199.0,336.5 199.5,336.8 199.6,336.8 200.0,336.9 200.5,336.9 200.6,337.4 201.0,337.6 201.5,337.3 201.6,337.3 202.0,337.6 202.5,337.8 202.6,337.6 203.0,337.8 203.5,337.8 203.6,337.7 204.6,337.6 205.6,337.6 206.6,337.3 207.6,337.1 208.6,337.3 209.6,336.8 210.6,337.0 211.6,336.6 212.6,336.5 213.6,336.3 214.6,336.0 215.6,335.7 216.6,335.1 217.6,334.9 218.6,334.4 219.6,333.8 220.6,332.9 221.6,332.5 222.6,331.4 223.6,330.1 224.6,328.7 225.6,327.2 226.6,325.0 227.6,322.3 228.6,319.3 229.6,315.2 230.6,309.7 231.1,306.7 231.6,303.1 232.1,299.1 232.6,295.1 233.1,290.6 233.6,285.9 234.1,280.8 234.6,276.4 235.1,271.9 235.6,268.1 236.1,265.2 236.6,263.7 237.1,264.6 237.6,266.7 238.1,270.0 238.6,273.9 239.1,278.1 239.6,283.0 240.1,287.7 240.6,292.1 241.1,296.4 241.6,300.4 242.1,304.1 242.6,306.8 243.6,312.5 244.6,316.5 245.6,320.0 246.6,322.7 247.6,324.6 248.6,326.6 249.6,328.1 250.6,329.1 251.6,330.4 252.6,331.3 253.6,331.6 254.6,332.7 255.6,333.0 256.6,333.8 257.6,333.8 258.6,334.6 259.6,334.8 260.6,335.0 261.6,335.4 262.6,335.9 263.6,335.9 264.6,336.2 265.6,336.6 266.6,336.8 267.6,336.7 268.6,337.0 269.6,337.1 270.6,337.1 271.6,337.3 272.6,337.3 273.6,337.5 274.6,337.7 275.6,337.8 276.6,338.1 277.6,337.9 278.6,338.1 279.6,338.5 280.6,338.4 281.6,338.3 282.6,338.7 283.6,338.4 284.6,338.6 285.6,338.6 286.6,338.8 287.6,338.9 288.6,339.1 289.6,339.0 290.6,339.2 291.6,339.3 292.6,338.9 293.6,339.0 294.6,339.4 295.6,339.2 296.6,339.3 297.6,339.5 298.6,339.4 299.6,339.7 300.6,339.3 301.6,339.4 302.6,339.4 303.6,339.5 304.6,339.9 305.6,339.5 306.6,339.8 307.6,339.6 308.6,339.9 309.6,339.7 310.6,340.0 311.6,339.9 312.6,340.2 313.6,339.7 314.6,340.0 315.6,340.2 316.6,340.0 317.6,340.0 318.6,340.3 319.6,340.3 320.6,340.3 321.6,340.1 322.6,340.1 323.6,340.1 324.6,340.5 325.6,340.1 326.6,340.1 327.6,340.4 328.6,340.5 329.6,340.6 330.6,340.4 331.6,340.6 332.6,340.4 333.6,340.5 334.6,340.6 335.6,340.3 336.6,340.6 337.6,340.5 338.6,340.3 339.6,340.5 340.6,340.7 341.6,340.8 342.6,340.7 343.6,340.8 344.6,340.6 345.6,340.6 346.6,340.6 347.6,340.7 348.6,340.6 349.6,340.9 350.6,340.9 351.6,340.6 352.6,340.6 353.6,340.8 354.6,340.9 355.6,341.0 356.6,340.8 357.6,340.9 358.6,341.0 359.6,340.8 360.6,341.1 361.6,340.9 362.6,340.8 363.6,340.8 364.6,341.1 365.6,341.0 366.6,341.2 367.6,341.2 368.6,340.9 369.6,341.2 370.6,341.2 371.6,341.2 372.6,341.4 373.6,341.0 374.6,341.1 374.8,341.1" fill="none" stroke="#1a1a1a" stroke-width="1.45" stroke-linejoin="round" />
<polyline points="46.6,340.9 47.6,341.1 48.6,341.2 49.6,341.0 50.6,340.8 51.6,340.9 52.6,341.2 53.6,341.0 54.6,340.8 55.6,341.0 56.6,341.1 57.6,341.0 58.6,341.0 59.6,341.1 60.6,340.9 61.6,341.3 62.6,341.1 63.6,341.2 64.6,341.2 65.6,341.2 66.6,341.4 67.6,341.0 68.6,341.2 69.6,341.1 70.6,341.0 71.6,341.4 72.6,341.2 73.6,341.4 74.6,341.3 75.6,341.1 76.6,341.1 77.6,341.1 78.6,341.4 79.6,341.3 80.6,341.2 81.6,341.3 82.6,341.3 83.6,341.6 84.6,341.6 85.6,341.6 86.6,341.5 87.6,341.2 88.6,341.4 89.6,341.6 90.6,341.3 91.6,341.6 92.6,341.3 93.6,341.6 94.6,341.4 95.6,341.4 96.5,341.7 96.6,341.3 97.0,341.7 97.5,341.3 97.6,341.3 98.0,341.2 98.5,341.1 98.6,341.2 99.0,341.2 99.5,341.0 99.6,340.8 100.0,341.1 100.5,340.9 100.6,340.7 101.0,340.4 101.5,340.2 101.6,340.4 102.0,340.1 102.5,340.1 102.6,340.1 103.0,340.4 103.5,340.4 103.6,340.2 104.0,340.7 104.5,340.6 104.6,340.7 105.0,340.7 105.5,340.6 105.6,340.6 106.0,340.6 106.5,340.3 106.6,340.8 107.0,340.4 107.5,340.2 107.6,340.2 108.0,340.3 108.5,340.4 108.6,340.3 109.0,340.3 109.5,340.7 109.6,340.3 110.0,340.5 110.5,341.0 110.6,340.8 111.0,341.0 111.5,341.0 111.6,341.3 112.0,341.4 112.5,341.6 112.6,341.3 113.0,341.6 113.5,341.7 113.6,341.8 114.0,341.4 114.5,341.5 114.6,341.9 115.6,341.6 116.6,341.7 117.6,341.8 118.6,341.6 119.6,341.5 120.6,341.8 121.6,341.8 122.6,342.0 123.6,341.6 124.6,341.8 125.6,341.6 126.6,341.8 127.6,341.9 128.6,341.8 129.6,341.7 130.6,341.8 131.6,342.0 132.6,342.0 133.6,341.8 134.6,342.0 135.6,341.8 136.6,341.8 137.6,341.9 138.6,341.9 139.6,341.8 140.6,341.9 141.6,342.1 142.6,341.8 143.6,342.0 144.6,341.7 145.6,342.1 146.6,341.7 147.6,342.0 148.6,341.7 149.6,342.0 150.6,341.7 151.6,341.8 152.6,341.7 153.6,341.9 154.6,342.0 155.6,341.7 156.6,342.0 157.6,341.9 158.6,342.1 159.6,341.9 160.6,341.7 161.6,341.8 162.6,342.1 163.6,341.9 164.6,341.9 165.6,341.8 166.6,341.8 167.6,341.7 168.6,342.0 169.6,341.7 170.6,341.7 171.6,341.7 172.6,341.8 173.6,342.1 174.6,341.7 175.6,341.6 176.6,342.1 177.6,341.8 178.6,342.1 179.6,342.0 180.6,341.8 181.6,341.8 182.6,341.5 183.6,341.7 184.6,341.6 185.6,341.6 186.6,341.8 187.6,341.7 188.6,341.8 189.6,341.7 190.6,341.6 191.5,341.2 191.6,341.4 192.0,341.5 192.5,341.4 192.6,341.4 193.0,341.1 193.5,340.9 193.6,341.0 194.0,340.9 194.5,340.7 194.6,340.5 195.0,340.5 195.5,340.1 195.6,339.9 196.0,339.6 196.5,339.4 196.6,338.8 197.0,338.8 197.5,338.6 197.6,338.6 198.0,338.7 198.5,338.6 198.6,338.6 199.0,338.5 199.1,338.5 199.5,338.8 199.6,338.8 200.0,338.8 200.1,338.7 200.5,338.8 200.6,338.9 201.0,339.0 201.1,338.9 201.5,339.0 201.6,339.1 202.0,338.7 202.1,339.0 202.5,338.9 202.6,339.0 203.0,338.9 203.1,338.5 203.5,338.3 203.6,338.6 204.1,338.4 204.6,338.6 205.1,338.4 205.6,338.6 206.1,338.3 206.6,338.7 207.1,338.7 207.6,338.9 208.1,339.0 208.6,339.6 209.1,339.4 209.6,339.8 210.1,339.9 210.6,340.0 211.6,339.8 212.6,340.2 213.6,340.1 214.6,340.3 215.6,340.2 216.6,340.2 217.6,340.2 218.6,339.8 219.6,339.7 220.6,339.4 221.6,339.7 222.6,339.4 223.6,338.9 224.6,338.9 225.6,338.8 226.6,338.4 227.6,338.0 228.6,337.2 229.6,336.5 230.2,335.8 230.6,335.5 230.7,335.5 231.2,335.1 231.6,334.2 231.7,334.6 232.2,333.6 232.6,333.0 232.7,332.5 233.2,331.5 233.6,330.7 233.7,330.0 234.2,328.6 234.6,327.4 234.7,327.1 235.2,325.7 235.6,324.7 235.7,324.6 236.2,324.2 236.6,324.2 236.7,324.3 237.2,325.0 237.6,325.9 237.7,326.1 238.2,327.4 238.6,328.2 238.7,328.4 239.2,329.1 239.6,329.5 239.7,329.7 240.2,330.3 240.6,330.6 240.7,330.9 241.2,331.0 241.6,331.2 241.7,330.8 242.2,331.1 242.6,330.9 243.6,330.5 244.6,330.1 245.6,329.7 246.6,328.9 247.6,328.1 248.6,327.0 249.6,326.0 250.6,325.1 251.6,324.3 252.6,323.1 253.5,322.2 253.6,322.2 254.0,321.6 254.5,321.1 254.6,320.9 255.0,320.6 255.5,320.3 255.6,320.3 256.0,319.6 256.5,319.3 256.6,319.4 257.0,319.1 257.5,319.0 257.6,319.0 258.0,318.6 258.5,318.4 258.6,318.3 259.0,318.4 259.5,318.4 259.6,318.3 260.0,318.7 260.5,318.7 260.6,318.7 261.0,319.0 261.5,319.7 261.6,319.6 262.0,320.2 262.5,320.4 262.6,320.6 263.0,321.2 263.5,322.0 263.6,322.0 264.0,322.6 264.5,323.4 264.6,323.5 265.0,324.2 265.5,325.1 265.6,325.3 266.6,327.1 267.6,328.8 268.6,330.0 269.6,331.3 270.6,332.5 271.6,333.4 272.6,334.6 273.6,335.4 274.6,336.2 275.6,336.8 276.6,337.3 277.6,337.9 278.6,338.3 279.6,338.8 280.6,339.5 281.6,339.5 282.6,340.0 283.6,340.5 284.6,340.5 285.6,340.7 286.6,340.8 287.6,341.0 288.6,341.6 289.6,341.5 290.6,341.6 291.6,341.6 292.6,342.1 293.6,341.9 294.6,342.2 295.6,342.4 296.6,342.6 297.6,342.7 298.6,342.5 299.6,342.5 300.6,342.6 301.6,342.7 302.6,342.8 303.6,342.8 304.6,342.9 305.6,343.1 306.6,343.1 307.6,343.0 308.6,343.4 309.6,343.1 310.6,343.3 311.6,343.4 312.6,343.4 313.6,343.6 314.6,343.6 315.6,343.6 316.6,343.7 317.6,343.5 318.6,343.9 319.6,343.7 320.6,343.9 321.6,343.6 322.6,343.8 323.6,344.0 324.6,343.8 325.6,344.0 326.6,344.1 327.6,344.0 328.6,344.0 329.6,344.1 330.6,344.3 331.6,344.0 332.6,344.3 333.6,344.3 334.6,344.1 335.6,344.0 336.6,344.1 337.6,344.2 338.6,344.4 339.6,344.2 340.6,344.1 341.6,344.1 342.6,344.6 343.6,344.1 344.6,344.6 345.6,344.6 346.6,344.5 347.6,344.5 348.6,344.6 349.6,344.6 350.6,344.6 351.6,344.6 352.6,344.7 353.6,344.4 354.6,344.5 355.6,344.7 356.6,344.7 357.6,344.6 358.6,344.9 359.6,344.4 360.6,344.5 361.6,344.5 362.6,344.6 363.6,344.9 364.6,345.0 365.6,344.9 366.6,344.7 367.6,345.0 368.6,344.7 369.6,344.8 370.6,344.9 371.6,344.8 372.6,345.0 373.6,345.1 374.6,344.8 374.8,345.0" fill="none" stroke="#6e1c1c" stroke-width="1.45" stroke-linejoin="round" />
<polyline points="46.6,342.1 47.6,342.6 48.6,342.3 49.6,342.3 50.6,342.6 51.6,342.2 52.6,342.4 53.6,342.6 54.6,342.3 55.6,342.3 56.6,342.4 57.6,342.5 58.6,342.3 59.6,342.7 60.6,342.7 61.6,342.6 62.6,342.5 63.6,342.5 64.6,342.4 65.6,342.4 66.6,342.5 67.6,342.4 68.6,342.5 69.6,342.3 70.6,342.7 71.6,342.7 72.6,342.7 73.6,342.4 74.6,342.5 75.6,342.4 76.6,342.6 77.6,342.8 78.6,342.5 79.6,342.8 80.6,342.4 81.6,342.7 82.6,342.6 83.6,342.6 84.6,342.7 85.6,342.8 86.6,342.9 87.6,342.6 88.6,342.7 89.6,342.7 90.6,342.5 91.6,342.7 92.6,342.8 93.6,342.9 94.6,342.6 95.6,342.8 96.5,342.9 96.6,342.6 97.0,342.6 97.5,342.6 97.6,342.7 98.0,342.8 98.5,342.4 98.6,342.6 99.0,342.7 99.5,342.5 99.6,342.4 100.0,342.1 100.5,342.0 100.6,341.9 101.0,341.8 101.5,341.5 101.6,341.8 102.0,341.6 102.5,341.5 102.6,341.2 103.0,341.4 103.5,341.7 103.6,341.3 104.0,341.8 104.5,341.7 104.6,341.5 105.0,341.8 105.5,342.0 105.6,341.6 106.0,341.8 106.5,341.8 106.6,341.7 107.0,341.5 107.5,341.6 107.6,341.6 108.0,341.3 108.5,341.7 108.6,341.7 109.0,341.5 109.5,341.9 109.6,341.7 110.0,341.6 110.5,342.2 110.6,342.1 111.0,342.0 111.5,342.1 111.6,342.5 112.0,342.4 112.5,342.4 112.6,342.7 113.0,342.7 113.5,342.9 113.6,342.8 114.0,342.8 114.5,342.7 114.6,343.1 115.6,343.1 116.6,342.6 117.6,343.1 118.6,343.0 119.6,342.7 120.6,343.0 121.6,342.9 122.6,342.9 123.6,343.0 124.6,342.8 125.6,343.0 126.6,342.9 127.6,342.8 128.6,343.1 129.6,342.7 130.6,342.9 131.6,343.0 132.6,342.7 133.6,343.1 134.6,342.9 135.6,342.9 136.6,342.8 137.6,343.0 138.6,342.7 139.6,342.9 140.6,342.8 141.6,342.9 142.6,342.7 143.6,342.9 144.6,342.6 145.6,342.9 146.6,342.9 147.6,342.6 148.6,342.7 149.6,342.8 150.6,343.0 151.6,343.0 152.6,342.8 153.6,342.9 154.6,342.7 155.6,342.9 156.6,342.9 157.6,343.0 158.6,342.7 159.6,342.5 160.6,342.5 161.6,342.5 162.6,342.6 163.6,342.5 164.6,342.5 165.6,342.6 166.6,342.2 167.6,342.2 168.6,342.2 169.6,342.3 170.6,342.1 171.6,342.3 172.6,342.0 173.6,341.9 174.6,341.8 175.6,341.5 176.6,341.6 177.6,341.4 178.6,341.2 179.0,341.0 179.5,341.1 179.6,340.9 180.0,341.0 180.5,340.5 180.6,340.7 181.0,340.8 181.5,340.3 181.6,340.2 182.0,340.2 182.5,340.2 182.6,340.5 183.0,340.1 183.5,340.2 183.6,340.3 184.0,340.0 184.5,340.2 184.6,340.1 185.0,340.0 185.5,340.0 185.6,339.9 186.0,340.2 186.5,340.2 186.6,339.9 187.0,339.9 187.5,340.0 187.6,340.1 188.0,340.2 188.5,340.5 188.6,340.5 189.0,340.2 189.5,340.7 189.6,340.7 190.0,340.8 190.5,340.7 190.6,340.8 191.0,340.9 191.5,340.7 191.6,341.1 192.0,340.8 192.5,340.8 192.6,340.8 193.0,341.0 193.5,341.0 193.6,340.7 194.0,340.6 194.5,340.9 194.6,340.7 195.0,340.3 195.5,340.3 195.6,340.2 196.0,339.8 196.5,339.8 196.6,339.7 197.0,339.3 197.5,339.6 197.6,339.3 198.0,339.6 198.5,339.6 198.6,339.6 199.0,339.7 199.5,340.1 199.6,340.2 200.0,340.3 200.5,340.5 200.6,340.7 201.0,340.9 201.5,341.1 201.6,341.2 202.0,341.4 202.5,341.3 202.6,341.3 203.0,341.1 203.5,341.2 203.6,341.3 204.6,341.4 205.6,341.2 206.6,341.3 207.6,341.3 208.6,341.3 209.6,341.3 210.6,341.1 211.6,341.1 212.6,341.0 213.6,340.6 214.6,340.8 215.6,340.7 216.6,340.4 217.6,340.6 218.6,340.2 219.6,340.3 220.6,340.2 221.6,339.9 222.6,339.9 223.6,339.5 224.6,339.3 225.6,339.4 226.6,338.9 227.6,339.0 228.6,338.8 229.6,338.5 230.6,338.1 231.6,337.8 232.6,337.7 233.6,337.4 234.6,337.2 235.6,336.7 236.6,336.4 237.6,336.1 238.6,335.7 239.6,335.4 240.6,335.2 241.6,334.8 242.6,334.2 243.6,333.8 244.6,333.3 245.6,332.7 246.6,332.1 247.6,331.6 248.6,330.9 249.6,330.2 250.6,329.5 251.6,328.9 252.6,328.4 253.6,327.3 254.6,326.9 255.6,326.2 256.6,325.4 257.6,324.6 258.6,323.6 259.6,322.9 260.6,322.1 261.6,321.6 262.6,321.0 263.3,320.6 263.6,320.7 263.8,320.3 264.3,320.3 264.6,319.9 264.8,319.7 265.3,319.6 265.6,319.5 265.8,319.5 266.3,319.1 266.6,319.3 266.8,319.4 267.3,318.9 267.6,319.1 267.8,318.9 268.3,318.7 268.6,319.0 268.8,319.1 269.3,319.0 269.6,319.1 269.8,319.2 270.3,319.6 270.6,319.7 270.8,320.0 271.3,320.7 271.6,321.6 271.8,322.1 272.3,323.2 272.6,323.9 272.8,324.1 273.3,325.5 273.6,326.1 273.8,326.8 274.3,327.6 274.6,328.3 274.8,328.8 275.3,330.0 275.6,330.5 276.6,332.6 277.6,334.4 278.6,335.8 279.6,337.2 280.6,337.8 281.6,338.6 282.6,339.5 283.6,340.3 284.6,340.6 285.6,341.0 286.6,341.6 287.6,342.2 288.6,342.2 289.6,342.4 290.6,342.7 291.6,343.1 292.6,343.4 293.6,343.5 294.6,343.8 295.6,343.7 296.6,343.7 297.6,343.8 298.6,343.9 299.6,344.2 300.6,344.2 301.6,344.3 302.6,344.4 303.6,344.3 304.6,344.5 305.6,344.5 306.6,344.5 307.6,345.0 308.6,344.7 309.6,345.0 310.6,344.9 311.6,344.9 312.6,345.2 313.6,345.0 314.6,345.3 315.6,345.0 316.6,345.2 317.6,345.1 318.6,345.4 319.6,345.0 320.6,345.2 321.6,345.5 322.6,345.4 323.6,345.4 324.6,345.3 325.6,345.7 326.6,345.7 327.6,345.5 328.6,345.5 329.6,345.3 330.6,345.5 331.6,345.4 332.6,345.6 333.6,345.5 334.6,345.8 335.6,345.7 336.6,345.8 337.6,345.8 338.6,345.6 339.6,345.7 340.6,345.7 341.6,345.7 342.6,345.6 343.6,346.0 344.6,346.1 345.6,346.1 346.6,345.7 347.6,345.6 348.6,345.9 349.6,346.1 350.6,346.0 351.6,346.0 352.6,345.7 353.6,345.7 354.6,346.2 355.6,346.0 356.6,346.0 357.6,346.0 358.6,346.0 359.6,346.0 360.6,345.9 361.6,346.0 362.6,346.0 363.6,345.9 364.6,346.1 365.6,346.2 366.6,346.4 367.6,346.3 368.6,346.3 369.6,346.1 370.6,346.3 371.6,346.1 372.6,346.2 373.6,346.2 374.6,346.3 374.8,346.5" fill="none" stroke="#5a44ee" stroke-width="1.45" stroke-linejoin="round" />
<polyline points="46.6,347.1 47.6,347.2 48.6,347.3 49.6,347.4 50.6,347.5 51.6,347.2 52.6,347.1 53.6,347.6 54.6,347.2 55.6,347.4 56.6,347.3 57.6,347.3 58.6,347.5 59.6,347.5 60.6,347.4 61.6,347.4 62.6,347.7 63.6,347.7 64.6,347.3 65.6,347.7 66.6,347.4 67.6,347.4 68.6,347.6 69.6,347.6 70.6,347.6 71.6,347.4 72.6,347.9 73.6,347.8 74.6,347.7 75.6,347.9 76.6,347.9 77.6,347.7 78.6,347.7 79.6,347.8 80.6,347.8 81.6,347.5 82.6,347.8 83.6,347.8 84.6,347.8 85.6,347.6 86.6,347.6 87.6,347.8 88.6,347.7 89.6,348.0 90.6,348.1 91.6,347.9 92.6,348.1 93.6,347.8 94.6,347.8 95.6,347.8 96.5,347.8 96.6,347.7 97.0,347.8 97.5,347.9 97.6,348.1 98.0,347.7 98.5,347.6 98.6,347.9 99.0,347.7 99.5,347.3 99.6,347.3 100.0,347.2 100.5,347.3 100.6,347.0 101.0,347.2 101.5,346.9 101.6,347.0 102.0,346.9 102.5,346.8 102.6,346.7 103.0,346.9 103.5,346.6 103.6,346.8 104.0,346.9 104.5,346.9 104.6,347.0 105.0,346.9 105.5,347.2 105.6,346.9 106.0,347.2 106.5,347.1 106.6,347.2 107.0,347.0 107.5,346.9 107.6,346.9 108.0,346.9 108.5,346.8 108.6,347.0 109.0,347.0 109.5,347.0 109.6,346.7 110.0,346.9 110.5,347.4 110.6,347.5 111.0,347.3 111.5,347.8 111.6,347.4 112.0,347.7 112.5,347.8 112.6,348.1 113.0,347.8 113.5,348.0 113.6,348.2 114.0,348.1 114.5,348.3 114.6,348.1 115.6,348.0 116.6,348.1 117.6,348.3 118.6,348.2 119.6,348.5 120.6,348.3 121.6,348.2 122.6,348.3 123.6,348.2 124.6,348.2 125.6,348.2 126.6,348.2 127.6,348.5 128.6,348.3 129.6,348.5 130.6,348.3 131.6,348.3 132.6,348.6 133.6,348.5 134.6,348.3 135.6,348.2 136.6,348.6 137.6,348.2 138.6,348.4 139.6,348.5 140.6,348.2 141.6,348.1 142.6,347.9 143.6,348.1 144.6,347.7 145.6,347.8 146.6,347.3 147.6,347.1 148.6,347.1 149.6,346.6 150.6,346.1 151.6,345.8 152.6,345.4 153.6,345.3 154.6,344.3 155.6,343.7 156.6,343.2 157.6,342.6 158.6,341.9 159.6,341.4 160.6,340.7 161.6,340.2 162.6,339.7 162.8,339.6 163.3,339.0 163.6,338.9 163.8,339.1 164.3,338.8 164.6,338.5 164.8,338.8 165.3,338.5 165.6,338.3 165.8,338.3 166.3,338.3 166.6,338.2 166.8,338.1 167.3,338.0 167.6,337.9 167.8,337.8 168.3,337.9 168.6,338.0 168.8,337.9 169.3,337.6 169.6,337.8 169.8,338.0 170.3,337.8 170.6,337.9 170.8,337.9 171.3,338.3 171.6,338.4 171.8,338.5 172.3,338.6 172.6,338.8 172.8,338.6 173.3,339.0 173.6,339.0 173.8,339.2 174.3,339.6 174.6,339.4 174.8,339.9 175.6,340.2 176.6,340.5 177.6,341.3 178.6,342.1 179.6,342.9 180.6,343.5 181.6,344.1 182.6,344.7 183.6,345.1 184.6,345.9 185.6,346.0 186.6,346.7 187.6,346.8 188.6,347.6 189.6,347.5 190.6,348.1 191.5,348.3 191.6,348.2 192.0,348.2 192.5,348.4 192.6,348.4 193.0,348.4 193.5,348.3 193.6,348.2 194.0,348.3 194.5,348.2 194.6,347.9 195.0,348.1 195.5,347.7 195.6,347.4 196.0,347.2 196.5,347.2 196.6,347.3 197.0,346.8 197.5,347.2 197.6,347.1 198.0,347.1 198.5,347.2 198.6,347.3 199.0,347.7 199.5,347.6 199.6,347.8 200.0,347.9 200.5,348.2 200.6,348.3 201.0,348.7 201.5,348.9 201.6,348.7 202.0,349.1 202.5,349.3 202.6,349.1 203.0,349.1 203.5,349.4 203.6,349.4 204.6,349.2 205.6,349.1 206.6,349.5 207.6,349.3 208.6,349.2 209.6,349.5 210.6,349.1 211.6,349.3 212.6,349.6 213.6,349.4 214.6,349.4 215.6,349.4 216.6,349.5 217.6,349.5 218.6,349.4 219.6,349.6 220.6,349.4 221.6,349.6 222.6,349.5 223.6,349.6 224.6,349.4 225.6,349.4 226.6,349.7 227.6,349.7 228.6,349.8 229.6,349.4 230.6,349.8 231.6,349.7 232.6,349.6 233.6,349.9 234.6,349.8 235.6,349.8 236.6,349.8 237.6,349.8 238.6,349.9 239.6,349.7 240.6,349.7 241.6,349.6 242.6,349.7 243.6,349.5 244.6,349.7 245.6,349.5 246.6,349.7 247.6,349.6 248.6,349.3 249.6,349.5 250.6,349.1 251.6,348.8 252.6,349.0 253.6,348.4 254.6,348.1 255.6,347.5 256.6,347.3 257.6,346.9 258.6,345.9 259.6,345.1 260.6,344.2 261.6,343.2 262.6,342.0 263.6,340.7 264.6,338.9 265.6,337.6 266.6,335.9 267.6,333.6 268.6,331.9 269.6,329.5 270.6,327.6 271.6,325.4 272.6,323.4 273.6,321.0 274.6,319.2 275.6,317.2 276.6,315.6 276.9,314.9 277.4,314.1 277.6,313.6 277.9,313.1 278.4,312.5 278.6,312.5 278.9,312.1 279.4,311.3 279.6,311.0 279.9,311.0 280.4,310.6 280.6,310.4 280.9,309.9 281.4,309.9 281.6,309.8 281.9,309.7 282.4,309.5 282.6,309.6 282.9,309.5 283.4,309.9 283.6,309.9 283.9,310.9 284.4,311.9 284.6,312.7 284.9,313.6 285.4,315.5 285.6,316.2 285.9,317.7 286.4,319.7 286.6,320.9 286.9,322.4 287.4,324.1 287.6,325.1 287.9,326.2 288.4,328.0 288.6,329.0 288.9,330.1 289.6,332.2 290.6,334.9 291.6,337.2 292.6,339.1 293.6,340.6 294.6,341.8 295.6,343.1 296.6,344.0 297.6,344.7 298.6,345.0 299.6,345.6 300.6,346.2 301.6,346.5 302.6,346.9 303.6,347.5 304.6,347.4 305.6,347.8 306.6,348.0 307.6,348.4 308.6,348.7 309.6,348.8 310.6,348.8 311.6,349.0 312.6,349.0 313.6,349.0 314.6,349.3 315.6,349.3 316.6,349.2 317.6,349.6 318.6,349.6 319.6,349.4 320.6,349.7 321.6,349.6 322.6,350.0 323.6,350.1 324.6,350.2 325.6,350.0 326.6,350.0 327.6,350.0 328.6,349.9 329.6,350.1 330.6,350.4 331.6,350.2 332.6,350.2 333.6,350.5 334.6,350.2 335.6,350.2 336.6,350.4 337.6,350.3 338.6,350.7 339.6,350.7 340.6,350.6 341.6,350.5 342.6,350.4 343.6,350.9 344.6,350.5 345.6,350.7 346.6,350.7 347.6,350.5 348.6,350.7 349.6,350.7 350.6,350.8 351.6,351.0 352.6,350.9 353.6,351.0 354.6,351.0 355.6,350.8 356.6,351.0 357.6,350.9 358.6,351.1 359.6,351.1 360.6,350.9 361.6,350.9 362.6,351.2 363.6,351.0 364.6,351.0 365.6,350.9 366.6,351.3 367.6,351.3 368.6,350.9 369.6,351.0 370.6,351.1 371.6,351.2 372.6,351.4 373.6,351.2 374.6,351.2 374.8,351.2" fill="none" stroke="#2fb52f" stroke-width="1.45" stroke-linejoin="round" />
<polyline points="46.6,355.8 47.6,355.9 48.6,356.0 49.6,356.2 50.6,355.9 51.6,355.9 52.6,356.2 53.6,355.8 54.6,356.2 55.6,356.1 56.6,356.1 57.6,356.0 58.6,356.2 59.6,356.3 60.6,356.3 61.6,356.2 62.6,356.0 63.6,356.1 64.6,356.0 65.6,356.2 66.6,356.2 67.6,356.0 68.6,356.4 69.6,356.2 70.6,356.3 71.6,356.2 72.6,356.4 73.6,356.4 74.6,356.3 75.6,356.1 76.6,356.0 77.6,356.4 78.6,356.2 79.6,356.3 80.6,356.3 81.6,356.1 82.6,356.4 83.6,356.1 84.6,356.5 85.6,356.1 86.6,356.2 87.6,356.5 88.6,356.4 89.6,356.2 90.6,356.1 91.6,356.3 92.6,356.6 93.6,356.4 94.6,356.2 95.6,356.3 96.5,356.5 96.6,356.4 97.0,356.3 97.5,356.4 97.6,356.1 98.0,356.0 98.5,356.2 98.6,356.1 99.0,356.1 99.5,356.0 99.6,355.9 100.0,355.6 100.5,355.3 100.6,355.7 101.0,355.2 101.5,355.4 101.6,355.0 102.0,355.1 102.5,354.9 102.6,355.1 103.0,355.1 103.5,355.1 103.6,354.8 104.0,355.2 104.5,355.4 104.6,355.2 105.0,355.2 105.5,355.1 105.6,355.0 106.0,355.0 106.5,355.0 106.6,355.0 107.0,355.0 107.5,355.0 107.6,354.9 108.0,354.9 108.5,354.9 108.6,354.9 109.0,354.8 109.5,355.0 109.6,354.9 110.0,355.2 110.5,355.5 110.6,355.4 111.0,355.2 111.5,355.8 111.6,355.5 112.0,355.6 112.5,355.7 112.6,356.0 113.0,356.1 113.5,355.7 113.6,356.0 114.0,355.7 114.5,356.0 114.6,355.7 115.6,356.1 116.6,355.7 117.6,355.5 118.6,355.5 119.6,355.3 120.6,355.2 121.6,355.2 122.6,354.7 123.6,354.8 124.6,354.4 125.6,353.9 126.6,353.5 127.6,353.0 128.6,352.1 129.6,351.4 130.5,350.5 130.6,350.6 131.0,349.8 131.5,349.2 131.6,349.3 132.0,348.6 132.5,347.9 132.6,347.8 133.0,347.5 133.5,346.6 133.6,346.5 134.0,346.0 134.5,345.2 134.6,345.0 135.0,344.7 135.5,344.4 135.6,344.6 136.0,344.3 136.5,344.1 136.6,344.0 137.0,344.0 137.5,344.3 137.6,344.7 138.0,345.0 138.5,345.4 138.6,345.6 139.0,345.9 139.5,346.9 139.6,347.1 140.0,347.6 140.5,348.2 140.6,348.2 141.0,348.7 141.5,349.5 141.6,349.5 142.0,350.1 142.5,350.8 142.6,350.7 143.6,351.8 144.6,352.6 145.6,353.5 146.6,354.0 147.6,354.3 148.6,354.5 149.6,355.0 150.6,355.1 151.6,355.3 152.6,355.7 153.6,356.0 154.6,356.3 155.6,356.2 156.6,356.3 157.6,356.5 158.6,356.5 159.6,356.7 160.6,356.5 161.6,356.8 162.6,356.8 163.6,356.9 164.6,356.9 165.6,357.1 166.6,356.7 167.6,357.2 168.6,357.1 169.6,357.0 170.6,357.3 171.6,357.2 172.6,357.1 173.6,357.3 174.6,357.4 175.6,357.3 176.6,357.3 177.6,357.3 178.6,357.3 179.6,357.2 180.6,357.2 181.6,357.3 182.6,357.6 183.6,357.4 184.6,357.5 185.6,357.3 186.6,357.8 187.6,357.4 188.6,357.5 189.6,357.8 190.6,357.5 191.5,357.8 191.6,357.7 192.0,357.5 192.5,357.7 192.6,357.4 193.0,357.7 193.5,357.5 193.6,357.5 194.0,357.5 194.5,357.0 194.6,356.9 195.0,356.9 195.5,356.5 195.6,356.4 196.0,356.4 196.5,355.8 196.6,355.7 197.0,355.8 197.5,355.8 197.6,355.7 198.0,355.6 198.5,355.9 198.6,356.1 199.0,356.3 199.5,356.3 199.6,356.6 200.0,356.8 200.5,357.2 200.6,357.0 201.0,357.3 201.5,357.4 201.6,357.6 202.0,357.6 202.5,357.5 202.6,357.6 203.0,357.8 203.5,357.6 203.6,357.6 204.6,358.0 205.6,358.0 206.6,357.7 207.6,357.8 208.6,357.7 209.6,358.1 210.6,357.8 211.6,357.7 212.6,358.1 213.6,358.0 214.6,357.7 215.6,357.8 216.6,357.8 217.6,358.0 218.6,358.0 219.6,358.0 220.6,357.8 221.6,358.1 222.6,357.9 223.6,358.1 224.6,358.2 225.6,358.1 226.6,358.1 227.6,357.9 228.6,358.1 229.6,357.9 230.6,358.3 231.6,358.3 232.6,357.9 233.6,358.1 234.6,358.3 235.6,358.0 236.6,357.9 237.6,358.2 238.6,358.2 239.6,358.3 240.6,358.0 241.6,358.2 242.6,358.1 243.6,358.1 244.6,358.0 245.6,358.3 246.6,358.2 247.6,358.0 248.6,358.1 249.6,358.1 250.6,357.9 251.6,358.1 252.6,358.0 253.6,358.0 254.6,358.4 255.6,358.3 256.6,358.3 257.6,358.2 258.6,358.0 259.6,358.0 260.6,358.2 261.6,358.1 262.6,358.2 263.6,358.1 264.6,358.0 265.6,358.0 266.6,358.1 267.6,357.9 268.6,357.7 269.6,357.8 270.6,358.0 271.6,357.8 272.6,357.5 273.6,357.7 274.6,357.7 275.6,357.5 276.6,357.5 277.6,357.0 278.6,357.3 279.6,357.2 280.6,357.0 281.6,356.8 282.6,356.3 283.6,356.3 284.6,355.8 285.6,355.9 286.6,355.1 287.6,354.9 288.6,354.6 289.6,353.7 290.6,353.0 291.6,352.2 292.6,351.5 293.6,350.2 294.6,348.4 295.6,346.7 296.6,344.3 297.6,341.2 298.2,339.1 298.6,337.3 298.7,336.8 299.2,334.5 299.6,332.4 299.7,331.7 300.2,329.3 300.6,326.5 300.7,325.8 301.2,322.8 301.6,320.1 301.7,319.8 302.2,316.6 302.6,314.3 302.7,313.8 303.2,311.9 303.6,310.4 303.7,310.2 304.2,309.8 304.6,310.1 304.7,309.9 305.2,310.8 305.6,312.2 305.7,312.4 306.2,314.5 306.6,316.1 306.7,316.7 307.2,319.5 307.6,322.3 307.7,322.8 308.2,326.0 308.6,328.5 308.7,329.1 309.2,332.7 309.6,335.1 309.7,335.9 310.2,339.0 310.6,341.5 311.6,346.3 312.6,350.5 313.6,353.9 314.6,355.8 315.6,357.5 316.6,358.3 317.6,359.1 318.6,359.3 319.6,359.4 320.6,359.6 321.6,359.4 322.6,359.3 323.6,359.5 324.6,359.5 325.6,359.6 326.6,359.4 327.6,359.8 328.6,359.8 329.6,359.7 330.6,359.7 331.6,359.7 332.6,359.6 333.6,359.6 334.6,359.7 335.6,359.5 336.6,359.5 337.6,359.9 338.6,359.8 339.6,359.8 340.6,359.8 341.6,359.8 342.6,359.7 343.6,359.9 344.6,360.0 345.6,359.6 346.6,359.8 347.6,359.9 348.6,359.9 349.6,359.8 350.6,360.0 351.6,360.0 352.6,360.1 353.6,360.0 354.6,359.8 355.6,360.2 356.6,360.1 357.6,360.2 358.6,359.9 359.6,360.2 360.6,359.8 361.6,359.8 362.6,359.8 363.6,360.1 364.6,360.0 365.6,360.3 366.6,359.9 367.6,360.3 368.6,359.9 369.6,360.0 370.6,360.1 371.6,360.3 372.6,360.1 373.6,360.0 374.6,360.2 374.8,360.0" fill="none" stroke="#3a4fe0" stroke-width="1.45" stroke-linejoin="round" />
<polyline points="46.6,398.6 47.6,398.8 48.6,398.3 49.6,398.5 50.6,398.5 51.6,398.3 52.6,398.5 53.6,398.8 54.6,398.4 55.6,398.6 56.6,398.5 57.6,398.6 58.6,398.7 59.6,398.5 60.6,398.6 61.6,398.6 62.6,398.5 63.6,398.3 64.6,398.0 65.6,398.1 66.6,397.6 67.1,397.3 67.6,397.1 68.1,396.5 68.6,396.2 69.1,395.3 69.6,394.3 70.1,392.7 70.6,391.4 71.1,389.2 71.6,387.3 72.1,386.3 72.6,385.7 73.1,386.3 73.6,387.4 74.1,389.2 74.6,391.1 75.1,392.9 75.6,394.2 76.1,395.6 76.6,396.1 77.1,396.9 77.6,397.5 78.1,397.5 78.6,398.0 79.6,398.3 80.6,398.5 81.6,398.6 82.6,398.4 83.6,398.7 84.6,398.5 85.6,398.6 86.6,398.9 87.6,398.8 88.6,398.6 89.6,398.6 90.6,399.0 91.6,399.0 92.6,399.1 93.6,398.9 94.6,399.1 95.6,399.2 96.5,398.8 96.6,398.9 97.0,399.2 97.5,399.1 97.6,399.0 98.0,399.1 98.5,399.1 98.6,398.9 99.0,398.7 99.5,398.7 99.6,398.6 100.0,398.5 100.5,398.5 100.6,398.2 101.0,398.1 101.5,398.2 101.6,398.1 102.0,398.2 102.5,398.1 102.6,398.3 103.0,398.0 103.5,398.5 103.6,398.2 104.0,398.2 104.5,398.5 104.6,398.6 105.0,398.4 105.5,398.6 105.6,398.2 106.0,398.4 106.5,398.4 106.6,398.6 107.0,398.3 107.5,398.3 107.6,398.3 108.0,398.3 108.5,398.0 108.6,398.3 109.0,398.2 109.5,398.2 109.6,398.4 110.0,398.2 110.5,398.4 110.6,398.9 111.0,398.7 111.5,399.0 111.6,399.1 112.0,399.1 112.5,399.2 112.6,398.9 113.0,399.3 113.5,399.0 113.6,399.4 114.0,398.9 114.5,399.3 114.6,399.2 115.6,399.1 116.6,399.2 117.6,399.4 118.6,399.1 119.6,399.4 120.6,399.2 121.6,399.3 122.6,399.5 123.6,399.6 124.6,399.5 125.6,399.5 126.6,399.3 127.6,399.4 128.6,399.5 129.6,399.3 130.6,399.5 131.6,399.2 132.6,399.5 133.6,399.7 134.6,399.7 135.6,399.6 136.6,399.3 137.6,399.5 138.6,399.3 139.6,399.4 140.6,399.6 141.6,399.3 142.6,399.6 143.6,399.5 144.6,399.7 145.6,399.6 146.6,399.7 147.6,399.8 148.6,399.7 149.6,399.7 150.6,399.4 151.6,399.4 152.6,399.4 153.6,399.7 154.6,399.5 155.6,399.5 156.6,399.6 157.6,399.5 158.6,399.6 159.6,399.6 160.6,399.9 161.6,399.6 162.6,399.5 163.6,399.9 164.6,399.5 165.6,399.9 166.6,399.7 167.6,399.8 168.6,399.8 169.6,400.0 170.6,399.8 171.6,399.6 172.6,399.8 173.6,399.7 174.6,399.8 175.6,399.9 176.6,400.1 177.6,399.9 178.6,399.8 179.6,399.9 180.6,399.8 181.6,399.7 182.6,399.7 183.6,400.0 184.6,399.7 185.6,399.8 186.6,399.8 187.6,399.9 188.6,400.2 189.6,399.8 190.6,400.0 191.5,400.0 191.6,400.2 192.0,400.0 192.5,400.2 192.6,399.9 193.0,399.7 193.5,399.9 193.6,399.6 194.0,400.0 194.5,399.6 194.6,399.6 195.0,399.6 195.5,399.1 195.6,399.2 196.0,399.0 196.5,399.1 196.6,398.7 197.0,398.9 197.5,398.8 197.6,398.9 198.0,398.9 198.5,398.9 198.6,399.1 199.0,399.1 199.5,399.1 199.6,399.0 200.0,399.2 200.5,399.6 200.6,399.7 201.0,399.5 201.5,399.6 201.6,400.0 202.0,399.7 202.5,399.8 202.6,400.1 203.0,400.3 203.5,400.1 203.6,400.3 204.6,400.0 205.6,400.2 206.6,400.2 207.6,400.1 208.6,400.2 209.6,400.2 210.6,400.0 211.6,400.3 212.6,400.4 213.6,400.0 214.6,400.0 215.6,400.4 216.6,400.3 217.6,400.2 218.6,400.0 219.6,400.3 220.6,400.4 221.6,400.2 222.6,400.3 223.6,400.4 224.6,400.1 225.6,400.3 226.6,400.1 227.6,400.4 228.6,400.2 229.6,400.1 230.6,400.4 231.6,400.2 232.6,400.4 233.6,400.4 234.6,400.5 235.6,400.3 236.6,400.6 237.6,400.4 238.6,400.6 239.6,400.5 240.6,400.2 241.6,400.3 242.6,400.4 243.6,400.4 244.6,400.4 245.6,400.6 246.6,400.6 247.6,400.2 248.6,400.7 249.6,400.6 250.6,400.6 251.6,400.7 252.6,400.3 253.6,400.6 254.6,400.7 255.6,400.8 256.6,400.5 257.6,400.8 258.6,400.6 259.6,400.8 260.6,400.6 261.6,400.8 262.6,400.7 263.6,400.6 264.6,400.8 265.6,400.7 266.6,400.7 267.6,400.6 268.6,400.6 269.6,400.6 270.6,400.6 271.6,400.8 272.6,400.5 273.6,400.9 274.6,400.9 275.6,400.6 276.6,400.8 277.6,400.8 278.6,400.8 279.6,400.5 280.6,401.0 281.6,400.6 282.6,400.9 283.6,401.0 284.6,400.9 285.6,400.7 286.6,400.5 287.6,400.5 288.6,400.9 289.6,401.0 290.6,401.0 291.6,400.9 292.6,400.7 293.6,401.0 294.6,400.8 295.6,400.9 296.6,400.6 297.6,401.0 298.6,400.7 299.6,400.8 300.6,400.9 301.6,400.7 302.6,400.9 303.6,401.0 304.6,401.0 305.6,400.5 306.6,400.9 307.6,401.0 308.6,400.9 309.6,400.8 310.6,400.6 311.6,400.5 312.6,400.7 313.6,400.8 314.6,400.7 315.6,400.4 316.6,400.5 317.6,400.8 318.6,400.3 319.6,400.5 320.6,400.4 321.6,400.4 322.6,400.6 323.6,400.5 324.6,400.2 325.6,400.0 326.6,399.9 327.6,399.7 328.6,399.8 329.6,399.9 330.6,399.5 331.6,399.2 332.6,399.0 333.6,398.7 334.6,398.7 335.6,398.2 336.6,398.0 337.6,397.3 338.6,396.6 339.6,395.7 340.6,394.2 341.6,392.8 342.6,390.5 343.6,387.0 344.1,385.2 344.6,382.3 345.1,379.0 345.6,375.3 346.1,370.9 346.6,365.5 347.1,359.8 347.6,353.4 348.1,346.4 348.6,340.3 349.1,334.8 349.6,331.1 350.1,329.4 350.6,330.8 351.1,334.7 351.6,340.3 352.1,346.8 352.6,353.1 353.1,359.5 353.6,365.5 354.1,371.0 354.6,375.5 355.1,379.1 355.6,382.2 356.1,385.0 356.6,387.3 357.6,390.6 358.6,393.1 359.6,394.7 360.6,395.7 361.6,397.0 362.6,397.4 363.6,398.1 364.6,398.6 365.6,398.9 366.6,399.5 367.6,399.6 368.6,399.7 369.6,400.0 370.6,400.1 371.6,400.2 372.6,400.3 373.6,400.7 374.6,400.5 374.8,400.7" fill="none" stroke="#f07a30" stroke-width="1.45" stroke-linejoin="round" />
<polyline points="46.6,430.4 47.6,430.7 48.6,430.4 49.6,430.6 50.6,430.5 51.6,430.5 52.6,430.8 53.6,430.7 54.6,430.4 55.6,430.9 56.6,430.9 57.6,430.4 58.6,430.5 59.6,430.7 60.6,430.9 61.6,430.5 62.6,430.5 63.6,430.6 64.6,430.5 65.6,430.6 66.2,430.6 66.6,430.7 66.7,430.5 67.2,430.6 67.6,430.8 67.7,430.5 68.2,430.7 68.6,430.5 68.7,430.6 69.2,430.2 69.6,430.5 69.7,430.5 70.2,430.1 70.6,430.2 70.7,430.0 71.2,430.1 71.6,429.6 71.7,429.9 72.2,429.4 72.6,429.9 72.7,429.5 73.2,430.0 73.6,429.9 73.7,430.2 74.2,430.3 74.6,430.4 74.7,430.5 75.2,430.4 75.6,430.7 75.7,430.6 76.2,430.4 76.6,430.9 76.7,430.9 77.2,430.5 77.6,430.8 77.7,430.9 78.2,430.7 78.6,430.9 79.6,430.7 80.6,430.7 81.6,430.7 82.6,431.0 83.6,431.2 84.6,430.9 85.6,430.9 86.6,430.9 87.6,430.8 88.6,430.9 89.6,431.1 90.6,431.1 91.6,430.9 92.6,431.0 93.6,431.2 94.6,430.9 95.6,431.3 96.5,431.2 96.6,431.0 97.0,431.2 97.5,431.2 97.6,430.8 98.0,431.0 98.5,430.8 98.6,431.0 99.0,430.5 99.5,430.6 99.6,430.3 100.0,430.6 100.5,430.1 100.6,430.2 101.0,430.2 101.5,430.1 101.6,429.8 102.0,429.7 102.5,430.0 102.6,430.0 103.0,429.7 103.5,430.0 103.6,430.0 104.0,429.8 104.5,430.2 104.6,429.8 105.0,430.1 105.5,429.9 105.6,430.1 106.0,430.2 106.5,430.1 106.6,430.0 107.0,429.7 107.5,429.6 107.6,430.0 108.0,429.8 108.5,429.7 108.6,429.5 109.0,429.8 109.5,430.0 109.6,429.7 110.0,430.0 110.5,430.2 110.6,430.3 111.0,430.4 111.5,430.6 111.6,430.7 112.0,430.7 112.5,430.8 112.6,430.7 113.0,430.7 113.5,430.9 113.6,430.7 114.0,430.7 114.5,430.9 114.6,431.0 115.6,430.6 116.6,430.6 117.6,430.4 118.6,430.4 119.6,430.7 120.6,430.1 121.6,430.3 122.6,430.1 123.6,429.6 124.6,429.4 125.6,428.9 126.6,428.6 127.6,427.9 128.6,427.0 129.3,426.6 129.6,426.1 129.8,425.9 130.3,425.5 130.6,424.9 130.8,425.1 131.3,424.2 131.6,423.7 131.8,423.4 132.3,422.5 132.6,422.1 132.8,421.6 133.3,421.1 133.6,420.8 133.8,420.3 134.3,419.9 134.6,419.7 134.8,419.5 135.3,419.2 135.6,419.5 135.8,419.3 136.3,420.0 136.6,420.0 136.8,420.4 137.3,421.1 137.6,421.6 137.8,421.7 138.3,422.4 138.6,423.4 138.8,423.4 139.3,424.5 139.6,424.8 139.8,424.9 140.3,425.7 140.6,426.1 140.8,426.5 141.3,427.0 141.6,427.3 142.6,428.2 143.6,428.7 144.6,429.1 145.6,429.4 146.6,430.1 147.6,430.1 148.6,430.4 149.6,430.7 150.6,430.7 151.6,430.8 152.6,431.2 153.6,431.2 154.6,431.4 155.6,431.5 156.6,431.7 157.6,431.4 158.6,431.4 159.6,431.5 160.6,431.9 161.6,431.6 162.6,431.9 163.6,431.8 164.6,432.0 165.6,432.1 166.6,431.9 167.6,432.0 168.6,431.9 169.6,431.8 170.6,431.8 171.6,431.9 172.6,432.0 173.6,432.3 174.6,431.9 175.6,432.3 176.6,432.0 177.6,432.5 178.6,432.3 179.6,432.2 180.6,432.3 181.6,432.4 182.6,432.5 183.6,432.2 184.6,432.6 185.6,432.5 186.6,432.6 187.6,432.2 188.6,432.6 189.6,432.6 190.6,432.3 191.5,432.6 191.6,432.6 192.0,432.4 192.5,432.5 192.6,432.3 193.0,432.2 193.5,432.2 193.6,432.5 194.0,432.0 194.5,431.8 194.6,431.9 195.0,431.8 195.5,431.6 195.6,431.4 196.0,431.0 196.5,430.7 196.6,430.9 197.0,430.8 197.5,430.8 197.6,430.6 198.0,430.5 198.5,431.0 198.6,430.7 199.0,431.2 199.5,431.2 199.6,431.2 200.0,431.4 200.5,431.8 200.6,431.8 201.0,432.2 201.5,432.5 201.6,432.3 202.0,432.6 202.5,432.8 202.6,432.5 203.0,432.4 203.5,432.4 203.6,432.5 204.6,432.6 205.6,432.9 206.6,432.6 207.6,432.5 208.6,432.9 209.6,432.8 210.6,432.8 211.6,432.9 212.6,432.8 213.6,432.9 214.6,432.9 215.6,432.6 216.6,432.6 217.6,433.0 218.6,432.6 219.6,433.0 220.6,432.8 221.6,433.1 222.6,432.7 223.6,432.7 224.6,433.1 225.6,432.8 226.6,433.1 227.6,432.8 228.6,433.0 229.6,432.8 230.6,433.0 231.6,433.1 232.6,433.0 233.6,433.2 234.6,432.9 235.6,433.1 236.6,433.1 237.6,433.3 238.6,433.1 239.6,432.8 240.6,433.1 241.6,432.8 242.6,433.0 243.6,433.3 244.6,433.0 245.6,433.1 246.6,433.3 247.6,433.2 248.6,432.9 249.6,433.4 250.6,433.2 251.6,433.3 252.6,433.3 253.6,433.4 254.6,433.0 255.6,432.9 256.6,432.9 257.6,433.2 258.6,432.9 259.6,433.3 260.6,433.0 261.6,433.3 262.6,433.0 263.6,433.1 264.6,432.9 265.6,432.9 266.6,432.8 267.6,433.1 268.6,432.8 269.6,432.8 270.6,432.9 271.6,433.2 272.6,432.9 273.6,432.9 274.6,432.7 275.6,432.5 276.6,432.5 277.6,432.7 278.6,432.8 279.6,432.5 280.6,432.3 281.6,432.2 282.6,432.3 283.6,431.8 284.6,432.0 285.6,431.5 286.6,431.4 287.6,431.0 288.6,430.4 289.6,430.0 290.6,429.8 291.6,429.0 292.6,428.2 293.6,427.2 294.6,425.8 295.6,423.8 296.6,421.7 297.5,418.7 297.6,418.4 298.0,416.6 298.5,414.7 298.6,414.0 299.0,411.8 299.5,409.1 299.6,408.3 300.0,406.0 300.5,402.4 300.6,401.5 301.0,398.0 301.5,394.1 301.6,393.3 302.0,390.5 302.5,387.2 302.6,386.5 303.0,385.1 303.5,384.0 303.6,384.1 304.0,384.3 304.5,385.4 304.6,386.0 305.0,387.0 305.5,389.3 305.6,390.1 306.0,392.0 306.5,395.5 306.6,395.8 307.0,398.7 307.5,402.1 307.6,402.8 308.0,405.6 308.5,409.3 308.6,409.9 309.0,412.6 309.5,415.8 309.6,416.2 310.6,422.0 311.6,426.0 312.6,429.2 313.6,431.3 314.6,432.5 315.6,433.4 316.6,434.0 317.6,433.9 318.6,434.1 319.6,434.5 320.6,434.3 321.6,434.1 322.6,434.5 323.6,434.5 324.6,434.5 325.6,434.2 326.6,434.7 327.6,434.2 328.6,434.5 329.6,434.4 330.6,434.6 331.6,434.5 332.6,434.4 333.6,434.6 334.6,434.2 335.6,434.5 336.6,434.6 337.6,434.3 338.6,434.3 339.6,434.3 340.6,434.2 341.6,434.2 342.6,434.0 343.6,433.9 344.0,433.7 344.5,433.3 344.6,433.6 345.0,433.3 345.5,432.8 345.6,433.2 346.0,432.5 346.5,432.4 346.6,432.1 347.0,431.8 347.5,431.1 347.6,430.7 348.0,430.3 348.5,429.4 348.6,429.1 349.0,428.6 349.5,427.4 349.6,427.6 350.0,427.1 350.5,427.6 350.6,427.6 351.0,428.6 351.5,429.3 351.6,429.5 352.0,430.1 352.5,431.2 352.6,431.1 353.0,431.9 353.5,432.4 353.6,432.3 354.0,432.6 354.5,433.0 354.6,433.0 355.0,433.5 355.5,433.6 355.6,433.7 356.0,433.9 356.6,434.2 357.6,434.3 358.6,434.6 359.6,434.6 360.6,434.7 361.6,434.7 362.6,434.5 363.6,434.8 364.6,434.7 365.6,434.8 366.6,435.0 367.6,434.8 368.6,434.9 369.6,435.2 370.6,435.2 371.6,435.2 372.6,434.9 373.6,435.0 374.6,435.3 374.8,435.3" fill="none" stroke="#3a4fe0" stroke-width="1.45" stroke-linejoin="round" />
<polyline points="46.6,441.6 47.6,441.7 48.6,441.7 49.6,441.7 50.6,441.8 51.6,441.5 52.6,441.8 53.6,441.4 54.6,441.6 55.6,441.7 56.6,441.6 57.6,441.5 58.6,441.7 59.6,441.6 60.6,441.7 61.6,441.8 62.6,441.7 63.6,441.7 64.6,441.8 65.6,441.9 66.6,441.9 67.6,441.9 68.6,441.9 69.6,442.0 70.6,441.6 71.6,441.6 72.6,441.6 73.6,441.9 74.6,441.6 75.6,441.6 76.6,442.0 77.6,441.9 78.6,441.6 79.6,441.9 80.6,441.9 81.6,441.7 82.6,441.9 83.6,441.8 84.6,442.0 85.6,441.9 86.6,442.1 87.6,441.9 88.6,442.0 89.6,442.2 90.6,442.2 91.6,441.9 92.6,442.3 93.6,441.8 94.6,442.3 95.6,442.2 96.5,441.9 96.6,442.2 97.0,441.8 97.5,442.1 97.6,441.8 98.0,441.9 98.5,441.7 98.6,442.0 99.0,442.0 99.5,441.4 99.6,441.8 100.0,441.3 100.5,441.1 100.6,441.3 101.0,440.9 101.5,440.9 101.6,441.1 102.0,440.8 102.5,440.7 102.6,440.9 103.0,440.9 103.5,441.0 103.6,440.9 104.0,441.1 104.5,441.0 104.6,441.3 105.0,440.9 105.5,441.2 105.6,441.0 106.0,440.9 106.5,441.3 106.6,441.0 107.0,441.2 107.5,441.2 107.6,441.0 108.0,441.0 108.5,441.1 108.6,440.9 109.0,441.2 109.5,441.0 109.6,441.3 110.0,441.2 110.5,441.6 110.6,441.3 111.0,441.4 111.5,441.7 111.6,441.9 112.0,442.0 112.5,442.2 112.6,441.9 113.0,442.1 113.5,442.1 113.6,442.3 114.0,442.1 114.5,442.3 114.6,442.2 115.6,442.1 116.6,442.2 117.6,442.2 118.6,442.2 119.6,442.3 120.6,442.4 121.6,442.6 122.6,442.6 123.6,442.3 124.6,442.5 125.6,442.6 126.6,442.3 127.6,442.4 128.6,442.5 129.6,442.5 130.6,442.5 131.6,442.4 132.6,442.5 133.6,442.2 134.6,442.4 135.6,442.2 136.6,442.6 137.6,442.6 138.6,442.2 139.6,442.1 140.6,442.0 141.6,442.0 142.6,442.0 143.6,442.1 144.6,441.6 145.6,441.6 146.6,441.1 147.6,441.2 148.6,441.0 149.6,440.4 150.6,440.2 151.6,439.6 152.6,439.7 153.6,439.0 154.6,438.7 155.6,438.4 156.6,437.5 157.6,437.2 158.6,436.9 159.6,436.8 159.8,436.3 160.3,436.2 160.6,436.2 160.8,436.1 161.3,436.1 161.6,435.8 161.8,435.7 162.3,435.7 162.6,435.9 162.8,435.8 163.3,435.7 163.6,435.4 163.8,435.4 164.3,435.4 164.6,435.5 164.8,435.3 165.3,435.1 165.6,435.2 165.8,435.3 166.3,435.2 166.6,435.1 166.8,435.4 167.3,435.3 167.6,435.6 167.8,435.4 168.3,435.7 168.6,435.7 168.8,435.5 169.3,436.0 169.6,436.1 169.8,436.0 170.3,436.1 170.6,436.1 170.8,436.5 171.3,436.2 171.6,436.3 171.8,436.7 172.6,437.1 173.6,437.4 174.6,437.6 175.6,438.1 176.6,438.5 177.6,439.0 178.6,439.5 179.6,440.0 180.6,440.1 181.6,440.8 182.6,441.3 183.6,441.6 184.6,441.9 185.6,442.1 186.6,442.0 187.6,442.1 188.6,442.6 189.6,442.6 190.6,442.9 191.5,442.6 191.6,443.0 192.0,443.1 192.5,442.6 192.6,442.8 193.0,443.0 193.5,442.8 193.6,442.8 194.0,442.5 194.5,442.3 194.6,442.5 195.0,442.4 195.5,442.0 195.6,441.7 196.0,441.7 196.5,441.1 196.6,441.5 197.0,441.4 197.5,441.3 197.6,441.2 198.0,441.1 198.5,441.4 198.6,441.4 199.0,441.7 199.5,442.0 199.6,442.2 200.0,442.1 200.5,442.5 200.6,442.5 201.0,442.5 201.5,442.8 201.6,443.0 202.0,442.9 202.5,442.9 202.6,443.1 203.0,443.0 203.5,443.1 203.6,443.2 204.6,443.5 205.6,443.2 206.6,443.4 207.6,443.1 208.6,443.3 209.6,443.4 210.6,443.3 211.6,443.3 212.6,443.5 213.6,443.1 214.6,443.5 215.6,443.3 216.6,443.2 217.6,443.4 218.6,443.4 219.6,443.2 220.6,443.4 221.6,443.3 222.6,443.3 223.6,443.6 224.6,443.5 225.6,443.5 226.6,443.6 227.6,443.7 228.6,443.7 229.6,443.5 230.6,443.6 231.6,443.6 232.6,443.6 233.6,443.4 234.6,443.4 235.6,443.5 236.6,443.4 237.6,443.9 238.6,443.5 239.6,443.7 240.6,443.7 241.6,443.5 242.6,443.7 243.6,443.7 244.6,443.9 245.6,443.5 246.6,443.9 247.6,443.5 248.6,443.4 249.6,443.4 250.6,443.7 251.6,443.4 252.6,443.5 253.6,443.3 254.6,442.9 255.6,442.7 256.6,442.4 257.6,442.4 258.6,441.9 259.6,441.2 260.6,440.5 261.6,439.7 262.6,439.0 263.6,437.7 264.6,436.6 265.6,435.4 266.6,433.5 267.6,431.8 268.6,430.4 269.6,428.1 270.6,426.2 271.6,424.4 272.6,421.9 273.6,419.8 274.6,417.7 275.6,415.8 276.6,414.2 276.7,414.0 277.2,412.8 277.6,412.2 277.7,412.2 278.2,411.2 278.6,410.7 278.7,410.8 279.2,410.3 279.6,409.8 279.7,409.5 280.2,409.0 280.6,408.7 280.7,408.7 281.2,408.4 281.6,408.3 281.7,408.3 282.2,408.1 282.6,408.2 282.7,408.4 283.2,408.4 283.6,408.9 283.7,409.4 284.2,410.5 284.6,412.0 284.7,412.5 285.2,414.2 285.6,416.1 285.7,416.3 286.2,418.7 286.6,420.2 286.7,420.8 287.2,422.9 287.6,424.2 287.7,424.4 288.2,426.2 288.6,427.4 288.7,427.6 289.6,430.0 290.6,432.4 291.6,434.4 292.6,435.7 293.6,437.0 294.6,438.0 295.6,439.0 296.6,439.3 297.6,440.0 298.6,440.5 299.6,441.1 300.6,441.2 301.6,441.8 302.6,441.7 303.6,441.9 304.6,442.2 305.6,442.6 306.6,442.6 307.6,442.8 308.6,443.0 309.6,442.9 310.6,443.0 311.6,443.4 312.6,443.4 313.6,443.4 314.6,443.7 315.6,443.5 316.6,443.6 317.6,443.5 318.6,443.6 319.6,443.6 320.6,443.6 321.6,444.1 322.6,443.7 323.6,444.1 324.6,444.2 325.6,443.9 326.6,444.2 327.6,444.2 328.6,444.0 329.6,444.4 330.6,444.0 331.6,444.4 332.6,444.4 333.6,444.4 334.6,444.2 335.6,444.3 336.6,444.6 337.6,444.3 338.6,444.6 339.6,444.6 340.6,444.3 341.6,444.4 342.6,444.5 343.6,444.4 344.6,444.6 345.6,444.5 346.6,444.5 347.6,444.7 348.6,444.7 349.6,444.6 350.6,444.6 351.6,444.7 352.6,445.0 353.6,444.9 354.6,444.6 355.6,444.8 356.6,444.8 357.6,445.0 358.6,445.1 359.6,444.7 360.6,444.8 361.6,444.7 362.6,444.7 363.6,444.7 364.6,445.2 365.6,445.0 366.6,444.8 367.6,444.8 368.6,444.8 369.6,445.1 370.6,444.8 371.6,445.2 372.6,445.1 373.6,444.9 374.6,445.0 374.8,444.8" fill="none" stroke="#2fb52f" stroke-width="1.45" stroke-linejoin="round" />
<polyline points="46.6,446.2 47.6,446.5 48.6,446.4 49.6,446.0 50.6,446.3 51.6,446.1 52.6,446.2 53.6,446.5 54.6,446.2 55.6,446.3 56.6,446.4 57.6,446.2 58.6,446.6 59.6,446.4 60.6,446.3 61.6,446.3 62.6,446.4 63.6,446.3 64.6,446.5 65.6,446.4 66.6,446.6 67.6,446.6 68.6,446.2 69.6,446.4 70.6,446.5 71.6,446.5 72.6,446.5 73.6,446.3 74.6,446.2 75.6,446.7 76.6,446.5 77.6,446.5 78.6,446.7 79.6,446.4 80.6,446.7 81.6,446.6 82.6,446.6 83.6,446.8 84.6,446.4 85.6,446.7 86.6,446.6 87.6,446.8 88.6,446.4 89.6,446.4 90.6,446.6 91.6,446.7 92.6,446.6 93.6,446.7 94.6,446.8 95.6,446.5 96.5,446.4 96.6,446.4 97.0,446.6 97.5,446.4 97.6,446.5 98.0,446.7 98.5,446.5 98.6,446.6 99.0,446.2 99.5,446.0 99.6,446.3 100.0,445.8 100.5,445.7 100.6,446.0 101.0,445.8 101.5,445.4 101.6,445.2 102.0,445.2 102.5,445.2 102.6,445.4 103.0,445.2 103.5,445.2 103.6,445.4 104.0,445.8 104.5,445.7 104.6,445.8 105.0,445.9 105.5,445.8 105.6,445.8 106.0,445.8 106.5,445.8 106.6,445.8 107.0,445.3 107.5,445.4 107.6,445.7 108.0,445.5 108.5,445.3 108.6,445.3 109.0,445.3 109.5,445.6 109.6,445.7 110.0,445.5 110.5,445.7 110.6,445.9 111.0,446.0 111.5,446.3 111.6,446.4 112.0,446.5 112.5,446.7 112.6,446.6 113.0,446.7 113.5,446.9 113.6,446.8 114.0,446.5 114.5,446.9 114.6,446.8 115.6,446.9 116.6,446.8 117.6,446.7 118.6,446.7 119.6,446.5 120.6,446.8 121.6,447.0 122.6,446.5 123.6,447.0 124.6,447.0 125.6,446.7 126.6,446.8 127.6,447.0 128.6,446.9 129.6,446.6 130.6,446.6 131.6,446.7 132.6,447.0 133.6,446.9 134.6,447.1 135.6,446.9 136.6,447.0 137.6,446.8 138.6,447.0 139.6,446.7 140.6,446.7 141.6,446.9 142.6,447.0 143.6,447.1 144.6,446.8 145.6,447.1 146.6,447.1 147.6,446.8 148.6,446.8 149.6,446.9 150.6,446.6 151.6,447.0 152.6,446.9 153.6,446.9 154.6,447.0 155.6,446.8 156.6,446.7 157.6,446.6 158.6,446.9 159.6,446.6 160.6,446.6 161.6,446.4 162.6,446.2 163.6,446.5 164.6,446.0 165.6,446.0 166.6,446.0 167.6,445.8 168.6,445.2 169.6,445.0 170.6,444.8 171.6,444.6 172.6,444.1 173.6,443.8 174.6,443.6 175.6,443.4 176.6,442.8 177.6,442.6 178.6,442.1 179.0,442.2 179.5,441.9 179.6,442.0 180.0,441.9 180.5,442.0 180.6,441.9 181.0,441.6 181.5,441.5 181.6,441.5 182.0,441.7 182.5,441.4 182.6,441.5 183.0,441.5 183.5,441.3 183.6,441.4 184.0,441.5 184.5,441.2 184.6,441.5 185.0,441.1 185.5,441.3 185.6,441.4 186.0,441.1 186.5,441.3 186.6,441.4 187.0,441.3 187.5,441.6 187.6,441.2 188.0,441.6 188.5,441.5 188.6,441.7 189.0,441.6 189.5,441.7 189.6,441.5 190.0,441.7 190.5,442.0 190.6,441.8 191.0,441.9 191.5,442.3 191.6,442.3 192.0,442.1 192.5,442.3 192.6,442.5 193.0,442.4 193.5,442.6 193.6,442.3 194.0,442.6 194.5,442.7 194.6,442.6 195.0,442.2 195.5,442.0 195.6,442.3 196.0,442.2 196.5,441.6 196.6,442.1 197.0,441.7 197.5,441.8 197.6,442.0 198.0,442.2 198.5,442.3 198.6,442.6 199.0,442.7 199.5,442.9 199.6,443.0 200.0,443.7 200.5,443.8 200.6,443.9 201.0,444.4 201.5,444.5 201.6,444.8 202.0,444.9 202.5,444.7 202.6,444.9 203.0,445.2 203.5,445.3 203.6,445.4 204.6,445.1 205.6,445.3 206.6,445.4 207.6,445.4 208.6,445.8 209.6,445.5 210.6,445.6 211.6,445.5 212.6,445.4 213.6,445.7 214.6,445.7 215.6,445.5 216.6,445.4 217.6,445.4 218.6,445.2 219.6,445.1 220.6,445.3 221.6,444.8 222.6,445.1 223.6,444.9 224.6,444.6 225.6,444.3 226.6,444.6 227.6,444.4 228.6,444.0 229.6,443.9 230.6,443.8 231.6,443.8 232.6,443.5 233.6,443.3 234.6,442.8 235.6,442.6 236.6,442.6 237.6,442.0 238.6,442.2 239.6,441.7 240.6,441.5 241.6,440.9 242.6,440.5 243.6,440.3 244.6,439.5 245.6,439.1 246.6,438.9 247.6,438.3 248.6,437.7 249.6,437.2 250.6,436.3 251.6,435.9 252.6,434.8 253.6,434.4 254.6,433.7 255.6,432.6 256.6,432.0 257.6,430.9 258.6,429.8 259.6,429.1 260.6,428.0 261.6,427.2 262.6,426.4 263.6,425.7 263.8,425.3 264.3,425.1 264.6,424.8 264.8,424.8 265.3,424.6 265.6,424.5 265.8,424.3 266.3,423.6 266.6,423.8 266.8,423.4 267.3,423.6 267.6,423.2 267.8,423.0 268.3,423.1 268.6,423.2 268.8,423.0 269.3,423.0 269.6,423.0 269.8,422.9 270.3,423.2 270.6,423.2 270.8,423.3 271.3,424.3 271.6,424.7 271.8,424.8 272.3,426.0 272.6,426.3 272.8,427.0 273.3,428.0 273.6,428.7 273.8,429.3 274.3,430.4 274.6,431.1 274.8,431.4 275.3,432.7 275.6,433.4 275.8,433.8 276.6,435.4 277.6,437.3 278.6,438.8 279.6,440.2 280.6,440.9 281.6,442.0 282.6,443.1 283.6,443.5 284.6,444.2 285.6,444.4 286.6,444.9 287.6,445.3 288.6,445.9 289.6,446.1 290.6,446.4 291.6,446.5 292.6,446.7 293.6,446.6 294.6,446.9 295.6,447.3 296.6,447.2 297.6,447.2 298.6,447.6 299.6,447.4 300.6,447.8 301.6,447.6 302.6,448.1 303.6,447.8 304.6,447.8 305.6,447.9 306.6,448.0 307.6,448.1 308.6,448.2 309.6,448.3 310.6,448.1 311.6,448.5 312.6,448.3 313.6,448.3 314.6,448.6 315.6,448.4 316.6,448.7 317.6,448.8 318.6,448.6 319.6,448.7 320.6,448.7 321.6,448.6 322.6,448.8 323.6,448.6 324.6,448.8 325.6,449.1 326.6,449.1 327.6,448.6 328.6,449.0 329.6,448.8 330.6,449.1 331.6,449.2 332.6,448.8 333.6,448.9 334.6,449.1 335.6,449.0 336.6,449.2 337.6,449.0 338.6,449.1 339.6,448.9 340.6,449.2 341.6,449.0 342.6,449.2 343.6,448.9 344.6,449.0 345.6,449.0 346.6,449.2 347.6,449.0 348.6,449.4 349.6,449.1 350.6,449.3 351.6,449.1 352.6,449.2 353.6,449.2 354.6,449.4 355.6,449.4 356.6,449.2 357.6,449.4 358.6,449.3 359.6,449.4 360.6,449.5 361.6,449.3 362.6,449.6 363.6,449.6 364.6,449.5 365.6,449.3 366.6,449.6 367.6,449.6 368.6,449.7 369.6,449.4 370.6,449.7 371.6,449.8 372.6,449.5 373.6,449.8 374.6,449.3 374.8,449.7" fill="none" stroke="#5a44ee" stroke-width="1.45" stroke-linejoin="round" />
<polyline points="46.6,451.1 47.6,451.1 48.6,451.1 49.6,450.7 50.6,451.0 51.6,450.7 52.6,451.2 53.6,451.0 54.6,451.1 55.6,451.0 56.6,450.9 57.6,451.2 58.6,451.2 59.6,450.8 60.6,450.9 61.6,450.9 62.6,451.2 63.6,450.9 64.6,451.0 65.6,451.1 66.6,451.1 67.6,451.0 68.6,451.1 69.6,450.9 70.6,450.9 71.6,451.0 72.6,451.1 73.6,451.0 74.6,451.0 75.6,450.9 76.6,451.1 77.6,451.1 78.6,451.4 79.6,451.0 80.6,451.4 81.6,451.2 82.6,451.3 83.6,451.3 84.6,451.2 85.6,451.3 86.6,451.3 87.6,451.2 88.6,451.4 89.6,451.4 90.6,451.4 91.6,451.2 92.6,451.3 93.6,451.0 94.6,451.2 95.6,451.1 96.5,451.2 96.6,451.0 97.0,451.4 97.5,451.4 97.6,451.1 98.0,451.3 98.5,451.0 98.6,451.2 99.0,450.8 99.5,451.1 99.6,450.8 100.0,450.4 100.5,450.5 100.6,450.4 101.0,450.3 101.5,450.2 101.6,450.2 102.0,450.0 102.5,449.9 102.6,449.9 103.0,450.0 103.5,450.0 103.6,450.0 104.0,450.4 104.5,450.2 104.6,450.2 105.0,450.4 105.5,450.4 105.6,450.3 106.0,450.4 106.5,450.1 106.6,450.3 107.0,450.4 107.5,450.4 107.6,450.2 108.0,450.0 108.5,450.1 108.6,450.1 109.0,450.1 109.5,450.3 109.6,450.5 110.0,450.4 110.5,450.8 110.6,450.5 111.0,450.9 111.5,450.9 111.6,450.8 112.0,451.3 112.5,451.4 112.6,451.1 113.0,451.3 113.5,451.3 113.6,451.2 114.0,451.6 114.5,451.5 114.6,451.5 115.6,451.5 116.6,451.3 117.6,451.2 118.6,451.5 119.6,451.3 120.6,451.4 121.6,451.4 122.6,451.6 123.6,451.4 124.6,451.3 125.6,451.3 126.6,451.4 127.6,451.5 128.6,451.5 129.6,451.3 130.6,451.5 131.6,451.3 132.6,451.5 133.6,451.7 134.6,451.5 135.6,451.3 136.6,451.3 137.6,451.5 138.6,451.7 139.6,451.4 140.6,451.5 141.6,451.7 142.6,451.5 143.6,451.6 144.6,451.5 145.6,451.5 146.6,451.5 147.6,451.6 148.6,451.6 149.6,451.4 150.6,451.5 151.6,451.5 152.6,451.6 153.6,451.5 154.6,451.5 155.6,451.3 156.6,451.4 157.6,451.6 158.6,451.3 159.6,451.4 160.6,451.6 161.6,451.7 162.6,451.7 163.6,451.5 164.6,451.6 165.6,451.4 166.6,451.5 167.6,451.4 168.6,451.3 169.6,451.5 170.6,451.4 171.6,451.2 172.6,451.3 173.6,451.6 174.6,451.2 175.6,451.4 176.6,451.3 177.6,451.2 178.6,451.4 179.6,451.1 180.6,451.1 181.6,451.4 182.6,451.2 183.6,451.1 184.6,451.1 185.6,451.0 186.6,450.7 187.6,450.7 188.6,450.7 189.6,450.6 190.6,450.5 191.5,450.7 191.6,450.7 192.0,450.4 192.5,450.1 192.6,450.3 193.0,450.1 193.5,449.9 193.6,449.8 194.0,449.7 194.5,449.7 194.6,449.2 195.0,448.9 195.5,448.4 195.6,448.4 196.0,448.1 196.5,447.8 196.6,447.7 197.0,447.2 197.5,447.3 197.6,447.0 198.0,446.9 198.5,446.7 198.6,446.8 199.0,446.8 199.1,446.6 199.5,446.7 199.6,446.8 200.0,446.7 200.1,446.8 200.5,446.9 200.6,446.9 201.0,446.5 201.1,446.8 201.5,446.7 201.6,446.7 202.0,446.2 202.1,446.4 202.5,446.0 202.6,446.2 203.0,446.0 203.1,446.1 203.5,445.9 203.6,445.7 204.1,445.8 204.6,445.6 205.1,445.6 205.6,445.8 206.1,446.0 206.6,446.2 207.1,446.5 207.6,446.4 208.1,446.8 208.6,446.9 209.1,447.6 209.6,447.4 210.1,447.9 210.6,448.1 211.6,448.5 212.6,448.5 213.6,448.8 214.6,448.8 215.6,449.1 216.6,449.0 217.6,449.1 218.6,449.1 219.6,449.4 220.6,449.3 221.6,449.0 222.6,448.8 223.6,449.0 224.6,448.8 225.6,448.5 226.6,447.8 227.6,447.4 228.6,447.1 229.6,446.3 230.2,445.8 230.6,445.3 230.7,445.4 231.2,445.0 231.6,443.9 231.7,444.1 232.2,443.3 232.6,442.4 232.7,441.8 233.2,440.6 233.6,438.9 233.7,438.9 234.2,436.5 234.6,434.8 234.7,434.1 235.2,431.8 235.6,430.1 235.7,429.7 236.2,429.1 236.6,429.2 236.7,429.5 237.2,431.4 237.6,432.9 237.7,433.2 238.2,435.1 238.6,436.7 238.7,437.0 239.2,438.2 239.6,439.1 239.7,439.4 240.2,440.1 240.6,440.8 240.7,440.9 241.2,441.3 241.6,441.3 241.7,441.2 242.2,441.7 242.6,441.6 243.6,441.4 244.6,441.4 245.6,440.9 246.6,440.1 247.6,439.7 248.6,438.9 249.6,438.4 250.6,437.6 251.6,436.6 252.0,436.1 252.5,436.2 252.6,435.8 253.0,435.4 253.5,435.3 253.6,435.0 254.0,435.1 254.5,434.6 254.6,434.8 255.0,434.4 255.5,434.0 255.6,434.3 256.0,433.9 256.5,433.8 256.6,433.6 257.0,433.8 257.5,433.5 257.6,433.8 258.0,433.6 258.5,433.5 258.6,433.7 259.0,433.6 259.5,434.1 259.6,434.3 260.0,434.6 260.5,435.1 260.6,435.0 261.0,435.3 261.5,435.7 261.6,435.8 262.0,436.1 262.5,437.1 262.6,436.9 263.0,437.6 263.5,438.0 263.6,438.5 264.0,439.0 264.6,439.4 265.6,440.6 266.6,441.8 267.6,443.0 268.6,443.9 269.6,444.6 270.6,445.8 271.6,446.5 272.6,446.9 273.6,447.3 274.6,447.7 275.6,448.2 276.6,448.9 277.6,449.0 278.6,449.5 279.6,449.8 280.6,450.0 281.6,450.1 282.6,450.5 283.6,450.7 284.6,450.9 285.6,451.1 286.6,451.1 287.6,451.0 288.6,451.2 289.6,451.2 290.6,451.4 291.6,451.5 292.6,451.8 293.6,451.7 294.6,451.7 295.6,451.9 296.6,452.2 297.6,452.2 298.6,452.2 299.6,452.5 300.6,452.0 301.6,452.4 302.6,452.2 303.6,452.3 304.6,452.5 305.6,452.3 306.6,452.7 307.6,452.5 308.6,452.5 309.6,452.4 310.6,452.6 311.6,452.6 312.6,452.6 313.6,452.6 314.6,452.9 315.6,452.8 316.6,452.7 317.6,453.1 318.6,453.1 319.6,452.8 320.6,453.0 321.6,453.3 322.6,453.1 323.6,453.0 324.6,453.3 325.6,453.1 326.6,453.0 327.6,453.0 328.6,453.3 329.6,453.2 330.6,453.2 331.6,453.3 332.6,453.3 333.6,453.5 334.6,453.4 335.6,453.1 336.6,453.4 337.6,453.2 338.6,453.6 339.6,453.1 340.6,453.5 341.6,453.3 342.6,453.5 343.6,453.5 344.6,453.6 345.6,453.7 346.6,453.7 347.6,453.3 348.6,453.6 349.6,453.8 350.6,453.8 351.6,453.5 352.6,453.4 353.6,453.8 354.6,453.8 355.6,453.4 356.6,453.4 357.6,453.9 358.6,453.5 359.6,453.5 360.6,453.6 361.6,453.9 362.6,453.5 363.6,453.5 364.6,453.9 365.6,453.8 366.6,453.5 367.6,453.6 368.6,453.5 369.6,453.9 370.6,454.0 371.6,453.6 372.6,453.6 373.6,453.7 374.6,453.6 374.8,453.6" fill="none" stroke="#6e1c1c" stroke-width="1.45" stroke-linejoin="round" />
<polyline points="46.6,456.7 47.6,457.0 48.6,456.8 49.6,456.7 50.6,456.8 51.6,457.0 52.6,457.0 53.6,457.0 54.6,456.9 55.6,456.9 56.6,456.7 57.6,457.0 58.6,456.8 59.6,456.7 60.6,457.0 61.6,457.0 62.6,456.9 63.6,457.0 64.6,456.9 65.6,456.8 66.6,456.8 67.6,456.8 68.6,456.9 69.6,456.8 70.6,457.1 71.6,456.8 72.6,457.1 73.6,457.2 74.6,456.8 75.6,457.3 76.6,457.0 77.6,457.1 78.6,457.2 79.6,456.9 80.6,457.2 81.6,457.0 82.6,457.2 83.6,457.3 84.6,457.0 85.6,457.1 86.6,457.1 87.6,457.0 88.6,457.1 89.6,457.3 90.6,457.1 91.6,457.4 92.6,457.4 93.6,457.1 94.6,457.2 95.6,457.3 96.5,457.1 96.6,457.3 97.0,457.1 97.5,457.0 97.6,457.2 98.0,457.0 98.5,456.9 98.6,457.1 99.0,456.8 99.5,456.9 99.6,456.9 100.0,456.7 100.5,456.5 100.6,456.3 101.0,456.1 101.5,456.1 101.6,455.8 102.0,455.8 102.5,456.0 102.6,456.1 103.0,456.2 103.5,456.2 103.6,456.3 104.0,456.4 104.5,456.5 104.6,456.4 105.0,456.6 105.5,456.2 105.6,456.4 106.0,456.1 106.5,456.1 106.6,456.1 107.0,456.1 107.5,456.3 107.6,455.9 108.0,456.0 108.5,456.0 108.6,456.1 109.0,456.1 109.5,456.4 109.6,456.4 110.0,456.6 110.5,456.6 110.6,456.8 111.0,456.8 111.5,457.0 111.6,456.9 112.0,457.1 112.5,457.1 112.6,457.1 113.0,457.5 113.5,457.1 113.6,457.3 114.0,457.2 114.5,457.5 114.6,457.5 115.6,457.4 116.6,457.4 117.6,457.3 118.6,457.6 119.6,457.4 120.6,457.6 121.6,457.4 122.6,457.5 123.6,457.3 124.6,457.5 125.6,457.3 126.6,457.6 127.6,457.7 128.6,457.3 129.6,457.5 130.6,457.5 131.6,457.7 132.6,457.7 133.6,457.4 134.6,457.5 135.6,457.5 136.6,457.4 137.6,457.5 138.6,457.8 139.6,457.4 140.6,457.9 141.6,457.7 142.6,457.6 143.6,457.7 144.6,457.6 145.6,457.6 146.6,457.5 147.6,457.8 148.6,457.9 149.6,457.8 150.6,457.7 151.6,457.7 152.6,457.9 153.6,457.6 154.6,457.8 155.6,457.5 156.6,458.0 157.6,457.5 158.6,457.9 159.6,457.5 160.6,457.8 161.6,458.0 162.6,457.6 163.6,457.8 164.6,458.0 165.6,457.8 166.6,457.7 167.6,457.6 168.6,457.7 169.6,457.6 170.6,457.7 171.6,457.8 172.6,457.7 173.6,457.5 174.6,457.8 175.6,458.0 176.6,457.9 177.6,457.8 178.6,457.5 179.6,457.5 180.6,457.7 181.6,458.0 182.6,457.8 183.6,457.6 184.6,457.7 185.6,457.6 186.6,457.6 187.6,457.6 188.6,457.4 189.6,457.7 190.6,457.5 191.5,457.5 191.6,457.4 192.0,457.6 192.5,457.3 192.6,457.6 193.0,457.6 193.5,457.4 193.6,457.5 194.0,457.3 194.5,457.1 194.6,456.8 195.0,456.9 195.5,456.6 195.6,456.3 196.0,455.8 196.5,455.9 196.6,455.9 197.0,455.6 197.5,455.4 197.6,455.2 198.0,455.4 198.5,455.5 198.6,455.6 199.0,455.6 199.5,455.9 199.6,456.3 200.0,456.6 200.5,456.4 200.6,456.8 201.0,456.6 201.5,456.8 201.6,457.1 202.0,457.1 202.5,456.9 202.6,456.8 203.0,457.0 203.5,457.1 203.6,457.1 204.6,456.8 205.6,456.9 206.6,456.8 207.6,456.7 208.6,456.5 209.6,456.7 210.6,456.2 211.6,456.4 212.6,456.2 213.6,456.0 214.6,455.6 215.6,455.2 216.6,455.1 217.6,454.7 218.6,454.0 219.6,453.6 220.6,453.2 221.6,452.4 222.6,451.3 223.6,450.5 224.6,449.1 225.6,447.4 226.6,445.2 227.6,442.7 228.6,438.7 229.6,433.8 230.3,429.5 230.6,426.9 230.8,425.1 231.3,420.5 231.6,417.3 231.8,414.9 232.3,408.4 232.6,404.1 232.8,400.8 233.3,391.8 233.6,386.2 233.8,382.0 234.3,371.5 234.6,365.0 234.8,360.8 235.3,351.9 235.6,347.3 235.8,345.2 236.3,343.0 236.6,344.0 236.8,345.1 237.3,351.7 237.6,357.2 237.8,361.0 238.3,371.3 238.6,377.9 238.8,382.2 239.3,391.9 239.6,397.3 239.8,400.7 240.3,408.7 240.6,412.7 240.8,415.3 241.3,420.9 241.6,423.8 241.8,425.7 242.3,429.6 242.6,431.4 243.6,437.3 244.6,441.2 245.6,444.6 246.6,446.9 247.6,448.7 248.6,450.0 249.6,451.6 250.6,452.6 251.6,453.3 252.6,453.7 253.6,454.2 254.6,455.0 255.6,455.1 256.6,455.8 257.6,456.1 258.6,456.3 259.6,456.4 260.6,456.6 261.6,457.1 262.6,457.1 263.6,457.1 264.6,457.1 265.6,457.5 266.6,457.8 267.6,457.8 268.6,457.9 269.6,458.0 270.6,458.1 271.6,458.2 272.6,458.0 273.6,457.9 274.6,458.2 275.6,458.0 276.6,458.5 277.6,458.3 278.6,458.3 279.6,458.6 280.6,458.6 281.6,458.5 282.6,458.6 283.6,458.7 284.6,458.7 285.6,458.8 286.6,458.8 287.6,458.6 288.6,458.8 289.6,458.9 290.6,458.8 291.6,459.1 292.6,458.8 293.6,458.8 294.6,458.8 295.6,458.8 296.6,459.0 297.6,459.1 298.6,458.9 299.6,459.0 300.6,459.3 301.6,459.3 302.6,459.1 303.6,459.1 304.6,459.2 305.6,459.3 306.6,459.3 307.6,459.3 308.6,459.5 309.6,459.2 310.6,459.5 311.6,459.1 312.6,459.3 313.6,459.3 314.6,459.2 315.6,459.4 316.6,459.3 317.6,459.3 318.6,459.2 319.6,459.3 320.6,459.3 321.6,459.2 322.6,459.5 323.6,459.4 324.6,459.5 325.6,459.5 326.6,459.8 327.6,459.3 328.6,459.3 329.6,459.8 330.6,459.7 331.6,459.8 332.6,459.7 333.6,459.7 334.6,459.6 335.6,459.7 336.6,459.6 337.6,459.7 338.6,459.6 339.6,459.9 340.6,459.5 341.6,459.9 342.6,459.9 343.6,459.5 344.6,459.5 345.6,459.5 346.6,459.6 347.6,460.0 348.6,459.8 349.6,460.0 350.6,459.9 351.6,459.7 352.6,459.9 353.6,459.7 354.6,460.1 355.6,459.9 356.6,459.9 357.6,459.7 358.6,460.1 359.6,460.1 360.6,459.8 361.6,460.1 362.6,460.2 363.6,459.9 364.6,459.9 365.6,460.2 366.6,460.1 367.6,460.3 368.6,460.2 369.6,459.9 370.6,460.1 371.6,460.2 372.6,459.9 373.6,460.1 374.6,460.4 374.8,460.0" fill="none" stroke="#1a1a1a" stroke-width="1.45" stroke-linejoin="round" />
</g>
<line x1="46.6" y1="464.5" x2="374.8" y2="464.5" stroke="#222" stroke-width="1" />
<line x1="46.5" y1="464.5" x2="46.5" y2="462.9" stroke="#222" stroke-width="0.8" />
<line x1="62.9" y1="464.5" x2="62.9" y2="461.5" stroke="#222" stroke-width="0.8" />
<text x="62.9" y="476.5" font-family="'Liberation Sans', Arial, sans-serif" font-size="10.5" fill="#000" stroke="#000" stroke-width="0.18" font-weight="normal" text-anchor="middle" style="">16</text>
<line x1="79.3" y1="464.5" x2="79.3" y2="462.9" stroke="#222" stroke-width="0.8" />
<line x1="95.8" y1="464.5" x2="95.8" y2="461.5" stroke="#222" stroke-width="0.8" />
<text x="95.8" y="476.5" font-family="'Liberation Sans', Arial, sans-serif" font-size="10.5" fill="#000" stroke="#000" stroke-width="0.18" font-weight="normal" text-anchor="middle" style="">18</text>
<line x1="112.2" y1="464.5" x2="112.2" y2="462.9" stroke="#222" stroke-width="0.8" />
<line x1="128.6" y1="464.5" x2="128.6" y2="461.5" stroke="#222" stroke-width="0.8" />
<text x="128.6" y="476.5" font-family="'Liberation Sans', Arial, sans-serif" font-size="10.5" fill="#000" stroke="#000" stroke-width="0.18" font-weight="normal" text-anchor="middle" style="">20</text>
<line x1="145.1" y1="464.5" x2="145.1" y2="462.9" stroke="#222" stroke-width="0.8" />
<line x1="161.5" y1="464.5" x2="161.5" y2="461.5" stroke="#222" stroke-width="0.8" />
<text x="161.5" y="476.5" font-family="'Liberation Sans', Arial, sans-serif" font-size="10.5" fill="#000" stroke="#000" stroke-width="0.18" font-weight="normal" text-anchor="middle" style="">22</text>
<line x1="177.9" y1="464.5" x2="177.9" y2="462.9" stroke="#222" stroke-width="0.8" />
<line x1="194.3" y1="464.5" x2="194.3" y2="461.5" stroke="#222" stroke-width="0.8" />
<text x="194.3" y="476.5" font-family="'Liberation Sans', Arial, sans-serif" font-size="10.5" fill="#000" stroke="#000" stroke-width="0.18" font-weight="normal" text-anchor="middle" style="">24</text>
<line x1="210.8" y1="464.5" x2="210.8" y2="462.9" stroke="#222" stroke-width="0.8" />
<line x1="227.2" y1="464.5" x2="227.2" y2="461.5" stroke="#222" stroke-width="0.8" />
<text x="227.2" y="476.5" font-family="'Liberation Sans', Arial, sans-serif" font-size="10.5" fill="#000" stroke="#000" stroke-width="0.18" font-weight="normal" text-anchor="middle" style="">26</text>
<line x1="243.6" y1="464.5" x2="243.6" y2="462.9" stroke="#222" stroke-width="0.8" />
<line x1="260.1" y1="464.5" x2="260.1" y2="461.5" stroke="#222" stroke-width="0.8" />
<text x="260.1" y="476.5" font-family="'Liberation Sans', Arial, sans-serif" font-size="10.5" fill="#000" stroke="#000" stroke-width="0.18" font-weight="normal" text-anchor="middle" style="">28</text>
<line x1="276.5" y1="464.5" x2="276.5" y2="462.9" stroke="#222" stroke-width="0.8" />
<line x1="292.9" y1="464.5" x2="292.9" y2="461.5" stroke="#222" stroke-width="0.8" />
<text x="292.9" y="476.5" font-family="'Liberation Sans', Arial, sans-serif" font-size="10.5" fill="#000" stroke="#000" stroke-width="0.18" font-weight="normal" text-anchor="middle" style="">30</text>
<line x1="309.3" y1="464.5" x2="309.3" y2="462.9" stroke="#222" stroke-width="0.8" />
<line x1="325.8" y1="464.5" x2="325.8" y2="461.5" stroke="#222" stroke-width="0.8" />
<text x="325.8" y="476.5" font-family="'Liberation Sans', Arial, sans-serif" font-size="10.5" fill="#000" stroke="#000" stroke-width="0.18" font-weight="normal" text-anchor="middle" style="">32</text>
<line x1="342.2" y1="464.5" x2="342.2" y2="462.9" stroke="#222" stroke-width="0.8" />
<line x1="358.6" y1="464.5" x2="358.6" y2="461.5" stroke="#222" stroke-width="0.8" />
<text x="358.6" y="476.5" font-family="'Liberation Sans', Arial, sans-serif" font-size="10.5" fill="#000" stroke="#000" stroke-width="0.18" font-weight="normal" text-anchor="middle" style="">34</text>
<line x1="375.1" y1="464.5" x2="375.1" y2="462.9" stroke="#222" stroke-width="0.8" />
<text x="210" y="488" font-family="'Liberation Sans', Arial, sans-serif" font-size="11" stroke="#000" stroke-width="0.15" text-anchor="middle">2<tspan font-style="italic">θ</tspan> / ° (CuKα)</text>
<text transform="translate(71.8 325.2) rotate(-90)" font-family="'Liberation Sans', Arial, sans-serif" font-size="8.2" fill="#f26b2a" font-weight="bold" textLength="11.3" lengthAdjust="spacingAndGlyphs" style="">004</text>
<text transform="translate(71.8 311.4) rotate(-90)" font-family="'Liberation Sans', Arial, sans-serif" font-size="6.4" fill="#f26b2a" font-weight="bold" textLength="7.0" lengthAdjust="spacingAndGlyphs" style="">KC</text>
<text transform="translate(73.4 304.2) rotate(-90)" font-family="'Liberation Sans', Arial, sans-serif" font-size="4.2" fill="#f26b2a" font-weight="bold" textLength="2.5" lengthAdjust="spacingAndGlyphs" style="">8</text>
<text transform="translate(82.8 325.2) rotate(-90)" font-family="'Liberation Sans', Arial, sans-serif" font-size="8.2" fill="#f26b2a" font-weight="bold" textLength="14.0" lengthAdjust="spacingAndGlyphs" style="">(001</text>
<text transform="translate(85.0 311.0) rotate(-90)" font-family="'Liberation Sans', Arial, sans-serif" font-size="6.2" fill="#f26b2a" font-weight="bold" textLength="20.6" lengthAdjust="spacingAndGlyphs" style="">stage-1</text>
<text transform="translate(82.8 289.8) rotate(-90)" font-family="'Liberation Sans', Arial, sans-serif" font-size="8.2" fill="#f26b2a" font-weight="bold" textLength="3.2" lengthAdjust="spacingAndGlyphs" style="">)</text>
<text transform="translate(138.6 318.9) rotate(-90)" font-family="'Liberation Sans', Arial, sans-serif" font-size="8.4" fill="#2838ee" font-weight="bold" textLength="11.8" lengthAdjust="spacingAndGlyphs" style="">002</text>
<text transform="translate(141.6 306.90000000000003) rotate(-90)" font-family="'Liberation Sans', Arial, sans-serif" font-size="6.6" fill="#2838ee" font-weight="bold" textLength="22.4" lengthAdjust="spacingAndGlyphs" style="">stage-2</text>
<text transform="translate(166.6 315.3) rotate(-90)" font-family="'Liberation Sans', Arial, sans-serif" font-size="8.4" fill="#1fb51f" font-weight="bold" textLength="13.6" lengthAdjust="spacingAndGlyphs" style="">003</text>
<text transform="translate(169.6 301.5) rotate(-90)" font-family="'Liberation Sans', Arial, sans-serif" font-size="6.6" fill="#1fb51f" font-weight="bold" textLength="22.5" lengthAdjust="spacingAndGlyphs" style="">stage-3</text>
<text transform="translate(188.3 310.7) rotate(-90)" font-family="'Liberation Sans', Arial, sans-serif" font-size="8.4" fill="#4a3cf0" font-weight="bold" textLength="12.7" lengthAdjust="spacingAndGlyphs" style="">004</text>
<text transform="translate(191.3 297.8) rotate(-90)" font-family="'Liberation Sans', Arial, sans-serif" font-size="6.6" fill="#4a3cf0" font-weight="bold" textLength="21.3" lengthAdjust="spacingAndGlyphs" style="">stage-4</text>
<text transform="translate(207.7 298.8) rotate(-90)" font-family="'Liberation Sans', Arial, sans-serif" font-size="8.4" fill="#7a1f1f" font-weight="bold" textLength="13.5" lengthAdjust="spacingAndGlyphs" style="">008</text>
<text transform="translate(210.7 285.1) rotate(-90)" font-family="'Liberation Sans', Arial, sans-serif" font-size="6.6" fill="#7a1f1f" font-weight="bold" textLength="21.5" lengthAdjust="spacingAndGlyphs" style="">stage-8</text>
<text transform="translate(239.7 291.6) rotate(-90)" font-family="'Liberation Sans', Arial, sans-serif" font-size="8.4" fill="#111" font-weight="bold" textLength="12.6" lengthAdjust="spacingAndGlyphs" style="">002</text>
<text transform="translate(243.2 278.8) rotate(-90)" font-family="'Liberation Sans', Arial, sans-serif" font-size="6.6" fill="#111" font-weight="bold" textLength="26.1" lengthAdjust="spacingAndGlyphs" style="">graphite</text>
<text transform="translate(257.5 294.0) rotate(-90)" font-family="'Liberation Sans', Arial, sans-serif" font-size="8.4" fill="#7a1f1f" font-weight="bold" textLength="13.5" lengthAdjust="spacingAndGlyphs" style="">009</text>
<text transform="translate(260.5 280.3) rotate(-90)" font-family="'Liberation Sans', Arial, sans-serif" font-size="6.6" fill="#7a1f1f" font-weight="bold" textLength="22.2" lengthAdjust="spacingAndGlyphs" style="">stage-8</text>
<text transform="translate(273.5 297.4) rotate(-90)" font-family="'Liberation Sans', Arial, sans-serif" font-size="8.4" fill="#4a3cf0" font-weight="bold" textLength="13.4" lengthAdjust="spacingAndGlyphs" style="">005</text>
<text transform="translate(276.5 283.8) rotate(-90)" font-family="'Liberation Sans', Arial, sans-serif" font-size="6.6" fill="#4a3cf0" font-weight="bold" textLength="21.1" lengthAdjust="spacingAndGlyphs" style="">stage-4</text>
<text transform="translate(285.3 298.5) rotate(-90)" font-family="'Liberation Sans', Arial, sans-serif" font-size="8.4" fill="#1fb51f" font-weight="bold" textLength="13.5" lengthAdjust="spacingAndGlyphs" style="">004</text>
<text transform="translate(288.3 284.8) rotate(-90)" font-family="'Liberation Sans', Arial, sans-serif" font-size="6.6" fill="#1fb51f" font-weight="bold" textLength="20.7" lengthAdjust="spacingAndGlyphs" style="">stage-3</text>
<text transform="translate(306.4 298.8) rotate(-90)" font-family="'Liberation Sans', Arial, sans-serif" font-size="8.4" fill="#2838ee" font-weight="bold" textLength="13.5" lengthAdjust="spacingAndGlyphs" style="">003</text>
<text transform="translate(309.4 285.1) rotate(-90)" font-family="'Liberation Sans', Arial, sans-serif" font-size="6.6" fill="#2838ee" font-weight="bold" textLength="20.6" lengthAdjust="spacingAndGlyphs" style="">stage-2</text>
<text transform="translate(347.8 314.6) rotate(-90)" font-family="'Liberation Sans', Arial, sans-serif" font-size="8.2" fill="#f26b2a" font-weight="bold" textLength="11.8" lengthAdjust="spacingAndGlyphs" style="">008</text>
<text transform="translate(347.8 300.3) rotate(-90)" font-family="'Liberation Sans', Arial, sans-serif" font-size="6.4" fill="#f26b2a" font-weight="bold" textLength="6.5" lengthAdjust="spacingAndGlyphs" style="">KC</text>
<text transform="translate(349.6 293.6) rotate(-90)" font-family="'Liberation Sans', Arial, sans-serif" font-size="4.2" fill="#f26b2a" font-weight="bold" textLength="3.0" lengthAdjust="spacingAndGlyphs" style="">8</text>
<text transform="translate(359.5 314.6) rotate(-90)" font-family="'Liberation Sans', Arial, sans-serif" font-size="8.2" fill="#f26b2a" font-weight="bold" textLength="14.5" lengthAdjust="spacingAndGlyphs" style="">(002</text>
<text transform="translate(361.6 299.9) rotate(-90)" font-family="'Liberation Sans', Arial, sans-serif" font-size="6.2" fill="#f26b2a" font-weight="bold" textLength="20.1" lengthAdjust="spacingAndGlyphs" style="">stage-1</text>
<text transform="translate(359.5 279.2) rotate(-90)" font-family="'Liberation Sans', Arial, sans-serif" font-size="8.2" fill="#f26b2a" font-weight="bold" textLength="3.4" lengthAdjust="spacingAndGlyphs" style="">)</text>
<text x="92.2" y="319.2" font-family="'Liberation Sans', Arial, sans-serif" font-size="5.2" font-weight="bold" fill="#222" textLength="25.7" lengthAdjust="spacingAndGlyphs">▽ Al-coated</text>
<text x="94.4" y="324.4" font-family="'Liberation Sans', Arial, sans-serif" font-size="5.2" font-weight="bold" fill="#222" textLength="24.4" lengthAdjust="spacingAndGlyphs">Be window</text>
<text x="102.0" y="334" font-family="DejaVu Sans, sans-serif" font-size="5.5" fill="#222" text-anchor="middle">▽</text>
<text x="108.5" y="334" font-family="DejaVu Sans, sans-serif" font-size="5.5" fill="#222" text-anchor="middle">▽</text>
<text x="197.4" y="332" font-family="DejaVu Sans, sans-serif" font-size="5.5" fill="#222" text-anchor="middle">▽</text>
<rect x="20.1" y="333.2" width="23.3" height="132.1" fill="#fff" stroke="#222" stroke-width="1"/>
<line x1="43.4" y1="398" x2="43.4" y2="465.3" stroke="#6a50e0" stroke-width="1" />
<line x1="20.1" y1="335.5" x2="22.3" y2="335.5" stroke="#222" stroke-width="0.7" />
<line x1="20.1" y1="341.8" x2="21.3" y2="341.8" stroke="#222" stroke-width="0.7" />
<line x1="20.1" y1="348.0" x2="22.3" y2="348.0" stroke="#222" stroke-width="0.7" />
<line x1="20.1" y1="354.3" x2="21.3" y2="354.3" stroke="#222" stroke-width="0.7" />
<line x1="20.1" y1="360.6" x2="22.3" y2="360.6" stroke="#222" stroke-width="0.7" />
<line x1="20.1" y1="366.8" x2="21.3" y2="366.8" stroke="#222" stroke-width="0.7" />
<line x1="20.1" y1="373.1" x2="22.3" y2="373.1" stroke="#222" stroke-width="0.7" />
<line x1="20.1" y1="379.4" x2="21.3" y2="379.4" stroke="#222" stroke-width="0.7" />
<line x1="20.1" y1="385.6" x2="22.3" y2="385.6" stroke="#222" stroke-width="0.7" />
<line x1="20.1" y1="391.9" x2="21.3" y2="391.9" stroke="#222" stroke-width="0.7" />
<line x1="20.1" y1="398.1" x2="22.3" y2="398.1" stroke="#222" stroke-width="0.7" />
<line x1="20.1" y1="404.4" x2="21.3" y2="404.4" stroke="#222" stroke-width="0.7" />
<line x1="20.1" y1="410.7" x2="22.3" y2="410.7" stroke="#222" stroke-width="0.7" />
<line x1="20.1" y1="416.9" x2="21.3" y2="416.9" stroke="#222" stroke-width="0.7" />
<line x1="20.1" y1="423.2" x2="22.3" y2="423.2" stroke="#222" stroke-width="0.7" />
<line x1="20.1" y1="429.5" x2="21.3" y2="429.5" stroke="#222" stroke-width="0.7" />
<line x1="20.1" y1="435.7" x2="22.3" y2="435.7" stroke="#222" stroke-width="0.7" />
<line x1="20.1" y1="442.0" x2="21.3" y2="442.0" stroke="#222" stroke-width="0.7" />
<line x1="20.1" y1="448.3" x2="22.3" y2="448.3" stroke="#222" stroke-width="0.7" />
<line x1="20.1" y1="454.5" x2="21.3" y2="454.5" stroke="#222" stroke-width="0.7" />
<line x1="20.1" y1="460.8" x2="22.3" y2="460.8" stroke="#222" stroke-width="0.7" />
<line x1="24.7" y1="333.2" x2="24.7" y2="335.3" stroke="#222" stroke-width="0.7" />
<line x1="24.7" y1="465.3" x2="24.7" y2="463.2" stroke="#222" stroke-width="0.7" />
<line x1="34.2" y1="333.2" x2="34.2" y2="335.3" stroke="#222" stroke-width="0.7" />
<line x1="34.2" y1="465.3" x2="34.2" y2="463.2" stroke="#222" stroke-width="0.7" />
<line x1="43.1" y1="333.2" x2="43.1" y2="335.3" stroke="#222" stroke-width="0.7" />
<line x1="43.1" y1="465.3" x2="43.1" y2="463.2" stroke="#222" stroke-width="0.7" />
<text transform="translate(12.9 331.2) rotate(90)" font-family="'Liberation Sans', Arial, sans-serif" font-size="6.4" fill="#222" stroke="#222" stroke-width="0.15" font-weight="normal" textLength="8.6" lengthAdjust="spacingAndGlyphs" style="">0.0</text>
<text transform="translate(12.9 343.7) rotate(90)" font-family="'Liberation Sans', Arial, sans-serif" font-size="6.4" fill="#222" stroke="#222" stroke-width="0.15" font-weight="normal" textLength="8.6" lengthAdjust="spacingAndGlyphs" style="">0.2</text>
<text transform="translate(12.9 356.3) rotate(90)" font-family="'Liberation Sans', Arial, sans-serif" font-size="6.4" fill="#222" stroke="#222" stroke-width="0.15" font-weight="normal" textLength="8.6" lengthAdjust="spacingAndGlyphs" style="">0.4</text>
<text transform="translate(12.9 368.8) rotate(90)" font-family="'Liberation Sans', Arial, sans-serif" font-size="6.4" fill="#222" stroke="#222" stroke-width="0.15" font-weight="normal" textLength="8.6" lengthAdjust="spacingAndGlyphs" style="">0.6</text>
<text transform="translate(12.9 381.3) rotate(90)" font-family="'Liberation Sans', Arial, sans-serif" font-size="6.4" fill="#222" stroke="#222" stroke-width="0.15" font-weight="normal" textLength="8.6" lengthAdjust="spacingAndGlyphs" style="">0.8</text>
<text transform="translate(12.9 393.8) rotate(90)" font-family="'Liberation Sans', Arial, sans-serif" font-size="6.4" fill="#222" stroke="#222" stroke-width="0.15" font-weight="normal" textLength="8.6" lengthAdjust="spacingAndGlyphs" style="">1.0</text>
<text transform="translate(12.9 406.4) rotate(90)" font-family="'Liberation Sans', Arial, sans-serif" font-size="6.4" fill="#222" stroke="#222" stroke-width="0.15" font-weight="normal" textLength="8.6" lengthAdjust="spacingAndGlyphs" style="">0.8</text>
<text transform="translate(12.9 418.9) rotate(90)" font-family="'Liberation Sans', Arial, sans-serif" font-size="6.4" fill="#222" stroke="#222" stroke-width="0.15" font-weight="normal" textLength="8.6" lengthAdjust="spacingAndGlyphs" style="">0.6</text>
<text transform="translate(12.9 431.4) rotate(90)" font-family="'Liberation Sans', Arial, sans-serif" font-size="6.4" fill="#222" stroke="#222" stroke-width="0.15" font-weight="normal" textLength="8.6" lengthAdjust="spacingAndGlyphs" style="">0.4</text>
<text transform="translate(12.9 444.0) rotate(90)" font-family="'Liberation Sans', Arial, sans-serif" font-size="6.4" fill="#222" stroke="#222" stroke-width="0.15" font-weight="normal" textLength="8.6" lengthAdjust="spacingAndGlyphs" style="">0.2</text>
<text transform="translate(12.9 456.5) rotate(90)" font-family="'Liberation Sans', Arial, sans-serif" font-size="6.4" fill="#222" stroke="#222" stroke-width="0.15" font-weight="normal" textLength="8.6" lengthAdjust="spacingAndGlyphs" style="">0.0</text>
<path d="M33.5,336.4 L28.3,336.4 L25.4,398.8 L27,398.9" fill="none" stroke="#222" stroke-width="1.1"/>
<path d="M36,339.8 C32.5,341 30.3,344 29.9,350" fill="none" stroke="#222" stroke-width="0.8"/>
<path d="M28.5,348.5 L29.9,352 L31.3,348.5 Z" fill="#222"/>
<path d="M27,398.9 L27.8,440 C28.2,449 30,452.5 34,453.8 L43,455.4" fill="none" stroke="#e8281e" stroke-width="1.1"/>
<path d="M31.4,437.5 C32.2,444 34.5,448.5 37.5,450" fill="none" stroke="#e8281e" stroke-width="0.8"/>
<path d="M35.6,448.2 L38.6,450.6 L35.4,451.8 Z" fill="#e8281e"/>
<text transform="translate(34.0 343.5) rotate(90)" font-family="'Liberation Sans', Arial, sans-serif" font-size="6.8" fill="#222" stroke="#222" stroke-width="0.15" font-weight="normal" textLength="41.0" lengthAdjust="spacingAndGlyphs" style="">K-intercalation</text>
<text transform="translate(34.4 393.8) rotate(90)" font-family="'Liberation Sans', Arial, sans-serif" font-size="6.8" fill="#e8281e" stroke="#e8281e" stroke-width="0.15" font-weight="normal" textLength="48.5" lengthAdjust="spacingAndGlyphs" style="">K-deintercalation</text>
<text x="24.7" y="476" font-family="'Liberation Sans', Arial, sans-serif" font-size="8.8" fill="#000" stroke="#000" stroke-width="0.18" font-weight="normal" text-anchor="middle" style="">0</text>
<text x="34.2" y="476" font-family="'Liberation Sans', Arial, sans-serif" font-size="8.8" fill="#000" stroke="#000" stroke-width="0.18" font-weight="normal" text-anchor="middle" style="">1</text>
<text x="43.1" y="476" font-family="'Liberation Sans', Arial, sans-serif" font-size="8.8" fill="#000" stroke="#000" stroke-width="0.18" font-weight="normal" text-anchor="middle" style="">2</text>
<text x="16.2" y="484.3" font-family="'Liberation Sans', Arial, sans-serif" font-size="7.8" fill="#222" textLength="31.5" lengthAdjust="spacingAndGlyphs"><tspan font-style="italic">E</tspan> / V vs. K</text>
<text transform="translate(4.2 381.5) rotate(90)" font-family="'Liberation Sans', Arial, sans-serif" font-size="9.4" fill="#111" stroke="#111" stroke-width="0.3"><tspan font-style="italic" font-weight="bold">x</tspan> in K<tspan font-size="6.5" dy="2.2">x</tspan><tspan dy="-2.2">C</tspan><tspan font-size="6.5" dy="2.2">8</tspan></text>
<polygon points="17.6,501.8 139.2,501.8 139.2,607.4 138.6,607.4 137.6,607.4 136.6,607.4 135.6,607.4 134.6,607.4 133.6,607.4 132.6,607.4 131.6,607.4 130.6,607.3 129.6,607.3 128.6,607.3 127.6,607.3 126.6,607.3 125.6,607.3 124.6,607.3 123.6,607.2 122.6,607.2 121.6,607.2 120.6,607.2 119.6,607.1 118.6,607.1 117.6,607.1 116.6,607.0 115.6,607.0 114.6,606.9 113.6,606.9 112.6,606.8 111.6,606.8 110.6,606.7 109.6,606.6 108.6,606.5 107.6,606.4 106.6,606.3 105.6,606.2 104.6,606.0 103.6,605.8 102.6,605.7 101.6,605.4 100.6,605.2 99.6,604.9 98.6,604.6 97.6,604.2 96.6,603.8 95.6,603.3 94.6,602.7 93.6,602.0 92.6,601.2 91.6,600.2 90.6,598.9 89.6,597.4 88.6,595.6 87.6,593.3 86.6,590.4 85.6,586.8 85.1,584.7 84.6,582.4 84.1,579.8 83.6,577.0 83.1,573.9 82.6,570.7 82.1,567.4 81.6,564.1 81.1,561.0 80.6,558.3 80.1,556.1 79.6,554.8 79.1,554.3 78.6,554.8 78.1,556.2 77.6,558.3 77.1,561.1 76.6,564.2 76.1,567.5 75.6,570.8 75.1,574.0 74.6,577.1 74.1,579.9 73.6,582.5 73.1,584.9 72.6,587.0 71.6,590.6 70.6,593.5 69.6,595.8 68.6,597.7 67.6,599.2 66.6,600.5 65.6,601.5 64.6,602.4 63.6,603.1 62.6,603.7 61.6,604.3 60.6,604.7 59.6,605.1 58.6,605.5 57.6,605.8 56.6,606.0 55.6,606.3 54.6,606.5 53.6,606.7 52.6,606.9 51.6,607.0 50.6,607.2 49.6,607.3 48.6,607.4 47.6,607.5 46.6,607.6 45.6,607.7 44.6,607.8 43.6,607.9 42.6,607.9 41.6,608.0 40.6,608.1 39.6,608.2 38.6,608.2 37.6,608.3 36.6,608.3 35.6,608.4 34.6,608.4 33.6,608.5 32.6,608.5 31.6,608.5 30.6,608.6 29.6,608.6 28.6,608.7 27.6,608.7 26.6,608.7 25.6,608.8 24.6,608.8 23.6,608.8 22.6,608.9 21.6,608.9 20.6,608.9 19.6,608.9 18.6,609.0 17.6,609.0" fill="#ecf0f2"/>
<polygon points="17.6,609.0 18.6,609.0 19.6,608.9 20.6,608.9 21.6,608.9 22.6,608.9 23.6,608.8 24.6,608.8 25.6,608.8 26.6,608.7 27.6,608.7 28.6,608.7 29.6,608.6 30.6,608.6 31.6,608.5 32.6,608.5 33.6,608.5 34.6,608.4 35.6,608.4 36.6,608.3 37.6,608.3 38.6,608.2 39.6,608.2 40.6,608.1 41.6,608.0 42.6,607.9 43.6,607.9 44.6,607.8 45.6,607.7 46.6,607.6 47.6,607.5 48.6,607.4 49.6,607.3 50.6,607.2 51.6,607.0 52.6,606.9 53.6,606.7 54.6,606.5 55.6,606.3 56.6,606.0 57.6,605.8 58.6,605.5 59.6,605.1 60.6,604.7 61.6,604.3 62.6,603.7 63.6,603.1 64.6,602.4 65.6,601.5 66.6,600.5 67.6,599.2 68.6,597.7 69.6,595.8 70.6,593.5 71.6,590.6 72.6,587.0 73.1,584.9 73.6,582.5 74.1,579.9 74.6,577.1 75.1,574.0 75.6,570.8 76.1,567.5 76.6,564.2 77.1,561.1 77.6,558.3 78.1,556.2 78.6,554.8 79.1,554.3 79.6,554.8 80.1,556.1 80.6,558.3 81.1,561.0 81.6,564.1 82.1,567.4 82.6,570.7 83.1,573.9 83.6,577.0 84.1,579.8 84.6,582.4 85.1,584.7 85.6,586.8 86.6,590.4 87.6,593.3 88.6,595.6 89.6,597.4 90.6,598.9 91.6,600.2 92.6,601.2 93.6,602.0 94.6,602.7 95.6,603.3 96.6,603.8 97.6,604.2 98.6,604.6 99.6,604.9 100.6,605.2 101.6,605.4 102.6,605.7 103.6,605.8 104.6,606.0 105.6,606.2 106.6,606.3 107.6,606.4 108.6,606.5 109.6,606.6 110.6,606.7 111.6,606.8 112.6,606.8 113.6,606.9 114.6,606.9 115.6,607.0 116.6,607.0 117.6,607.1 118.6,607.1 119.6,607.1 120.6,607.2 121.6,607.2 122.6,607.2 123.6,607.2 124.6,607.3 125.6,607.3 126.6,607.3 127.6,607.3 128.6,607.3 129.6,607.3 130.6,607.3 131.6,607.4 132.6,607.4 133.6,607.4 134.6,607.4 135.6,607.4 136.6,607.4 137.6,607.4 138.6,607.4 139.2,607.4 139.2,616.9 138.6,616.9 137.6,616.9 136.6,616.9 135.6,616.8 134.6,616.8 133.6,616.8 132.6,616.8 131.6,616.7 130.6,616.7 129.6,616.6 128.6,616.6 127.6,616.5 126.6,616.4 125.6,616.4 124.6,616.3 123.6,616.2 122.6,616.1 121.6,616.0 120.6,615.8 119.6,615.7 118.6,615.5 117.6,615.3 116.6,615.1 115.6,614.8 114.6,614.5 113.6,614.2 112.6,613.8 111.6,613.3 110.6,612.8 109.6,612.2 108.6,611.4 107.6,610.5 106.6,609.5 105.6,608.3 104.6,606.7 103.6,604.9 102.6,602.6 101.6,599.8 100.6,596.4 99.6,592.1 99.3,590.7 98.8,588.1 98.6,586.9 98.3,585.2 97.8,582.1 97.6,580.8 97.3,578.8 96.8,575.4 96.6,574.0 96.3,571.9 95.8,568.5 95.6,567.2 95.3,565.3 94.8,562.5 94.6,561.6 94.3,560.4 93.8,559.0 93.6,558.7 93.3,558.5 92.8,559.0 92.6,559.5 92.3,560.4 91.8,562.6 91.6,563.7 91.3,565.4 90.8,568.6 90.6,570.0 90.3,572.1 89.8,575.6 89.6,577.0 89.3,579.0 88.8,582.3 88.6,583.6 88.3,585.4 87.8,588.3 87.6,589.4 87.3,591.0 86.6,594.3 85.6,598.2 84.6,601.5 83.6,604.1 82.6,606.2 81.6,608.0 80.6,609.4 79.6,610.6 78.6,611.6 77.6,612.5 76.6,613.2 75.6,613.9 74.6,614.4 73.6,614.9 72.6,615.3 71.6,615.7 70.6,616.0 69.6,616.3 68.6,616.6 67.6,616.8 66.6,617.0 65.6,617.2 64.6,617.4 63.6,617.6 62.6,617.7 61.6,617.9 60.6,618.0 59.6,618.1 58.6,618.3 57.6,618.4 56.6,618.5 55.6,618.6 54.6,618.6 53.6,618.7 52.6,618.8 51.6,618.9 50.6,619.0 49.6,619.0 48.6,619.1 47.6,619.2 46.6,619.2 45.6,619.3 44.6,619.3 43.6,619.4 42.6,619.5 41.6,619.5 40.6,619.6 39.6,619.6 38.6,619.7 37.6,619.7 36.6,619.7 35.6,619.8 34.6,619.8 33.6,619.9 32.6,619.9 31.6,620.0 30.6,620.0 29.6,620.0 28.6,620.1 27.6,620.1 26.6,620.2 25.6,620.2 24.6,620.2 23.6,620.3 22.6,620.3 21.6,620.3 20.6,620.4 19.6,620.4 18.6,620.4 17.6,620.5" fill="#f3f5f6"/>
<path d="M17.6,548 C24,538 28,530 31,522 L36,522 C38,535 40,541 42,548 C46,560 52,572 60,582 C68,591 78,597 92,601 L92,606 L17.6,607 Z" fill="#f1f3f4"/>
<polyline points="17.6,610.8 18.4,610.6 19.2,610.5 20.0,610.3 20.8,610.2 21.6,610.0 22.4,609.7 23.2,609.4 24.1,609.1 24.9,608.7 25.7,608.3 26.5,607.8 27.3,607.2 28.1,606.5 28.9,605.7 29.7,604.9 30.5,604.0 31.3,603.2 32.1,602.5 32.9,602.1 33.7,602.0 34.5,602.3 35.3,602.9 36.2,603.6 37.0,604.5 37.8,605.4 38.6,606.2 39.4,606.9 40.2,607.5 41.0,608.1 41.8,608.6 42.6,609.0 43.4,609.3 44.2,609.6 45.0,609.9 45.8,610.1 46.6,610.3 47.4,610.4 48.3,610.6 49.1,610.7 49.9,610.8 50.7,610.9 51.5,611.0 52.3,611.1 53.1,611.1 53.9,611.2 54.7,611.3 55.5,611.3 56.3,611.4 57.1,611.4 57.9,611.4 58.7,611.5 59.5,611.5 60.4,611.5 61.2,611.6 62.0,611.6 62.8,611.6 63.6,611.6 64.4,611.6 65.2,611.7 66.0,611.7" fill="none" stroke="#cdd5db" stroke-width="0.35"/>
<polyline points="17.6,608.1 18.4,607.9 19.2,607.6 20.0,607.3 20.8,607.0 21.6,606.6 22.4,606.1 23.2,605.6 24.1,605.0 24.9,604.4 25.7,603.6 26.5,602.7 27.3,601.7 28.1,600.7 28.9,599.5 29.7,598.4 30.5,597.2 31.3,596.2 32.1,595.4 32.9,594.9 33.7,594.8 34.5,595.1 35.3,595.8 36.2,596.8 37.0,597.9 37.8,599.0 38.6,600.2 39.4,601.3 40.2,602.3 41.0,603.2 41.8,604.0 42.6,604.8 43.4,605.4 44.2,605.9 45.0,606.4 45.8,606.8 46.6,607.2 47.4,607.5 48.3,607.8 49.1,608.0 49.9,608.3 50.7,608.5 51.5,608.6 52.3,608.8 53.1,608.9 53.9,609.1 54.7,609.2 55.5,609.3 56.3,609.4 57.1,609.5 57.9,609.6 58.7,609.6 59.5,609.7 60.4,609.8 61.2,609.8 62.0,609.9 62.8,609.9 63.6,610.0 64.4,610.0 65.2,610.0 66.0,610.1" fill="none" stroke="#cdd5db" stroke-width="0.35"/>
<polyline points="17.6,605.0 18.4,604.6 19.2,604.1 20.0,603.7 20.8,603.1 21.6,602.5 22.4,601.8 23.2,601.0 24.1,600.1 24.9,599.2 25.7,598.1 26.5,596.9 27.3,595.6 28.1,594.3 28.9,592.9 29.7,591.5 30.5,590.2 31.3,589.1 32.1,588.2 32.9,587.7 33.7,587.6 34.5,587.9 35.3,588.7 36.2,589.7 37.0,590.9 37.8,592.3 38.6,593.7 39.4,595.1 40.2,596.4 41.0,597.6 41.8,598.7 42.6,599.7 43.4,600.7 44.2,601.5 45.0,602.2 45.8,602.9 46.6,603.4 47.4,603.9 48.3,604.4 49.1,604.8 49.9,605.2 50.7,605.5 51.5,605.8 52.3,606.1 53.1,606.3 53.9,606.5 54.7,606.7 55.5,606.9 56.3,607.1 57.1,607.2 57.9,607.4 58.7,607.5 59.5,607.6 60.4,607.7 61.2,607.8 62.0,607.9 62.8,608.0 63.6,608.1 64.4,608.2 65.2,608.2 66.0,608.3" fill="none" stroke="#cdd5db" stroke-width="0.35"/>
<polyline points="17.6,601.3 18.4,600.7 19.2,600.1 20.0,599.4 20.8,598.6 21.6,597.7 22.4,596.8 23.2,595.8 24.1,594.6 24.9,593.4 25.7,592.0 26.5,590.6 27.3,589.1 28.1,587.5 28.9,585.9 29.7,584.4 30.5,583.0 31.3,581.9 32.1,581.0 32.9,580.5 33.7,580.4 34.5,580.7 35.3,581.5 36.2,582.5 37.0,583.8 37.8,585.3 38.6,586.8 39.4,588.4 40.2,589.9 41.0,591.4 41.8,592.8 42.6,594.1 43.4,595.3 44.2,596.4 45.0,597.4 45.8,598.3 46.6,599.1 47.4,599.8 48.3,600.4 49.1,601.0 49.9,601.6 50.7,602.1 51.5,602.5 52.3,602.9 53.1,603.3 53.9,603.6 54.7,603.9 55.5,604.2 56.3,604.4 57.1,604.6 57.9,604.9 58.7,605.1 59.5,605.2 60.4,605.4 61.2,605.6 62.0,605.7 62.8,605.8 63.6,606.0 64.4,606.1 65.2,606.2 66.0,606.3" fill="none" stroke="#cdd5db" stroke-width="0.35"/>
<polyline points="17.6,597.0 18.4,596.3 19.2,595.4 20.0,594.5 20.8,593.5 21.6,592.4 22.4,591.2 23.2,590.0 24.1,588.6 24.9,587.1 25.7,585.5 26.5,583.9 27.3,582.2 28.1,580.4 28.9,578.8 29.7,577.2 30.5,575.8 31.3,574.6 32.1,573.8 32.9,573.3 33.7,573.2 34.5,573.5 35.3,574.2 36.2,575.3 37.0,576.6 37.8,578.1 38.6,579.7 39.4,581.4 40.2,583.1 41.0,584.8 41.8,586.4 42.6,588.0 43.4,589.4 44.2,590.7 45.0,591.9 45.8,593.1 46.6,594.1 47.4,595.0 48.3,595.9 49.1,596.7 49.9,597.4 50.7,598.1 51.5,598.7 52.3,599.2 53.1,599.7 53.9,600.2 54.7,600.6 55.5,601.0 56.3,601.4 57.1,601.7 57.9,602.0 58.7,602.3 59.5,602.5 60.4,602.8 61.2,603.0 62.0,603.2 62.8,603.4 63.6,603.6 64.4,603.7 65.2,603.9 66.0,604.0" fill="none" stroke="#cdd5db" stroke-width="0.35"/>
<polyline points="17.6,592.3 18.4,591.3 19.2,590.3 20.0,589.2 20.8,587.9 21.6,586.6 22.4,585.2 23.2,583.7 24.1,582.1 24.9,580.4 25.7,578.7 26.5,576.9 27.3,575.1 28.1,573.3 28.9,571.5 29.7,569.9 30.5,568.5 31.3,567.4 32.1,566.6 32.9,566.1 33.7,566.0 34.5,566.3 35.3,567.0 36.2,568.0 37.0,569.3 37.8,570.8 38.6,572.5 39.4,574.3 40.2,576.1 41.0,577.9 41.8,579.7 42.6,581.4 43.4,583.1 44.2,584.6 45.0,586.0 45.8,587.4 46.6,588.7 47.4,589.8 48.3,590.9 49.1,591.9 49.9,592.8 50.7,593.6 51.5,594.4 52.3,595.1 53.1,595.8 53.9,596.4 54.7,596.9 55.5,597.4 56.3,597.9 57.1,598.3 57.9,598.7 58.7,599.1 59.5,599.5 60.4,599.8 61.2,600.1 62.0,600.4 62.8,600.7 63.6,600.9 64.4,601.1 65.2,601.3 66.0,601.5" fill="none" stroke="#cdd5db" stroke-width="0.35"/>
<polyline points="17.6,587.1 18.4,585.9 19.2,584.7 20.0,583.4 20.8,581.9 21.6,580.4 22.4,578.8 23.2,577.1 24.1,575.4 24.9,573.5 25.7,571.6 26.5,569.7 27.3,567.8 28.1,566.0 28.9,564.2 29.7,562.6 30.5,561.3 31.3,560.1 32.1,559.3 32.9,558.9 33.7,558.8 34.5,559.1 35.3,559.8 36.2,560.8 37.0,562.0 37.8,563.5 38.6,565.2 39.4,567.0 40.2,568.9 41.0,570.8 41.8,572.7 42.6,574.6 43.4,576.4 44.2,578.1 45.0,579.8 45.8,581.3 46.6,582.8 47.4,584.1 48.3,585.4 49.1,586.6 49.9,587.7 50.7,588.7 51.5,589.6 52.3,590.5 53.1,591.3 53.9,592.1 54.7,592.8 55.5,593.4 56.3,594.1 57.1,594.6 57.9,595.1 58.7,595.6 59.5,596.1 60.4,596.5 61.2,596.9 62.0,597.3 62.8,597.6 63.6,597.9 64.4,598.2 65.2,598.5 66.0,598.8" fill="none" stroke="#cdd5db" stroke-width="0.35"/>
<polyline points="17.6,581.4 18.4,580.1 19.2,578.7 20.0,577.2 20.8,575.6 21.6,573.9 22.4,572.1 23.2,570.3 24.1,568.4 24.9,566.4 25.7,564.4 26.5,562.4 27.3,560.5 28.1,558.6 28.9,556.9 29.7,555.3 30.5,554.0 31.3,552.9 32.1,552.1 32.9,551.7 33.7,551.6 34.5,551.9 35.3,552.5 36.2,553.5 37.0,554.7 37.8,556.2 38.6,557.9 39.4,559.7 40.2,561.6 41.0,563.6 41.8,565.6 42.6,567.5 43.4,569.5 44.2,571.3 45.0,573.2 45.8,574.9 46.6,576.5 47.4,578.1 48.3,579.5 49.1,580.9 49.9,582.2 50.7,583.4 51.5,584.5 52.3,585.5 53.1,586.5 53.9,587.4 54.7,588.3 55.5,589.1 56.3,589.8 57.1,590.5 57.9,591.2 58.7,591.8 59.5,592.3 60.4,592.9 61.2,593.4 62.0,593.8 62.8,594.3 63.6,594.7 64.4,595.1 65.2,595.4 66.0,595.8" fill="none" stroke="#cdd5db" stroke-width="0.35"/>
<polyline points="17.6,575.5 18.4,574.0 19.2,572.4 20.0,570.7 20.8,568.9 21.6,567.1 22.4,565.2 23.2,563.2 24.1,561.2 24.9,559.1 25.7,557.1 26.5,555.1 27.3,553.1 28.1,551.2 28.9,549.5 29.7,548.0 30.5,546.7 31.3,545.6 32.1,544.9 32.9,544.5 33.7,544.4 34.5,544.7 35.3,545.3 36.2,546.2 37.0,547.4 37.8,548.9 38.6,550.5 39.4,552.3 40.2,554.2 41.0,556.2 41.8,558.3 42.6,560.3 43.4,562.4 44.2,564.4 45.0,566.3 45.8,568.2 46.6,570.0 47.4,571.7 48.3,573.3 49.1,574.9 49.9,576.3 50.7,577.7 51.5,579.0 52.3,580.2 53.1,581.3 53.9,582.4 54.7,583.4 55.5,584.3 56.3,585.2 57.1,586.1 57.9,586.8 58.7,587.6 59.5,588.2 60.4,588.9 61.2,589.5 62.0,590.1 62.8,590.6 63.6,591.1 64.4,591.6 65.2,592.0 66.0,592.4" fill="none" stroke="#cdd5db" stroke-width="0.35"/>
<polyline points="17.6,569.2 18.4,567.5 19.2,565.8 20.0,564.0 20.8,562.1 21.6,560.1 22.4,558.1 23.2,556.0 24.1,553.9 24.9,551.8 25.7,549.7 26.5,547.7 27.3,545.7 28.1,543.8 28.9,542.2 29.7,540.7 30.5,539.4 31.3,538.4 32.1,537.7 32.9,537.3 33.7,537.2 34.5,537.5 35.3,538.1 36.2,538.9 37.0,540.1 37.8,541.5 38.6,543.1 39.4,544.9 40.2,546.8 41.0,548.8 41.8,550.9 42.6,553.0 43.4,555.1 44.2,557.2 45.0,559.2 45.8,561.2 46.6,563.2 47.4,565.0 48.3,566.8 49.1,568.5 49.9,570.1 50.7,571.7 51.5,573.1 52.3,574.5 53.1,575.8 53.9,577.0 54.7,578.2 55.5,579.3 56.3,580.3 57.1,581.3 57.9,582.2 58.7,583.0 59.5,583.8 60.4,584.6 61.2,585.3 62.0,586.0 62.8,586.6 63.6,587.2 64.4,587.8 65.2,588.3 66.0,588.8" fill="none" stroke="#cdd5db" stroke-width="0.35"/>
<polyline points="17.6,562.7 18.4,560.9 19.2,559.0 20.0,557.0 20.8,555.0 21.6,552.9 22.4,550.8 23.2,548.7 24.1,546.5 24.9,544.4 25.7,542.3 26.5,540.2 27.3,538.3 28.1,536.4 28.9,534.8 29.7,533.3 30.5,532.1 31.3,531.1 32.1,530.5 32.9,530.1 33.7,530.0 34.5,530.3 35.3,530.8 36.2,531.7 37.0,532.8 37.8,534.1 38.6,535.7 39.4,537.5 40.2,539.4 41.0,541.4 41.8,543.5 42.6,545.6 43.4,547.8 44.2,549.9 45.0,552.0 45.8,554.1 46.6,556.2 47.4,558.2 48.3,560.1 49.1,561.9 49.9,563.7 50.7,565.4 51.5,567.0 52.3,568.5 53.1,569.9 53.9,571.3 54.7,572.6 55.5,573.8 56.3,575.0 57.1,576.1 57.9,577.2 58.7,578.2 59.5,579.1 60.4,580.0 61.2,580.8 62.0,581.6 62.8,582.3 63.6,583.1 64.4,583.7 65.2,584.4 66.0,585.0" fill="none" stroke="#cdd5db" stroke-width="0.35"/>
<polyline points="17.6,555.9 18.4,554.0 19.2,552.0 20.0,549.9 20.8,547.8 21.6,545.6 22.4,543.5 23.2,541.3 24.1,539.1 24.9,536.9 25.7,534.8 26.5,532.8 27.3,530.8 28.1,529.0 28.9,527.4 29.7,526.0 30.5,524.8" fill="none" stroke="#cdd5db" stroke-width="0.35"/>
<polyline points="36.2,524.4 37.0,525.5 37.8,526.8 38.6,528.3 39.4,530.1 40.2,531.9 41.0,533.9 41.8,536.0 42.6,538.2 43.4,540.3 44.2,542.5 45.0,544.7 45.8,546.9 46.6,549.0 47.4,551.1 48.3,553.1 49.1,555.1 49.9,557.0 50.7,558.8 51.5,560.5 52.3,562.2 53.1,563.8 53.9,565.3 54.7,566.8 55.5,568.1 56.3,569.5 57.1,570.7 57.9,571.9 58.7,573.0 59.5,574.1 60.4,575.1 61.2,576.0 62.0,576.9 62.8,577.8 63.6,578.6 64.4,579.4 65.2,580.1 66.0,580.8" fill="none" stroke="#cdd5db" stroke-width="0.35"/>
<polyline points="17.6,549.0 18.4,546.9 19.2,544.8 20.0,542.7 20.8,540.5 21.6,538.3 22.4,536.0 23.2,533.8 24.1,531.6 24.9,529.4 25.7,527.3 26.5,525.3" fill="none" stroke="#cdd5db" stroke-width="0.35"/>
<polyline points="40.2,524.5 41.0,526.4 41.8,528.5 42.6,530.7 43.4,532.9 44.2,535.1 45.0,537.3 45.8,539.6 46.6,541.8 47.4,543.9 48.3,546.0 49.1,548.1 49.9,550.1 50.7,552.0 51.5,553.9 52.3,555.7 53.1,557.4 53.9,559.1 54.7,560.7 55.5,562.2 56.3,563.6 57.1,565.0 57.9,566.3 58.7,567.5 59.5,568.7 60.4,569.9 61.2,570.9 62.0,572.0 62.8,572.9 63.6,573.9 64.4,574.7 65.2,575.6 66.0,576.4" fill="none" stroke="#cdd5db" stroke-width="0.35"/>
<polyline points="17.6,541.9 18.4,539.7 19.2,537.5 20.0,535.3 20.8,533.1 21.6,530.8 22.4,528.5 23.2,526.3 24.1,524.1" fill="none" stroke="#cdd5db" stroke-width="0.35"/>
<polyline points="43.4,525.3 44.2,527.6 45.0,529.9 45.8,532.1 46.6,534.4 47.4,536.6 48.3,538.8 49.1,541.0 49.9,543.1 50.7,545.1 51.5,547.1 52.3,549.0 53.1,550.8 53.9,552.6 54.7,554.3 55.5,556.0 56.3,557.5 57.1,559.0 57.9,560.5 58.7,561.8 59.5,563.1 60.4,564.4 61.2,565.6 62.0,566.7 62.8,567.8 63.6,568.9 64.4,569.9 65.2,570.8 66.0,571.7" fill="none" stroke="#cdd5db" stroke-width="0.35"/>
<rect x="25" y="502" width="7.5" height="44" fill="#dce3e7"/>
<path d="M37.6,502 L40.8,502 L41.5,536 C42,539 42.5,540 43,541 L38.3,543.3 C38,538 37.6,530 37.6,502 Z" fill="#c2cdd5"/>
<rect x="17.6" y="501.8" width="48" height="3.2" fill="#dde3e7"/>
<ellipse cx="37.5" cy="503.4" rx="1.8" ry="1.5" fill="#9aabb8"/>
<path d="M38.3,543.3 C41,540 42,539 42.8,538.7 C46,540 49,542 51.9,544.5 C56,549 58,553 59.6,557.5 C61.5,562 62.5,566 63.5,569.1 C65,572 66,573.5 67,574.3 C72,580 80,590 90,598 C84,598 76,596 72,593 C70,590 68.5,588 67,585.9 C62,580 57,576 53.2,571.7 C50,568 48,565 46.7,562.6 C43,555 40,548 38.3,543.3 Z" fill="#c3ced6"/>
<path d="M38.3,543.3 C40,548 43,555 46.7,562.6 C48,565 50,568 53.2,571.7 C57,576 62,580 67,585.9 C70,590 76,596 90,598" fill="none" stroke="#93a5b2" stroke-width="0.8"/>
<path d="M42.8,538.7 C46,540 49,542 51.9,544.5 C56,549 58,553 59.6,557.5 C61.5,562 62.5,566 63.5,569.1 C66,574 72,582 90,597" fill="none" stroke="#a3b3be" stroke-width="0.6"/>
<rect x="18.9" y="505" width="25.6" height="18.6" fill="#fff"/>
<rect x="68.5" y="501.8" width="15.4" height="34.2" fill="#fff"/>
<rect x="90.7" y="501.8" width="15.3" height="38.7" fill="#fff"/>
<rect x="106.5" y="506.5" width="30" height="94.5" fill="#fff"/>
<ellipse cx="87" cy="551" rx="6" ry="3.5" fill="#fbeaea"/>
<rect x="78.1" y="536.7" width="2.2" height="85.6" fill="#c29c8a"/>
<rect x="92.7" y="543" width="2.2" height="79.3" fill="#9fb0c0"/>
<polyline points="17.6,608.7 18.6,608.9 19.6,608.7 20.6,608.9 21.6,609.0 22.6,608.6 23.6,608.8 24.6,608.8 25.6,609.0 26.6,608.5 27.6,608.7 28.6,608.9 29.6,608.5 30.6,608.5 31.6,608.8 32.6,608.6 33.6,608.3 34.6,608.7 35.6,608.4 36.6,608.6 37.6,608.1 38.6,608.3 39.6,608.1 40.6,608.1 41.6,608.0 42.6,608.1 43.6,607.9 44.6,607.6 45.6,607.9 46.6,607.9 47.6,607.7 48.6,607.2 49.6,607.2 50.6,607.3 51.6,606.8 52.6,606.6 53.6,606.5 54.6,606.3 55.6,606.2 56.6,606.2 57.6,605.9 58.6,605.7 59.6,605.1 60.6,604.5 61.6,604.3 62.6,603.6 63.6,603.1 64.6,602.2 65.6,601.8 66.6,600.2 67.6,599.4 68.6,597.5 69.6,596.0 70.6,593.7 71.6,590.4 72.6,587.1 73.1,585.0 73.6,582.3 74.1,580.1 74.6,577.1 75.1,574.2 75.6,570.9 76.1,567.5 76.6,564.0 77.1,561.0 77.6,558.1 78.1,556.1 78.6,554.9 79.1,554.2 79.6,554.7 80.1,556.0 80.6,558.3 81.1,561.3 81.6,564.1 82.1,567.3 82.6,570.5 83.1,574.2 83.6,577.2 84.1,580.0 84.6,582.5 85.1,584.9 85.6,586.8 86.6,590.3 87.6,593.5 88.6,595.4 89.6,597.5 90.6,598.8 91.6,600.1 92.6,600.9 93.6,602.1 94.6,602.6 95.6,603.5 96.6,603.9 97.6,604.3 98.6,604.3 99.6,604.7 100.6,605.1 101.6,605.7 102.6,605.9 103.6,605.6 104.6,606.2 105.6,606.4 106.6,606.0 107.6,606.7 108.6,606.4 109.6,606.6 110.6,606.4 111.6,606.7 112.6,606.9 113.6,606.9 114.6,607.0 115.6,607.1 116.6,607.0 117.6,607.3 118.6,607.2 119.6,607.3 120.6,607.5 121.6,607.4 122.6,607.0 123.6,607.4 124.6,607.2 125.6,607.5 126.6,607.1 127.6,607.2 128.6,607.5 129.6,607.3 130.6,607.4 131.6,607.5 132.6,607.4 133.6,607.5 134.6,607.5 135.6,607.4 136.6,607.6 137.6,607.2 138.6,607.5 139.2,607.5" fill="none" stroke="#6e1c1c" stroke-width="1.6" stroke-linejoin="round" />
<polyline points="17.6,620.3 18.6,620.2 19.6,620.3 20.6,620.5 21.6,620.4 22.6,620.4 23.6,620.5 24.6,620.3 25.6,619.9 26.6,620.1 27.6,620.1 28.6,620.3 29.6,620.2 30.6,620.2 31.6,619.8 32.6,619.7 33.6,619.9 34.6,620.1 35.6,619.8 36.6,620.0 37.6,619.5 38.6,619.5 39.6,619.8 40.6,619.4 41.6,619.7 42.6,619.7 43.6,619.5 44.6,619.4 45.6,619.4 46.6,619.4 47.6,619.4 48.6,619.0 49.6,619.3 50.6,618.7 51.6,618.8 52.6,618.8 53.6,618.8 54.6,618.6 55.6,618.3 56.6,618.7 57.6,618.5 58.6,618.0 59.6,618.3 60.6,618.0 61.6,617.8 62.6,617.9 63.6,617.5 64.6,617.2 65.6,617.3 66.6,617.0 67.6,616.6 68.6,616.7 69.6,616.3 70.6,616.3 71.6,615.7 72.6,615.5 73.6,615.0 74.6,614.2 75.6,613.9 76.6,613.0 77.6,612.8 78.6,611.9 79.6,610.4 80.6,609.4 81.6,608.2 82.6,606.1 83.6,604.1 84.6,601.5 85.6,598.5 86.6,594.2 87.3,591.1 87.6,589.2 87.8,588.1 88.3,585.2 88.6,583.6 88.8,582.6 89.3,579.1 89.6,576.9 89.8,575.9 90.3,571.9 90.6,569.9 90.8,568.9 91.3,565.7 91.6,563.4 91.8,562.7 92.3,560.2 92.6,559.7 92.8,559.1 93.3,558.5 93.6,558.5 93.8,559.2 94.3,560.5 94.6,561.6 94.8,562.4 95.3,565.2 95.6,567.3 95.8,568.3 96.3,572.2 96.6,574.1 96.8,575.6 97.3,578.6 97.6,581.0 97.8,582.3 98.3,585.1 98.6,586.7 98.8,588.3 99.3,590.6 99.6,592.2 100.6,596.6 101.6,599.9 102.6,602.3 103.6,604.8 104.6,606.5 105.6,608.4 106.6,609.4 107.6,610.5 108.6,611.4 109.6,612.2 110.6,612.5 111.6,613.6 112.6,614.0 113.6,613.9 114.6,614.2 115.6,615.1 116.6,615.0 117.6,615.5 118.6,615.3 119.6,615.5 120.6,616.0 121.6,615.9 122.6,616.1 123.6,616.4 124.6,616.3 125.6,616.3 126.6,616.6 127.6,616.5 128.6,616.4 129.6,616.6 130.6,616.7 131.6,616.5 132.6,616.6 133.6,616.7 134.6,616.6 135.6,616.7 136.6,616.9 137.6,616.9 138.6,617.0 139.2,616.9" fill="none" stroke="#1a1a1a" stroke-width="1.6" stroke-linejoin="round" />
<line x1="17.6" y1="622.3" x2="139.2" y2="622.3" stroke="#222" stroke-width="1" />
<line x1="17.6" y1="622.3" x2="17.6" y2="619.3" stroke="#222" stroke-width="0.8" />
<text x="17.6" y="635" font-family="'Liberation Sans', Arial, sans-serif" font-size="10.5" fill="#000" stroke="#000" stroke-width="0.18" font-weight="normal" text-anchor="middle" style="">25</text>
<line x1="29.8" y1="622.3" x2="29.8" y2="620.6999999999999" stroke="#222" stroke-width="0.8" />
<line x1="41.9" y1="622.3" x2="41.9" y2="619.3" stroke="#222" stroke-width="0.8" />
<text x="41.9" y="635" font-family="'Liberation Sans', Arial, sans-serif" font-size="10.5" fill="#000" stroke="#000" stroke-width="0.18" font-weight="normal" text-anchor="middle" style="">25.5</text>
<line x1="54.1" y1="622.3" x2="54.1" y2="620.6999999999999" stroke="#222" stroke-width="0.8" />
<line x1="66.2" y1="622.3" x2="66.2" y2="619.3" stroke="#222" stroke-width="0.8" />
<text x="66.2" y="635" font-family="'Liberation Sans', Arial, sans-serif" font-size="10.5" fill="#000" stroke="#000" stroke-width="0.18" font-weight="normal" text-anchor="middle" style="">26</text>
<line x1="78.3" y1="622.3" x2="78.3" y2="620.6999999999999" stroke="#222" stroke-width="0.8" />
<line x1="90.5" y1="622.3" x2="90.5" y2="619.3" stroke="#222" stroke-width="0.8" />
<text x="90.5" y="635" font-family="'Liberation Sans', Arial, sans-serif" font-size="10.5" fill="#000" stroke="#000" stroke-width="0.18" font-weight="normal" text-anchor="middle" style="">26.5</text>
<line x1="102.7" y1="622.3" x2="102.7" y2="620.6999999999999" stroke="#222" stroke-width="0.8" />
<line x1="114.8" y1="622.3" x2="114.8" y2="619.3" stroke="#222" stroke-width="0.8" />
<text x="114.8" y="635" font-family="'Liberation Sans', Arial, sans-serif" font-size="10.5" fill="#000" stroke="#000" stroke-width="0.18" font-weight="normal" text-anchor="middle" style="">27</text>
<line x1="127.0" y1="622.3" x2="127.0" y2="620.6999999999999" stroke="#222" stroke-width="0.8" />
<line x1="139.1" y1="622.3" x2="139.1" y2="619.3" stroke="#222" stroke-width="0.8" />
<text x="139.1" y="635" font-family="'Liberation Sans', Arial, sans-serif" font-size="10.5" fill="#000" stroke="#000" stroke-width="0.18" font-weight="normal" text-anchor="middle" style="">27.5</text>
<text x="78" y="647" font-family="'Liberation Sans', Arial, sans-serif" font-size="11" stroke="#000" stroke-width="0.15" text-anchor="middle">2<tspan font-style="italic">θ</tspan> / ° (CuKα)</text>
<text x="24.3" y="519.4" font-family="'Liberation Sans', Arial, sans-serif" font-size="15.5" fill="#000" stroke="#000" stroke-width="0.25" textLength="15.6" lengthAdjust="spacingAndGlyphs">(c)</text>
<text transform="translate(79.3 533.7) rotate(-90)" font-family="'Liberation Sans', Arial, sans-serif" font-size="10.8" fill="#7a1f1f" font-weight="bold" textLength="18.2" lengthAdjust="spacingAndGlyphs" style="">008</text>
<text transform="translate(81.4 515.3) rotate(-90)" font-family="'Liberation Sans', Arial, sans-serif" font-size="7.0" fill="#7a1f1f" font-weight="bold" textLength="23.6" lengthAdjust="spacingAndGlyphs" style="">stage-8</text>
<text transform="translate(100.4 539.4) rotate(-90)" font-family="'Liberation Sans', Arial, sans-serif" font-size="10.8" fill="#111" font-weight="bold" textLength="18.2" lengthAdjust="spacingAndGlyphs" style="">002</text>
<text transform="translate(102.4 521.0) rotate(-90)" font-family="'Liberation Sans', Arial, sans-serif" font-size="7.0" fill="#111" font-weight="bold" textLength="28.7" lengthAdjust="spacingAndGlyphs" style="">graphite</text>
<text transform="translate(121.5 592.2) rotate(-90)" font-family="'Liberation Sans', Arial, sans-serif" font-size="11.2" fill="#111" font-weight="bold" textLength="76.9" lengthAdjust="spacingAndGlyphs" style="">Li-intercalation</text>
<line x1="125" y1="597.5" x2="125" y2="517" stroke="#111" stroke-width="1.6"/>
<path d="M121.8,518 L125,511.5 L128.2,518 Z" fill="#111"/>
<path d="M91.7,551.5 L85.5,549.5" stroke="#e8201e" stroke-width="2.4"/>
<path d="M86.5,545.6 L81.0,548.3 L85.0,552.8 Z" fill="#e8201e"/>
<polygon points="157.8,502.5 375.3,502.5 375.3,610.8 374.8,610.8 373.8,610.7 372.8,610.5 371.8,610.4 370.8,610.3 369.8,610.2 368.8,610.1 367.8,609.9 366.8,609.8 365.8,609.7 364.8,609.5 363.8,609.4 362.8,609.2 361.8,609.1 360.8,608.9 359.8,608.8 358.8,608.6 357.8,608.5 356.8,608.3 355.8,608.1 354.8,608.0 353.8,607.8 352.8,607.6 351.8,607.4 350.8,607.3 349.8,607.1 348.8,606.9 347.8,606.7 346.8,606.5 345.8,606.3 344.8,606.1 343.8,605.9 342.8,605.8 341.8,605.6 340.8,605.4 339.8,605.2 338.8,605.0 337.8,604.8 336.8,604.6 335.8,604.4 334.8,604.2 333.8,604.0 332.8,603.9 331.8,603.7 330.8,603.5 329.8,603.3 328.8,603.1 327.8,603.0 326.8,602.8 325.8,602.6 324.8,602.5 323.8,602.3 322.8,602.2 321.8,602.0 320.8,601.9 319.8,601.7 318.8,601.6 317.8,601.5 316.8,601.4 315.8,601.2 314.8,601.1 313.8,601.0 312.8,600.9 311.8,600.9 310.8,600.8 309.8,600.7 309.3,600.7 308.8,600.6 308.3,600.6 307.8,600.6 307.3,600.6 306.8,600.5 306.3,600.5 305.8,600.5 305.3,600.5 304.8,600.5 304.3,600.4 303.8,600.4 303.3,600.4 302.8,600.4 302.3,600.4 301.8,600.4 301.3,600.4 300.8,600.4 300.3,600.4 299.8,600.4 299.3,600.4 298.8,600.4 298.3,600.4 297.8,600.4 297.3,600.4 296.8,600.4 295.8,600.5 294.8,600.5 293.8,600.6 292.8,600.6 291.8,600.7 290.8,600.8 289.8,600.8 288.8,600.9 287.8,601.0 286.8,601.1 285.8,601.2 284.8,601.3 283.8,601.4 282.8,601.5 281.8,601.6 280.8,601.7 279.8,601.9 278.8,602.0 277.8,602.1 276.8,602.3 275.8,602.4 274.8,602.5 273.8,602.7 272.8,602.8 271.8,603.0 270.8,603.1 269.8,603.3 268.8,603.4 267.8,603.6 266.8,603.7 265.8,603.9 264.8,604.0 263.8,604.1 262.8,604.3 261.8,604.4 260.8,604.6 259.8,604.7 258.8,604.9 257.8,605.0 256.8,605.1 255.8,605.2 254.8,605.4 253.8,605.5 252.8,605.6 251.8,605.7 250.8,605.8 249.8,605.9 248.8,605.9 247.8,606.0 246.8,606.1 245.8,606.1 244.8,606.1 243.8,606.1 242.8,606.0 241.8,605.9 240.8,605.8 239.8,605.5 239.4,605.4 238.9,605.2 238.8,605.2 238.4,605.1 237.9,604.8 237.8,604.8 237.4,604.6 236.9,604.3 236.8,604.3 236.4,604.1 235.9,603.8 235.8,603.7 235.4,603.5 234.9,603.3 234.8,603.2 234.4,603.1 233.9,603.0 233.8,603.0 233.4,603.0 232.9,603.1 232.8,603.1 232.4,603.2 231.9,603.5 231.8,603.5 231.4,603.8 230.9,604.1 230.8,604.2 230.4,604.5 229.9,604.8 229.8,604.9 229.4,605.2 228.9,605.5 228.8,605.6 228.4,605.8 227.9,606.1 227.8,606.1 227.4,606.3 226.8,606.6 225.8,606.9 224.8,607.2 223.8,607.5 222.8,607.7 221.8,607.8 220.8,608.0 219.8,608.1 218.8,608.2 217.8,608.3 216.8,608.4 215.8,608.4 214.8,608.5 213.8,608.5 212.8,608.6 211.8,608.6 210.8,608.7 209.8,608.7 208.8,608.7 207.8,608.8 206.8,608.8 205.8,608.8 204.8,608.8 203.8,608.8 202.8,608.8 201.8,608.8 200.8,608.8 199.8,608.9 198.8,608.9 197.8,608.9 196.8,608.9 195.8,608.9 194.8,608.9 193.8,608.9 192.8,608.8 191.8,608.8 190.8,608.8 189.8,608.8 188.8,608.8 187.8,608.8 186.8,608.8 185.8,608.8 184.8,608.8 183.8,608.8 182.8,608.8 181.8,608.8 180.8,608.7 179.8,608.7 178.8,608.7 177.8,608.7 176.8,608.7 175.8,608.7 174.8,608.7 173.8,608.6 172.8,608.6 171.8,608.6 170.8,608.6 169.8,608.6 168.8,608.6 167.8,608.5 166.8,608.5 165.8,608.5 164.8,608.5 163.8,608.5 162.8,608.5 161.8,608.4 160.8,608.4 159.8,608.4 158.8,608.4 157.8,608.4" fill="#ecf0f2"/>
<polygon points="157.8,608.4 158.8,608.4 159.8,608.4 160.8,608.4 161.8,608.4 162.8,608.5 163.8,608.5 164.8,608.5 165.8,608.5 166.8,608.5 167.8,608.5 168.8,608.6 169.8,608.6 170.8,608.6 171.8,608.6 172.8,608.6 173.8,608.6 174.8,608.7 175.8,608.7 176.8,608.7 177.8,608.7 178.8,608.7 179.8,608.7 180.8,608.7 181.8,608.8 182.8,608.8 183.8,608.8 184.8,608.8 185.8,608.8 186.8,608.8 187.8,608.8 188.8,608.8 189.8,608.8 190.8,608.8 191.8,608.8 192.8,608.8 193.8,608.9 194.8,608.9 195.8,608.9 196.8,608.9 197.8,608.9 198.8,608.9 199.8,608.9 200.8,608.8 201.8,608.8 202.8,608.8 203.8,608.8 204.8,608.8 205.8,608.8 206.8,608.8 207.8,608.8 208.8,608.7 209.8,608.7 210.8,608.7 211.8,608.6 212.8,608.6 213.8,608.5 214.8,608.5 215.8,608.4 216.8,608.4 217.8,608.3 218.8,608.2 219.8,608.1 220.8,608.0 221.8,607.8 222.8,607.7 223.8,607.5 224.8,607.2 225.8,606.9 226.8,606.6 227.4,606.3 227.8,606.1 227.9,606.1 228.4,605.8 228.8,605.6 228.9,605.5 229.4,605.2 229.8,604.9 229.9,604.8 230.4,604.5 230.8,604.2 230.9,604.1 231.4,603.8 231.8,603.5 231.9,603.5 232.4,603.2 232.8,603.1 232.9,603.1 233.4,603.0 233.8,603.0 233.9,603.0 234.4,603.1 234.8,603.2 234.9,603.3 235.4,603.5 235.8,603.7 235.9,603.8 236.4,604.1 236.8,604.3 236.9,604.3 237.4,604.6 237.8,604.8 237.9,604.8 238.4,605.1 238.8,605.2 238.9,605.2 239.4,605.4 239.8,605.5 240.8,605.8 241.8,605.9 242.8,606.0 243.8,606.1 244.8,606.1 245.8,606.1 246.8,606.1 247.8,606.0 248.8,605.9 249.8,605.9 250.8,605.8 251.8,605.7 252.8,605.6 253.8,605.5 254.8,605.4 255.8,605.2 256.8,605.1 257.8,605.0 258.8,604.9 259.8,604.7 260.8,604.6 261.8,604.4 262.8,604.3 263.8,604.1 264.8,604.0 265.8,603.9 266.8,603.7 267.8,603.6 268.8,603.4 269.8,603.3 270.8,603.1 271.8,603.0 272.8,602.8 273.8,602.7 274.8,602.5 275.8,602.4 276.8,602.3 277.8,602.1 278.8,602.0 279.8,601.9 280.8,601.7 281.8,601.6 282.8,601.5 283.8,601.4 284.8,601.3 285.8,601.2 286.8,601.1 287.8,601.0 288.8,600.9 289.8,600.8 290.8,600.8 291.8,600.7 292.8,600.6 293.8,600.6 294.8,600.5 295.8,600.5 296.8,600.4 297.3,600.4 297.8,600.4 298.3,600.4 298.8,600.4 299.3,600.4 299.8,600.4 300.3,600.4 300.8,600.4 301.3,600.4 301.8,600.4 302.3,600.4 302.8,600.4 303.3,600.4 303.8,600.4 304.3,600.4 304.8,600.5 305.3,600.5 305.8,600.5 306.3,600.5 306.8,600.5 307.3,600.6 307.8,600.6 308.3,600.6 308.8,600.6 309.3,600.7 309.8,600.7 310.8,600.8 311.8,600.9 312.8,600.9 313.8,601.0 314.8,601.1 315.8,601.2 316.8,601.4 317.8,601.5 318.8,601.6 319.8,601.7 320.8,601.9 321.8,602.0 322.8,602.2 323.8,602.3 324.8,602.5 325.8,602.6 326.8,602.8 327.8,603.0 328.8,603.1 329.8,603.3 330.8,603.5 331.8,603.7 332.8,603.9 333.8,604.0 334.8,604.2 335.8,604.4 336.8,604.6 337.8,604.8 338.8,605.0 339.8,605.2 340.8,605.4 341.8,605.6 342.8,605.8 343.8,605.9 344.8,606.1 345.8,606.3 346.8,606.5 347.8,606.7 348.8,606.9 349.8,607.1 350.8,607.3 351.8,607.4 352.8,607.6 353.8,607.8 354.8,608.0 355.8,608.1 356.8,608.3 357.8,608.5 358.8,608.6 359.8,608.8 360.8,608.9 361.8,609.1 362.8,609.2 363.8,609.4 364.8,609.5 365.8,609.7 366.8,609.8 367.8,609.9 368.8,610.1 369.8,610.2 370.8,610.3 371.8,610.4 372.8,610.5 373.8,610.7 374.8,610.8 375.3,610.8 375.3,618.2 374.8,618.1 373.8,618.1 372.8,618.1 371.8,618.1 370.8,618.1 369.8,618.1 368.8,618.1 367.8,618.1 366.8,618.1 365.8,618.1 364.8,618.1 363.8,618.1 362.8,618.0 361.8,618.0 360.8,618.0 359.8,618.0 358.8,618.0 357.8,618.0 356.8,618.0 355.8,618.0 354.8,618.0 353.8,618.0 352.8,617.9 351.8,617.9 350.8,617.9 349.8,617.9 348.8,617.9 347.8,617.9 346.8,617.9 345.8,617.9 344.8,617.9 343.8,617.8 342.8,617.8 341.8,617.8 340.8,617.8 339.8,617.8 338.8,617.8 337.8,617.8 336.8,617.8 335.8,617.7 334.8,617.7 333.8,617.7 332.8,617.7 331.8,617.7 330.8,617.7 329.8,617.7 328.8,617.6 327.8,617.6 326.8,617.6 325.8,617.6 324.8,617.6 323.8,617.6 322.8,617.5 321.8,617.5 320.8,617.5 319.8,617.5 318.8,617.5 317.8,617.4 316.8,617.4 315.8,617.4 314.8,617.4 313.8,617.4 312.8,617.3 311.8,617.3 310.8,617.3 309.8,617.3 308.8,617.2 307.8,617.2 306.8,617.2 305.8,617.1 304.8,617.1 303.8,617.1 302.8,617.0 301.8,617.0 300.8,617.0 299.8,616.9 298.8,616.9 297.8,616.9 296.8,616.8 295.8,616.8 294.8,616.7 293.8,616.7 292.8,616.6 291.8,616.6 290.8,616.5 289.8,616.5 288.8,616.4 287.8,616.3 286.8,616.3 285.8,616.2 284.8,616.1 283.8,616.1 282.8,616.0 281.8,615.9 280.8,615.8 279.8,615.7 278.8,615.6 277.8,615.5 276.8,615.4 275.8,615.3 274.8,615.1 273.8,615.0 272.8,614.8 271.8,614.7 270.8,614.5 269.8,614.3 268.8,614.1 267.8,613.9 266.8,613.7 265.8,613.4 264.8,613.2 263.8,612.9 262.8,612.5 261.8,612.2 260.8,611.8 259.8,611.4 258.8,610.9 257.8,610.4 256.8,609.8 255.8,609.2 254.8,608.4 253.8,607.6 252.8,606.7 251.8,605.7 250.8,604.6 249.8,603.3 248.8,601.8 247.8,600.2 246.8,598.3 245.8,596.1 244.8,593.6 243.8,590.8 242.8,587.7 241.8,584.1 240.8,580.2 239.8,576.0 239.6,575.1 239.1,572.9 238.8,571.6 238.6,570.7 238.1,568.5 237.8,567.2 237.6,566.3 237.1,564.3 236.8,563.1 236.6,562.3 236.1,560.6 235.8,559.6 235.6,559.1 235.1,557.8 234.8,557.2 234.6,556.9 234.1,556.3 233.8,556.2 233.6,556.1 233.1,556.3 232.8,556.6 232.6,556.9 232.1,557.8 231.8,558.5 231.6,559.0 231.1,560.5 230.8,561.6 230.6,562.3 230.1,564.2 229.8,565.5 229.6,566.3 229.1,568.4 228.8,569.8 228.6,570.7 228.1,572.9 227.8,574.2 227.6,575.1 226.8,578.5 225.8,582.5 224.8,586.2 223.8,589.5 222.8,592.5 221.8,595.0 220.8,597.3 219.8,599.3 218.8,601.1 217.8,602.6 216.8,603.9 215.8,605.1 214.8,606.2 213.8,607.1 212.8,607.9 211.8,608.7 210.8,609.3 209.8,609.9 208.8,610.5 207.8,610.9 206.8,611.4 205.8,611.8 204.8,612.1 203.8,612.5 202.8,612.8 201.8,613.0 200.8,613.3 199.8,613.5 198.8,613.7 197.8,613.9 196.8,614.1 195.8,614.3 194.8,614.4 193.8,614.6 192.8,614.7 191.8,614.8 190.8,614.9 189.8,615.1 188.8,615.2 187.8,615.2 186.8,615.3 185.8,615.4 184.8,615.5 183.8,615.6 182.8,615.6 181.8,615.7 180.8,615.8 179.8,615.8 178.8,615.9 177.8,615.9 176.8,616.0 175.8,616.0 174.8,616.1 173.8,616.1 172.8,616.1 171.8,616.2 170.8,616.2 169.8,616.3 168.8,616.3 167.8,616.3 166.8,616.3 165.8,616.4 164.8,616.4 163.8,616.4 162.8,616.4 161.8,616.5 160.8,616.5 159.8,616.5 158.8,616.5 157.8,616.5" fill="#f3f5f6"/>
<path d="M303,600 C320,596 335,592 347,589.7 C358,587 366,584 375.3,580.7 L375.3,611 C350,606 325,601 303,600 Z" fill="#f2f4f5"/>
<path d="M303,600 C325,600.0 350,586.0 375.3,583.0" fill="none" stroke="#c8d0d6" stroke-width="0.35"/>
<path d="M303,600 C325,599.7 350,589.5 375.3,586.5" fill="none" stroke="#c8d0d6" stroke-width="0.35"/>
<path d="M303,600 C325,599.4 350,593.0 375.3,590.0" fill="none" stroke="#c8d0d6" stroke-width="0.35"/>
<path d="M303,600 C325,599.1 350,596.5 375.3,593.5" fill="none" stroke="#c8d0d6" stroke-width="0.35"/>
<path d="M303,600 C325,598.8 350,600.0 375.3,597.0" fill="none" stroke="#c8d0d6" stroke-width="0.35"/>
<path d="M303,600 C325,598.5 350,603.5 375.3,600.5" fill="none" stroke="#c8d0d6" stroke-width="0.35"/>
<path d="M303,600 C325,598.2 350,607.0 375.3,604.0" fill="none" stroke="#c8d0d6" stroke-width="0.35"/>
<path d="M303,600 C320,596 335,592 347,589.7 C358,587 366,584 375.3,580.7" fill="none" stroke="#a9b7c1" stroke-width="0.9"/>
<polyline points="216.0,603.9 217.0,603.8 218.0,603.7 219.0,603.6 220.0,603.5 221.0,603.4 222.0,603.2 223.0,603.0 224.0,602.7 225.0,602.4 226.0,602.0 227.0,601.6 227.6,601.2 228.0,601.0 228.1,600.9 228.6,600.6 229.0,600.3 229.1,600.2 229.6,599.8 230.0,599.5 230.1,599.4 230.6,599.0 231.0,598.7 231.1,598.6 231.6,598.2 232.0,597.9 232.1,597.9 232.6,597.6 233.0,597.4 233.1,597.4 233.6,597.4 234.0,597.4 234.1,597.4 234.6,597.6 235.0,597.8 235.1,597.9 235.6,598.2 236.0,598.5 236.1,598.6 236.6,599.0 237.0,599.3 237.1,599.4 237.6,599.8 238.0,600.1 238.1,600.2 238.6,600.6 239.0,600.9 239.1,600.9 239.6,601.2 240.0,601.5 241.0,602.0 242.0,602.4 243.0,602.7 244.0,602.9 245.0,603.2 246.0,603.3 247.0,603.5 248.0,603.6 249.0,603.7 250.0,603.8 251.0,603.9" fill="none" stroke="#c3ccd3" stroke-width="0.4"/>
<polyline points="216.0,603.0 217.0,602.8 218.0,602.7 219.0,602.4 220.0,602.2 221.0,601.9 222.0,601.5 223.0,601.0 224.0,600.5 225.0,599.8 226.0,599.0 227.0,598.0 227.6,597.4 228.0,596.9 228.1,596.7 228.6,596.1 229.0,595.5 229.1,595.4 229.6,594.6 230.0,594.0 230.1,593.8 230.6,593.1 231.0,592.5 231.1,592.3 231.6,591.6 232.0,591.2 232.1,591.1 232.6,590.6 233.0,590.4 233.1,590.3 233.6,590.2 234.0,590.3 234.1,590.3 234.6,590.6 235.0,591.0 235.1,591.1 235.6,591.6 236.0,592.2 236.1,592.3 236.6,593.1 237.0,593.7 237.1,593.8 237.6,594.6 238.0,595.2 238.1,595.4 238.6,596.1 239.0,596.6 239.1,596.7 239.6,597.4 240.0,597.8 241.0,598.8 242.0,599.7 243.0,600.4 244.0,600.9 245.0,601.4 246.0,601.8 247.0,602.1 248.0,602.4 249.0,602.6 250.0,602.8 251.0,603.0" fill="none" stroke="#c3ccd3" stroke-width="0.4"/>
<polyline points="216.0,601.9 217.0,601.7 218.0,601.3 219.0,601.0 220.0,600.5 221.0,600.0 222.0,599.4 223.0,598.6 224.0,597.8 225.0,596.7 226.0,595.4 227.0,593.9 227.6,592.9 228.0,592.2 228.1,592.0 228.6,591.0 229.0,590.2 229.1,590.0 229.6,589.0 230.0,588.1 230.1,587.9 230.6,586.8 231.0,586.0 231.1,585.8 231.6,584.9 232.0,584.3 232.1,584.2 232.6,583.6 233.0,583.3 233.1,583.2 233.6,583.1 234.0,583.2 234.1,583.2 234.6,583.6 235.0,584.0 235.1,584.2 235.6,584.9 236.0,585.6 236.1,585.8 236.6,586.8 237.0,587.7 237.1,587.9 237.6,589.0 238.0,589.8 238.1,590.0 238.6,591.0 239.0,591.8 239.1,592.0 239.6,592.9 240.0,593.6 241.0,595.2 242.0,596.5 243.0,597.6 244.0,598.5 245.0,599.2 246.0,599.9 247.0,600.4 248.0,600.9 249.0,601.3 250.0,601.6 251.0,601.9" fill="none" stroke="#c3ccd3" stroke-width="0.4"/>
<polyline points="216.0,600.6 217.0,600.2 218.0,599.7 219.0,599.2 220.0,598.5 221.0,597.8 222.0,596.9 223.0,595.8 224.0,594.6 225.0,593.1 226.0,591.4 227.0,589.4 227.6,588.0 228.0,587.1 228.1,586.8 228.6,585.6 229.0,584.5 229.1,584.3 229.6,583.0 230.0,581.9 230.1,581.6 230.6,580.4 231.0,579.4 231.1,579.2 231.6,578.1 232.0,577.3 232.1,577.2 232.6,576.5 233.0,576.1 233.1,576.1 233.6,575.9 234.0,576.0 234.1,576.1 234.6,576.5 235.0,577.0 235.1,577.2 235.6,578.1 236.0,578.9 236.1,579.2 236.6,580.4 237.0,581.4 237.1,581.6 237.6,583.0 238.0,584.0 238.1,584.3 238.6,585.6 239.0,586.6 239.1,586.8 239.6,588.0 240.0,588.9 241.0,591.0 242.0,592.8 243.0,594.3 244.0,595.6 245.0,596.7 246.0,597.6 247.0,598.4 248.0,599.0 249.0,599.6 250.0,600.1 251.0,600.5" fill="none" stroke="#c3ccd3" stroke-width="0.4"/>
<polyline points="216.0,599.0 217.0,598.4 218.0,597.8 219.0,597.0 220.0,596.2 221.0,595.2 222.0,594.0 223.0,592.6 224.0,591.0 225.0,589.1 226.0,586.9 227.0,584.4 227.6,582.7 228.0,581.6 228.1,581.3 228.6,579.8 229.0,578.5 229.1,578.2 229.6,576.7 230.0,575.5 230.1,575.2 230.6,573.7 231.0,572.6 231.1,572.4 231.6,571.2 232.0,570.3 232.1,570.2 232.6,569.4 233.0,569.0 233.1,568.9 233.6,568.8 234.0,568.9 234.1,568.9 234.6,569.4 235.0,570.0 235.1,570.2 235.6,571.2 236.0,572.1 236.1,572.4 236.6,573.7 237.0,574.9 237.1,575.2 237.6,576.7 238.0,577.9 238.1,578.2 238.6,579.8 239.0,581.0 239.1,581.3 239.6,582.7 240.0,583.8 241.0,586.4 242.0,588.7 243.0,590.6 244.0,592.3 245.0,593.7 246.0,594.9 247.0,596.0 248.0,596.9 249.0,597.7 250.0,598.3 251.0,598.9" fill="none" stroke="#c3ccd3" stroke-width="0.4"/>
<polyline points="216.0,597.2 217.0,596.4 218.0,595.6 219.0,594.6 220.0,593.5 221.0,592.2 222.0,590.7 223.0,588.9 224.0,586.9 225.0,584.6 226.0,582.0 227.0,579.0 227.6,577.1 228.0,575.7 228.1,575.4 228.6,573.7 229.0,572.3 229.1,571.9 229.6,570.2 230.0,568.9 230.1,568.5 230.6,566.9 231.0,565.7 231.1,565.5 231.6,564.2 232.0,563.3 232.1,563.1 232.6,562.3 233.0,561.9 233.1,561.8 233.6,561.6 234.0,561.7 234.1,561.8 234.6,562.3 235.0,562.9 235.1,563.1 235.6,564.2 236.0,565.2 236.1,565.5 236.6,566.9 237.0,568.2 237.1,568.5 237.6,570.2 238.0,571.6 238.1,571.9 238.6,573.7 239.0,575.1 239.1,575.4 239.6,577.1 240.0,578.4 241.0,581.4 242.0,584.1 243.0,586.5 244.0,588.6 245.0,590.4 246.0,591.9 247.0,593.2 248.0,594.4 249.0,595.4 250.0,596.3 251.0,597.0" fill="none" stroke="#c3ccd3" stroke-width="0.4"/>
<rect x="161.8" y="505.8" width="29.8" height="18.6" fill="#fff"/>
<rect x="225.8" y="502.5" width="16.7" height="40.7" fill="#fff"/>
<rect x="294.3" y="517.8" width="17.4" height="47.9" fill="#fff"/>
<rect x="346" y="508" width="24" height="90.3" fill="#fff"/>
<rect x="232.4" y="543.2" width="2.2" height="78.8" fill="#9fb0c0"/>
<rect x="302.5" y="565.7" width="2.0" height="56.3" fill="#c29c8a"/>
<polyline points="157.8,608.3 158.8,608.5 159.8,608.3 160.8,608.4 161.8,608.2 162.8,608.7 163.8,608.5 164.8,608.5 165.8,608.8 166.8,608.3 167.8,608.6 168.8,608.3 169.8,608.4 170.8,608.4 171.8,608.7 172.8,608.4 173.8,608.7 174.8,608.4 175.8,608.6 176.8,608.8 177.8,608.7 178.8,609.0 179.8,609.0 180.8,608.7 181.8,608.8 182.8,608.8 183.8,608.9 184.8,609.1 185.8,609.0 186.8,608.7 187.8,609.0 188.8,608.8 189.8,609.0 190.8,609.1 191.8,609.1 192.8,608.9 193.8,608.6 194.8,608.7 195.8,608.7 196.8,608.8 197.8,608.9 198.8,608.9 199.8,608.8 200.8,609.0 201.8,609.0 202.8,609.1 203.8,608.8 204.8,608.6 205.8,608.7 206.8,608.6 207.8,608.7 208.8,609.0 209.8,608.7 210.8,608.7 211.8,608.6 212.8,608.5 213.8,608.6 214.8,608.7 215.8,608.6 216.8,608.3 217.8,608.5 218.8,608.0 219.8,607.8 220.8,608.1 221.8,607.6 222.8,607.8 223.8,607.6 224.8,607.1 225.8,607.2 226.8,606.5 227.4,606.3 227.8,605.9 227.9,606.1 228.4,605.6 228.8,605.8 228.9,605.4 229.4,605.0 229.8,605.1 229.9,604.7 230.4,604.3 230.8,604.1 230.9,604.4 231.4,604.0 231.8,603.5 231.9,603.4 232.4,603.0 232.8,603.1 232.9,602.9 233.4,602.8 233.8,602.8 233.9,603.0 234.4,603.1 234.8,603.1 234.9,603.4 235.4,603.8 235.8,603.5 235.9,604.0 236.4,604.1 236.8,604.4 236.9,604.4 237.4,604.6 237.8,604.9 237.9,605.0 238.4,604.8 238.8,605.4 238.9,605.3 239.4,605.1 239.8,605.3 240.8,605.6 241.8,605.9 242.8,606.1 243.8,606.0 244.8,605.9 245.8,605.8 246.8,606.1 247.8,605.8 248.8,605.9 249.8,606.0 250.8,605.9 251.8,605.6 252.8,605.9 253.8,605.4 254.8,605.6 255.8,605.1 256.8,604.9 257.8,605.2 258.8,604.6 259.8,605.0 260.8,604.5 261.8,604.2 262.8,604.5 263.8,604.4 264.8,603.9 265.8,603.7 266.8,603.9 267.8,603.6 268.8,603.3 269.8,603.2 270.8,602.9 271.8,603.3 272.8,603.0 273.8,602.9 274.8,602.3 275.8,602.1 276.8,602.1 277.8,602.0 278.8,602.1 279.8,601.9 280.8,601.5 281.8,601.7 282.8,601.8 283.8,601.3 284.8,601.0 285.8,601.4 286.8,601.1 287.8,601.1 288.8,601.1 289.8,601.1 290.8,600.7 291.8,600.6 292.8,600.8 293.8,600.3 294.8,600.5 295.8,600.6 296.8,600.3 297.3,600.7 297.8,600.4 298.3,600.1 298.8,600.4 299.3,600.4 299.8,600.3 300.3,600.6 300.8,600.4 301.3,600.6 301.8,600.5 302.3,600.5 302.8,600.2 303.3,600.7 303.8,600.2 304.3,600.2 304.8,600.5 305.3,600.7 305.8,600.7 306.3,600.4 306.8,600.6 307.3,600.6 307.8,600.6 308.3,600.9 308.8,600.3 309.3,600.6 309.8,600.6 310.8,600.5 311.8,601.0 312.8,601.0 313.8,600.9 314.8,601.2 315.8,601.0 316.8,601.4 317.8,601.5 318.8,601.3 319.8,601.6 320.8,601.7 321.8,601.7 322.8,602.4 323.8,602.3 324.8,602.6 325.8,602.3 326.8,602.7 327.8,602.7 328.8,602.8 329.8,603.5 330.8,603.7 331.8,603.7 332.8,603.7 333.8,603.8 334.8,604.1 335.8,604.4 336.8,604.7 337.8,605.0 338.8,605.1 339.8,605.2 340.8,605.2 341.8,605.8 342.8,605.5 343.8,605.8 344.8,605.9 345.8,606.1 346.8,606.4 347.8,607.0 348.8,607.2 349.8,607.1 350.8,607.0 351.8,607.6 352.8,607.8 353.8,607.6 354.8,607.8 355.8,608.2 356.8,608.5 357.8,608.7 358.8,608.6 359.8,608.6 360.8,609.1 361.8,608.9 362.8,609.1 363.8,609.4 364.8,609.7 365.8,609.8 366.8,609.9 367.8,609.8 368.8,609.9 369.8,610.4 370.8,610.5 371.8,610.3 372.8,610.3 373.8,610.8 374.8,610.6 375.3,611.0" fill="none" stroke="#6e1c1c" stroke-width="1.6" stroke-linejoin="round" />
<polyline points="157.8,616.5 158.8,616.5 159.8,616.5 160.8,616.2 161.8,616.6 162.8,616.7 163.8,616.4 164.8,616.1 165.8,616.1 166.8,616.3 167.8,616.5 168.8,616.2 169.8,616.3 170.8,616.1 171.8,616.3 172.8,616.4 173.8,616.1 174.8,616.0 175.8,616.1 176.8,615.9 177.8,616.0 178.8,615.6 179.8,615.6 180.8,615.8 181.8,615.9 182.8,615.4 183.8,615.8 184.8,615.7 185.8,615.2 186.8,615.4 187.8,615.3 188.8,615.1 189.8,615.2 190.8,615.1 191.8,615.1 192.8,614.4 193.8,614.3 194.8,614.4 195.8,614.0 196.8,614.0 197.8,613.7 198.8,613.9 199.8,613.6 200.8,613.5 201.8,612.8 202.8,612.8 203.8,612.2 204.8,612.0 205.8,611.8 206.8,611.6 207.8,611.2 208.8,610.5 209.8,610.2 210.8,609.2 211.8,608.7 212.8,607.7 213.8,607.2 214.8,606.1 215.8,605.3 216.8,604.1 217.8,602.4 218.8,600.9 219.8,599.3 220.8,597.1 221.8,595.3 222.8,592.3 223.8,589.2 224.8,586.3 225.8,582.4 226.8,578.7 227.6,575.0 227.8,574.3 228.1,572.9 228.6,570.4 228.8,569.8 229.1,568.5 229.6,566.3 229.8,565.6 230.1,564.1 230.6,562.2 230.8,561.4 231.1,560.6 231.6,558.8 231.8,558.6 232.1,557.9 232.6,557.1 232.8,556.5 233.1,556.2 233.6,556.0 233.8,556.0 234.1,556.5 234.6,556.7 234.8,557.0 235.1,557.9 235.6,559.0 235.8,559.8 236.1,560.7 236.6,562.1 236.8,562.9 237.1,564.2 237.6,566.3 237.8,567.4 238.1,568.5 238.6,570.8 238.8,571.3 239.1,572.7 239.6,575.2 239.8,576.1 240.8,580.2 241.8,584.3 242.8,587.4 243.8,590.8 244.8,593.6 245.8,596.4 246.8,598.1 247.8,599.9 248.8,601.7 249.8,603.4 250.8,604.9 251.8,605.8 252.8,607.0 253.8,607.9 254.8,608.3 255.8,609.2 256.8,610.1 257.8,610.6 258.8,611.1 259.8,611.2 260.8,611.5 261.8,612.1 262.8,612.6 263.8,612.9 264.8,613.4 265.8,613.4 266.8,613.9 267.8,614.1 268.8,613.9 269.8,614.3 270.8,614.7 271.8,614.9 272.8,614.8 273.8,615.1 274.8,615.0 275.8,615.2 276.8,615.5 277.8,615.6 278.8,615.3 279.8,615.6 280.8,615.8 281.8,615.9 282.8,616.2 283.8,616.0 284.8,616.2 285.8,616.0 286.8,616.5 287.8,616.2 288.8,616.7 289.8,616.4 290.8,616.3 291.8,616.9 292.8,616.9 293.8,616.5 294.8,617.0 295.8,616.5 296.8,616.6 297.8,617.0 298.8,616.6 299.8,617.1 300.8,616.7 301.8,616.9 302.8,616.9 303.8,617.2 304.8,617.3 305.8,617.4 306.8,617.2 307.8,617.0 308.8,617.2 309.8,617.3 310.8,617.4 311.8,617.4 312.8,617.3 313.8,617.4 314.8,617.1 315.8,617.5 316.8,617.2 317.8,617.7 318.8,617.7 319.8,617.3 320.8,617.8 321.8,617.6 322.8,617.7 323.8,617.5 324.8,617.7 325.8,617.4 326.8,617.4 327.8,617.6 328.8,617.8 329.8,617.9 330.8,617.6 331.8,617.6 332.8,617.4 333.8,617.5 334.8,617.9 335.8,617.8 336.8,618.0 337.8,618.0 338.8,617.7 339.8,617.9 340.8,618.0 341.8,617.7 342.8,617.6 343.8,617.7 344.8,617.6 345.8,618.0 346.8,618.1 347.8,617.8 348.8,617.9 349.8,618.0 350.8,618.1 351.8,617.7 352.8,618.1 353.8,618.2 354.8,617.8 355.8,618.1 356.8,618.2 357.8,617.8 358.8,618.2 359.8,618.0 360.8,617.8 361.8,618.0 362.8,618.1 363.8,618.1 364.8,618.2 365.8,617.9 366.8,618.3 367.8,618.1 368.8,618.0 369.8,618.4 370.8,618.0 371.8,618.2 372.8,618.1 373.8,618.0 374.8,617.9 375.3,618.0" fill="none" stroke="#1a1a1a" stroke-width="1.6" stroke-linejoin="round" />
<line x1="157.8" y1="622.0" x2="375.3" y2="622.0" stroke="#222" stroke-width="1" />
<line x1="157.8" y1="622.0" x2="157.8" y2="619.0" stroke="#222" stroke-width="0.8" />
<text x="157.8" y="635" font-family="'Liberation Sans', Arial, sans-serif" font-size="10.5" fill="#000" stroke="#000" stroke-width="0.18" font-weight="normal" text-anchor="middle" style="">25</text>
<line x1="169.9" y1="622.0" x2="169.9" y2="620.4" stroke="#222" stroke-width="0.8" />
<line x1="182.0" y1="622.0" x2="182.0" y2="619.0" stroke="#222" stroke-width="0.8" />
<text x="182.0" y="635" font-family="'Liberation Sans', Arial, sans-serif" font-size="10.5" fill="#000" stroke="#000" stroke-width="0.18" font-weight="normal" text-anchor="middle" style="">25.5</text>
<line x1="194.0" y1="622.0" x2="194.0" y2="620.4" stroke="#222" stroke-width="0.8" />
<line x1="206.1" y1="622.0" x2="206.1" y2="619.0" stroke="#222" stroke-width="0.8" />
<text x="206.1" y="635" font-family="'Liberation Sans', Arial, sans-serif" font-size="10.5" fill="#000" stroke="#000" stroke-width="0.18" font-weight="normal" text-anchor="middle" style="">26</text>
<line x1="218.2" y1="622.0" x2="218.2" y2="620.4" stroke="#222" stroke-width="0.8" />
<line x1="230.2" y1="622.0" x2="230.2" y2="619.0" stroke="#222" stroke-width="0.8" />
<text x="230.2" y="635" font-family="'Liberation Sans', Arial, sans-serif" font-size="10.5" fill="#000" stroke="#000" stroke-width="0.18" font-weight="normal" text-anchor="middle" style="">26.5</text>
<line x1="242.3" y1="622.0" x2="242.3" y2="620.4" stroke="#222" stroke-width="0.8" />
<line x1="254.4" y1="622.0" x2="254.4" y2="619.0" stroke="#222" stroke-width="0.8" />
<text x="254.4" y="635" font-family="'Liberation Sans', Arial, sans-serif" font-size="10.5" fill="#000" stroke="#000" stroke-width="0.18" font-weight="normal" text-anchor="middle" style="">27</text>
<line x1="266.5" y1="622.0" x2="266.5" y2="620.4" stroke="#222" stroke-width="0.8" />
<line x1="278.6" y1="622.0" x2="278.6" y2="619.0" stroke="#222" stroke-width="0.8" />
<text x="278.6" y="635" font-family="'Liberation Sans', Arial, sans-serif" font-size="10.5" fill="#000" stroke="#000" stroke-width="0.18" font-weight="normal" text-anchor="middle" style="">27.5</text>
<line x1="290.6" y1="622.0" x2="290.6" y2="620.4" stroke="#222" stroke-width="0.8" />
<line x1="302.7" y1="622.0" x2="302.7" y2="619.0" stroke="#222" stroke-width="0.8" />
<text x="302.7" y="635" font-family="'Liberation Sans', Arial, sans-serif" font-size="10.5" fill="#000" stroke="#000" stroke-width="0.18" font-weight="normal" text-anchor="middle" style="">28</text>
<line x1="314.8" y1="622.0" x2="314.8" y2="620.4" stroke="#222" stroke-width="0.8" />
<line x1="326.9" y1="622.0" x2="326.9" y2="619.0" stroke="#222" stroke-width="0.8" />
<text x="326.9" y="635" font-family="'Liberation Sans', Arial, sans-serif" font-size="10.5" fill="#000" stroke="#000" stroke-width="0.18" font-weight="normal" text-anchor="middle" style="">28.5</text>
<line x1="338.9" y1="622.0" x2="338.9" y2="620.4" stroke="#222" stroke-width="0.8" />
<line x1="351.0" y1="622.0" x2="351.0" y2="619.0" stroke="#222" stroke-width="0.8" />
<text x="351.0" y="635" font-family="'Liberation Sans', Arial, sans-serif" font-size="10.5" fill="#000" stroke="#000" stroke-width="0.18" font-weight="normal" text-anchor="middle" style="">29</text>
<line x1="363.1" y1="622.0" x2="363.1" y2="620.4" stroke="#222" stroke-width="0.8" />
<line x1="375.1" y1="622.0" x2="375.1" y2="619.0" stroke="#222" stroke-width="0.8" />
<text x="375.1" y="635" font-family="'Liberation Sans', Arial, sans-serif" font-size="10.5" fill="#000" stroke="#000" stroke-width="0.18" font-weight="normal" text-anchor="middle" style="">29.5</text>
<text x="267" y="647" font-family="'Liberation Sans', Arial, sans-serif" font-size="11" stroke="#000" stroke-width="0.15" text-anchor="middle">2<tspan font-style="italic">θ</tspan> / ° (CuKα)</text>
<text x="165.9" y="520.6" font-family="'Liberation Sans', Arial, sans-serif" font-size="15.5" fill="#000" stroke="#000" stroke-width="0.25" textLength="18.6" lengthAdjust="spacingAndGlyphs">(d)</text>
<text transform="translate(237.2 541.3) rotate(-90)" font-family="'Liberation Sans', Arial, sans-serif" font-size="10.8" fill="#111" font-weight="bold" textLength="18.1" lengthAdjust="spacingAndGlyphs" style="">002</text>
<text transform="translate(239.6 523.0) rotate(-90)" font-family="'Liberation Sans', Arial, sans-serif" font-size="7.0" fill="#111" font-weight="bold" textLength="29.3" lengthAdjust="spacingAndGlyphs" style="">graphite</text>
<text transform="translate(306.4 563.8) rotate(-90)" font-family="'Liberation Sans', Arial, sans-serif" font-size="10.6" fill="#7a1f1f" font-weight="bold" textLength="17.4" lengthAdjust="spacingAndGlyphs" style="">009</text>
<text transform="translate(309.6 546.2) rotate(-90)" font-family="'Liberation Sans', Arial, sans-serif" font-size="7.0" fill="#7a1f1f" font-weight="bold" textLength="25.0" lengthAdjust="spacingAndGlyphs" style="">stage-8</text>
<text transform="translate(358.5 591.7) rotate(-90)" font-family="'Liberation Sans', Arial, sans-serif" font-size="11.2" fill="#111" font-weight="bold" textLength="73.8" lengthAdjust="spacingAndGlyphs" style="">K-intercalation</text>
<line x1="363.4" y1="596.7" x2="363.4" y2="517" stroke="#111" stroke-width="1.6"/>
<path d="M360.2,518 L363.4,511.3 L366.6,518 Z" fill="#111"/>
<line x1="220.5" y1="553.5" x2="220.5" y2="584" stroke="#e8201e" stroke-width="2"/>
<path d="M217.9,583.5 L220.5,590.2 L223.1,583.5 Z" fill="#e8201e"/>
</svg>
</body></html>
